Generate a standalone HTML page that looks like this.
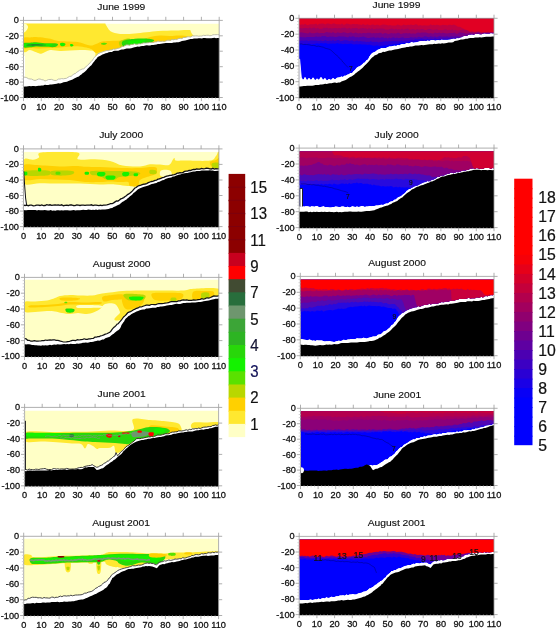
<!DOCTYPE html>
<html><head><meta charset="utf-8"><title>Figure</title>
<style>
html,body{margin:0;padding:0;background:#fff;width:557px;height:628px;overflow:hidden}
svg{display:block;filter:blur(0.35px)}
text{font-family:"Liberation Sans",Arial,sans-serif;fill:#111;stroke:#111;stroke-width:0.2px}
.al{font-size:9.2px;stroke-width:0.28px}
.ti{font-size:10.3px;stroke-width:0.15px}
.cb{font-size:15px}
.cb2{font-size:15.8px}
.cl{font-size:8.5px;fill:#111}
.sm{font-size:7px}
</style></head><body>
<svg width="557" height="628" viewBox="0 0 557 628">
<rect width="557" height="628" fill="#fff"/>
<clipPath id="cL1"><polygon points="23.5,23.6 219.2,23.6 219.2,34.8 217.6,34.6 216,34.7 214.5,34.7 212.9,34.8 211.3,35.6 209.7,35.7 208.2,35.2 206.6,35.3 205,35.5 203.4,35.3 201.9,36 200.3,36 198.7,36.2 197.1,35.9 195.6,35.9 194,36 192.3,35.9 190.5,37 188.8,36.8 187,36.9 185.3,37.5 183.6,37.5 181.9,38.6 180.1,38.3 178.4,38.7 176.7,39.5 175.1,39.3 173.6,39.8 172,39.5 170.4,40.4 168.9,40.2 167.3,40.3 165.8,41 164.2,41.4 162.6,41.2 161.1,41.4 159.5,41.4 157.9,41.1 156.4,41.9 154.8,41.9 153.2,42.5 151.6,42.6 150.1,42.4 148.5,42.7 146.9,42.9 145.3,43.1 143.8,42.9 142.2,43.3 140.6,43.9 139.1,43.8 137.5,44.2 135.9,44.3 134.4,43.8 132.8,44.5 131.3,44.4 129.7,45.2 128.1,45 126.6,44.9 125,45.5 123.6,46.5 122.2,46.4 120.8,47.4 119.4,48.1 118,48.3 116.6,48.8 114.9,49.2 113.3,49.1 111.7,49.9 110,50 108.5,50.6 107,50.4 105.5,50.9 104,51.3 102.4,52 100.8,52.4 99.3,53.2 97.7,53.9 96.7,55.3 95.6,56.1 94.6,57.2 93.5,58.5 92.5,60.2 91.4,61.4 90.1,62.5 88.9,64.1 87.6,65.3 86.4,66.1 85.1,67.7 83.7,68.8 82.3,69 80.8,69.6 79.4,70.4 78,71.5 76.7,72.2 75.3,73.7 73.9,73.8 72.6,75.2 71.1,76.3 69.6,76.4 68,77.3 66.5,78.3 65,78.5 63.3,78.8 61.7,78.6 60,79 58.3,79.1 56.7,80.3 55,80.5 53.3,80.1 51.7,79.4 50,79.5 48.3,79.6 46.7,80.4 45,81 43.3,79.9 41.7,79.7 40,79 38.3,79.1 36.7,79.9 35,80.5 33.3,80 31.7,79.1 30,79 28.4,78.7 26.8,77.7 25.1,77.3 23.5,77"/></clipPath>
<g clip-path="url(#cL1)">
<polygon points="23.5,23.6 219.2,23.6 219.2,34.8 217.6,34.6 216,34.7 214.5,34.7 212.9,34.8 211.3,35.6 209.7,35.7 208.2,35.2 206.6,35.3 205,35.5 203.4,35.3 201.9,36 200.3,36 198.7,36.2 197.1,35.9 195.6,35.9 194,36 192.3,35.9 190.5,37 188.8,36.8 187,36.9 185.3,37.5 183.6,37.5 181.9,38.6 180.1,38.3 178.4,38.7 176.7,39.5 175.1,39.3 173.6,39.8 172,39.5 170.4,40.4 168.9,40.2 167.3,40.3 165.8,41 164.2,41.4 162.6,41.2 161.1,41.4 159.5,41.4 157.9,41.1 156.4,41.9 154.8,41.9 153.2,42.5 151.6,42.6 150.1,42.4 148.5,42.7 146.9,42.9 145.3,43.1 143.8,42.9 142.2,43.3 140.6,43.9 139.1,43.8 137.5,44.2 135.9,44.3 134.4,43.8 132.8,44.5 131.3,44.4 129.7,45.2 128.1,45 126.6,44.9 125,45.5 123.6,46.5 122.2,46.4 120.8,47.4 119.4,48.1 118,48.3 116.6,48.8 114.9,49.2 113.3,49.1 111.7,49.9 110,50 108.5,50.6 107,50.4 105.5,50.9 104,51.3 102.4,52 100.8,52.4 99.3,53.2 97.7,53.9 96.7,55.3 95.6,56.1 94.6,57.2 93.5,58.5 92.5,60.2 91.4,61.4 90.1,62.5 88.9,64.1 87.6,65.3 86.4,66.1 85.1,67.7 83.7,68.8 82.3,69 80.8,69.6 79.4,70.4 78,71.5 76.7,72.2 75.3,73.7 73.9,73.8 72.6,75.2 71.1,76.3 69.6,76.4 68,77.3 66.5,78.3 65,78.5 63.3,78.8 61.7,78.6 60,79 58.3,79.1 56.7,80.3 55,80.5 53.3,80.1 51.7,79.4 50,79.5 48.3,79.6 46.7,80.4 45,81 43.3,79.9 41.7,79.7 40,79 38.3,79.1 36.7,79.9 35,80.5 33.3,80 31.7,79.1 30,79 28.4,78.7 26.8,77.7 25.1,77.3 23.5,77" fill="rgb(255,255,198)"/>
<path d="M23.5 22.5C36.9 17.8 90.4 22.3 104 22.5C117.6 22.7 104.1 22.4 105.2 23.8C106.3 25.2 108 29.5 110.5 31.2C113 32.9 116.1 33.5 120.2 33.9C124.3 34.3 128.7 34 135 33.5C141.3 33 151.3 31.5 158 31C164.7 30.5 170 30.7 175 30.5C180 30.3 185.3 29.8 188 30C190.7 30.2 190.3 29.5 191 32C191.7 34.5 200.5 41.7 192 45C183.5 48.3 155.3 49.5 140 52C124.7 54.5 107.5 60 100 60C92.5 60 96.7 53.6 95 52C93.3 50.4 92.5 50.8 90 50.5C87.5 50.2 83.3 50 80 50C76.7 50 73.3 50.3 70 50.5C66.7 50.7 63.3 51.1 60 51C56.7 50.9 53 49.6 50 50C47 50.4 44 53 42 53.5C40 54 40 53.6 38 53C36 52.4 32.4 50.4 30 50C27.6 49.6 24.6 55.1 23.5 50.5C22.4 45.9 10.1 27.2 23.5 22.5Z" fill="rgb(255,232,48)"/>
<path d="M23.5 24C23.9 22.7 25.2 23.5 26 24C26.8 24.5 28 25.8 28 27C28 28.2 26.8 30.2 26 31C25.2 31.8 23.9 33.2 23.5 32C23.1 30.8 23.1 25.3 23.5 24Z" fill="rgb(255,255,198)"/>
<path d="M23.5 38.2C24.6 36.5 27.9 37.7 30 37.5C32.1 37.3 33.5 37 36 37.1C38.5 37.2 42.3 37.6 45 38C47.7 38.4 49.8 38.7 52 39.2C54.2 39.7 55 40.5 58 40.9C61 41.3 66.3 41.2 70 41.5C73.7 41.8 76.7 41.8 80 42.5C83.3 43.2 87.3 45.2 90 45.5C92.7 45.8 94 44.7 96 44C98 43.3 99.7 42 102 41.5C104.3 41 106.2 41.1 110 40.9C113.8 40.7 120 40.6 125 40.5C130 40.4 135.8 40.6 140 40C144.2 39.4 146.7 37.8 150 37C153.3 36.2 156.7 35.7 160 35.5C163.3 35.3 166.7 36 170 36C173.3 36 177 35.3 180 35.5C183 35.7 186.3 35.2 188 37C189.7 38.8 194.7 44.2 190 46C185.3 47.8 169.2 47.7 160 48C150.8 48.3 143.3 47.7 135 48C126.7 48.3 115.8 49.3 110 50C104.2 50.7 102.3 51.5 100 52C97.7 52.5 97.3 53.4 96 53C94.7 52.6 93.3 50.3 92 49.5C90.7 48.7 90 48.5 88 48C86 47.5 83 46.8 80 46.5C77 46.2 73.3 46.3 70 46.5C66.7 46.7 63.3 47.2 60 47.5C56.7 47.8 53.3 47.8 50 48C46.7 48.2 43.3 48.5 40 48.5C36.7 48.5 32.8 48.1 30 48C27.2 47.9 24.6 49.6 23.5 48C22.4 46.4 22.4 40 23.5 38.2Z" fill="rgb(255,208,0)"/>
<path d="M23.5 43.3C24.6 42.5 27.9 43 30 42.8C32.1 42.6 33.5 42.2 36 42.3C38.5 42.4 41.8 43.1 45 43.3C48.2 43.5 52.8 43.1 55 43.3C57.2 43.5 58 43.9 58 44.5C58 45.1 57.2 46.6 55 47C52.8 47.4 48.2 46.9 45 46.8C41.8 46.7 38.5 46.4 36 46.5C33.5 46.6 32.1 47.2 30 47.3C27.9 47.4 24.6 48 23.5 47.3C22.4 46.6 22.4 44 23.5 43.3Z" fill="rgb(40,215,10)"/>
<path d="M24 44C25 43.5 28 43.7 30 43.5C32 43.3 33.7 42.9 36 43C38.3 43.1 41.3 43.8 44 44C46.7 44.2 51 44 52 44.2C53 44.5 52 45.3 50 45.5C48 45.7 43.3 45.5 40 45.6C36.7 45.7 32.7 45.9 30 46C27.3 46.1 25 46.5 24 46.2C23 45.9 23 44.5 24 44Z" fill="rgb(20,242,0)"/>
<path d="M27 44.8C28.3 44.6 32.8 44.3 36 44.3C39.2 44.3 45.7 44.8 46 45C46.3 45.2 41 45.5 38 45.6C35 45.7 29.8 45.7 28 45.6C26.2 45.5 25.7 45 27 44.8Z" fill="rgb(40,110,60)"/>
<path d="M60 43.5C60.3 43 62.1 42.7 63 42.8C63.9 42.9 65.3 43.5 65.5 44C65.7 44.5 64.8 45.7 64 46C63.2 46.3 61.7 46.4 61 46C60.3 45.6 59.7 44 60 43.5Z" fill="rgb(20,242,0)"/>
<path d="M70 44.5C70.2 44.1 71.4 43.8 72 44C72.6 44.2 73.7 45.1 73.5 45.5C73.3 45.9 71.6 46.7 71 46.5C70.4 46.3 69.8 44.9 70 44.5Z" fill="rgb(20,242,0)"/>
<path d="M101 43.5C101.3 43.2 103 42.8 104 42.8C105 42.8 106.8 43 107 43.3C107.2 43.6 105.8 44.6 105 44.8C104.2 45 102.7 44.8 102 44.6C101.3 44.4 100.7 43.8 101 43.5Z" fill="rgb(90,225,0)"/>
<path d="M119 42C119.5 40.8 122.2 40 124 39.5C125.8 39 129.3 38.1 130 39C130.7 39.9 129.5 43.7 128 45C126.5 46.3 122.5 47.5 121 47C119.5 46.5 118.5 43.2 119 42Z" fill="rgb(185,215,0)"/>
<path d="M123 41C125 39.8 131.3 39.2 135 38.8C138.7 38.4 141.8 38.4 145 38.6C148.2 38.8 153.2 39.3 154 40C154.8 40.7 152.3 42.1 150 43C147.7 43.9 143.3 44.9 140 45.5C136.7 46.1 132.8 46.4 130 46.5C127.2 46.6 124.2 46.9 123 46C121.8 45.1 121 42.2 123 41Z" fill="rgb(40,215,10)"/>
<path d="M128 41.5C129 40.8 135 40.2 138 40C141 39.8 145.7 39.6 146 40.2C146.3 40.8 142.3 42.8 140 43.5C137.7 44.2 134 44.8 132 44.5C130 44.2 127 42.2 128 41.5Z" fill="rgb(20,242,0)"/>
<polygon points="23.5,56 25,56 25,77 23.5,77" fill="#fff"/>
</g>
<polyline points="23.5,77 25.1,77.3 26.8,77.7 28.4,78.7 30,79 31.7,79.1 33.3,80 35,80.5 36.7,79.9 38.3,79.1 40,79 41.7,79.7 43.3,79.9 45,81 46.7,80.4 48.3,79.6 50,79.5 51.7,79.4 53.3,80.1 55,80.5 56.7,80.3 58.3,79.1 60,79 61.7,78.6 63.3,78.8 65,78.5 66.5,78.3 68,77.3 69.6,76.4 71.1,76.3 72.6,75.2 73.9,73.8 75.3,73.7 76.7,72.2 78,71.5 79.4,70.4 80.8,69.6 82.3,69 83.7,68.8 85.1,67.7 86.4,66.1 87.6,65.3 88.9,64.1 90.1,62.5 91.4,61.4 92.5,60.2 93.5,58.5 94.6,57.2 95.6,56.1 96.7,55.3 97.7,53.9 99.3,53.2 100.8,52.4 102.4,52 104,51.3 105.5,50.9 107,50.4 108.5,50.6 110,50 111.7,49.9 113.3,49.1 114.9,49.2 116.6,48.8 118,48.3 119.4,48.1 120.8,47.4 122.2,46.4 123.6,46.5 125,45.5 126.6,44.9 128.1,45 129.7,45.2 131.3,44.4 132.8,44.5 134.4,43.8 135.9,44.3 137.5,44.2 139.1,43.8 140.6,43.9 142.2,43.3 143.8,42.9 145.3,43.1 146.9,42.9 148.5,42.7 150.1,42.4 151.6,42.6 153.2,42.5 154.8,41.9 156.4,41.9 157.9,41.1 159.5,41.4 161.1,41.4 162.6,41.2 164.2,41.4 165.8,41 167.3,40.3 168.9,40.2 170.4,40.4 172,39.5 173.6,39.8 175.1,39.3 176.7,39.5 178.4,38.7 180.1,38.3 181.9,38.6 183.6,37.5 185.3,37.5 187,36.9 188.8,36.8 190.5,37 192.3,35.9 194,36 195.6,35.9 197.1,35.9 198.7,36.2 200.3,36 201.9,36 203.4,35.3 205,35.5 206.6,35.3 208.2,35.2 209.7,35.7 211.3,35.6 212.9,34.8 214.5,34.7 216,34.7 217.6,34.6 219.2,34.8" fill="none" stroke="#b8b8a0" stroke-width="0.9"/>
<polygon points="23.5,98.1 23.5,86.7 25,86.6 26.5,86.6 28,86.3 29.5,86 31,86.2 32.5,86 34,86 35.5,86.2 37,85.9 38.5,85.7 40,85.7 41.5,85.5 43.2,85.4 44.9,84.8 46.6,85.1 48.3,84.9 50,84.5 51.7,84.5 53.3,84.3 55,83.9 56.7,83.7 58.3,83.3 60,83.4 61.8,83.1 63.5,82.3 65.2,81.9 67,81.8 68.4,81.1 69.8,80.5 71.2,80.1 72.6,79.6 74.2,78.6 75.8,77.8 77.3,77.1 78.9,76.5 80.1,75.2 81.4,74.4 82.6,73.2 83.9,72.6 85.1,71.4 86.4,70.2 87.6,68.7 88.9,67.5 90.1,66.3 91.4,65.2 92.4,63.8 93.3,62.4 94.2,61.6 95.2,60.1 96.5,58.8 97.7,57 99.3,56.2 100.8,55.4 102.4,54.4 104,53.9 105.6,53.2 107.2,52.9 108.7,52.3 110.3,52 111.9,51.9 113.4,51.1 115,50.7 116.6,50.7 118.3,50.7 120,50.1 121.6,49.5 123.3,49.4 125,49.1 126.6,48.5 128.1,48.6 129.7,48.5 131.3,48.2 132.8,47.8 134.4,47.3 135.9,47 137.5,46.6 139.1,46.7 140.6,46.3 142.2,46 143.8,46 145.3,45.5 146.9,45.3 148.5,45.5 150.1,45.4 151.6,45.1 153.2,44.9 154.8,44.7 156.4,44.5 157.9,44 159.5,44 161.1,43.8 162.6,43.6 164.2,43.2 165.8,43.1 167.3,43 168.9,42.9 170.4,43 172,43 173.6,42.5 175.1,42.6 176.7,42.2 178.4,42.2 180.1,41.8 181.9,41.1 183.6,40.7 185.3,40.5 187,39.9 188.8,39.5 190.5,39.1 192.3,38.9 194,38.4 195.6,38.6 197.1,38.5 198.7,38.3 200.3,38.3 201.9,38.4 203.4,37.9 205,38.1 206.6,38.2 208.2,38.3 209.7,38.2 211.3,38.2 212.9,38 214.5,37.8 216,38.2 217.6,37.9 219.2,38 219.2,98.1" fill="#000"/>
<clipPath id="cL2"><polygon points="23.5,151.8 218.9,151.8 218.9,168.9 217.4,168.8 215.9,168.7 214.4,169.1 212.8,168.3 211.3,169 209.8,168.9 208.3,168.4 206.6,168.1 204.9,168.7 203.2,168.9 201.6,168.4 199.9,169.2 198.2,169.2 196.5,169 195,169.5 193.5,169.3 192,169.9 190.5,170.5 189,170.4 187.6,171.1 186.1,171.1 184.6,171.4 183.1,172.4 181.6,172.8 180.2,172.7 178.7,173 177.2,173.2 175.7,174.2 174.2,174.6 172.8,174.8 171.3,175.4 169.8,175.4 168.3,175.8 166.8,176.2 165.3,176.7 163.9,177.4 162.4,177.7 160.9,178.3 159.4,178.9 157.9,179.2 156.5,180.2 155,180.3 153.3,181.1 151.7,181.5 150,182 148.3,182.7 146.7,183.6 145,184 142.9,184.3 140.9,185.1 139.1,185.5 137.3,186.5 136.1,187.5 134.9,188 133.7,189.4 132.5,190.9 131.3,191.9 130.1,193 128.8,193.9 127.6,194.6 126.3,195.7 125.1,196.5 123.7,197.6 122.2,198.3 120.8,198.9 119.4,200.1 118,201.1 116.5,201 115.1,201.9 113.6,202.9 112.2,203.7 110.4,203.6 108.6,204.5 106.8,204.9 105,205.2 103.5,205.2 102,205.6 100.5,205.1 99,205.6 97.5,205.3 96,205.2 94.5,205.1 93,205.6 91.5,204.8 90,205.2 88.3,205.2 86.7,205.1 85,205.4 83.3,205.1 81.7,205.2 80,205.5 78.3,205.2 76.7,205 75,205.6 73.3,205.5 71.7,205 70,205 68.3,205.5 66.7,205.1 65,205.3 63.3,205.7 61.7,204.8 60,205.3 58.3,204.8 56.7,205.2 55,204.9 53.3,205.1 51.7,205.4 50,204.8 48.3,205.2 46.7,204.7 45,205.5 43.3,205.7 41.7,205 40,205.5 38.3,205.1 36.6,205.1 35,205.6 33.3,205.8 31.6,205.2 30,205.2 28.3,205.7 26.6,205.2 25.1,205.5 23.5,205.2"/></clipPath>
<g clip-path="url(#cL2)">
<polygon points="23.5,151.8 218.9,151.8 218.9,168.9 217.4,168.8 215.9,168.7 214.4,169.1 212.8,168.3 211.3,169 209.8,168.9 208.3,168.4 206.6,168.1 204.9,168.7 203.2,168.9 201.6,168.4 199.9,169.2 198.2,169.2 196.5,169 195,169.5 193.5,169.3 192,169.9 190.5,170.5 189,170.4 187.6,171.1 186.1,171.1 184.6,171.4 183.1,172.4 181.6,172.8 180.2,172.7 178.7,173 177.2,173.2 175.7,174.2 174.2,174.6 172.8,174.8 171.3,175.4 169.8,175.4 168.3,175.8 166.8,176.2 165.3,176.7 163.9,177.4 162.4,177.7 160.9,178.3 159.4,178.9 157.9,179.2 156.5,180.2 155,180.3 153.3,181.1 151.7,181.5 150,182 148.3,182.7 146.7,183.6 145,184 142.9,184.3 140.9,185.1 139.1,185.5 137.3,186.5 136.1,187.5 134.9,188 133.7,189.4 132.5,190.9 131.3,191.9 130.1,193 128.8,193.9 127.6,194.6 126.3,195.7 125.1,196.5 123.7,197.6 122.2,198.3 120.8,198.9 119.4,200.1 118,201.1 116.5,201 115.1,201.9 113.6,202.9 112.2,203.7 110.4,203.6 108.6,204.5 106.8,204.9 105,205.2 103.5,205.2 102,205.6 100.5,205.1 99,205.6 97.5,205.3 96,205.2 94.5,205.1 93,205.6 91.5,204.8 90,205.2 88.3,205.2 86.7,205.1 85,205.4 83.3,205.1 81.7,205.2 80,205.5 78.3,205.2 76.7,205 75,205.6 73.3,205.5 71.7,205 70,205 68.3,205.5 66.7,205.1 65,205.3 63.3,205.7 61.7,204.8 60,205.3 58.3,204.8 56.7,205.2 55,204.9 53.3,205.1 51.7,205.4 50,204.8 48.3,205.2 46.7,204.7 45,205.5 43.3,205.7 41.7,205 40,205.5 38.3,205.1 36.6,205.1 35,205.6 33.3,205.8 31.6,205.2 30,205.2 28.3,205.7 26.6,205.2 25.1,205.5 23.5,205.2" fill="rgb(255,255,198)"/>
<path d="M23.5 160.3C25.1 156.4 30.4 160.3 33 159.8C35.6 159.3 37.6 158.7 39 157.5C40.4 156.3 35.1 153.2 41.5 152.4C47.9 151.6 71.2 151.2 77.3 152.4C83.4 153.6 75 158.2 78 159.3C81 160.5 89.7 159 95 159.3C100.3 159.6 105.4 159.9 110 161C114.6 162.1 117.7 164.7 122.7 165.6C127.7 166.5 135.4 166.7 140 166.5C144.6 166.3 146.7 164.6 150 164.3C153.3 164 156.8 164.4 160 164.5C163.2 164.6 166.9 165.8 169 165C171.1 164.2 171.7 161.2 172.6 160C173.5 158.8 173.9 157.9 174.5 158C175.1 158.1 174.2 160.2 176 160.6C177.8 161 179.3 160.6 185 160.6C190.7 160.6 204.8 161.4 210 160.6C215.2 159.8 214.5 157.4 216 156C217.5 154.6 218.5 148.8 219 152C219.5 155.2 227.2 171 219 175C210.8 179 179.8 175.2 170 176C160.2 176.8 163.3 178.7 160 180C156.7 181.3 153.3 183 150 184C146.7 185 142.5 185.7 140 186C137.5 186.3 137.5 186.1 135 186C132.5 185.9 128.3 186 125 185.7C121.7 185.4 119.2 184.6 115 184.4C110.8 184.2 105.8 184.6 100 184.4C94.2 184.2 86.7 183.7 80 183.5C73.3 183.3 66.7 183.6 60 183.5C53.3 183.4 46.1 183.3 40 183.2C33.9 183.1 26.2 186.8 23.5 183C20.8 179.2 21.9 164.2 23.5 160.3Z" fill="rgb(255,232,48)"/>
<path d="M23.5 165.6C25.4 163.2 31.4 165 35 165C38.6 165 40.8 165.3 45 165.6C49.2 165.8 54.7 166.4 60 166.5C65.3 166.6 72.8 165.9 77 166C81.2 166.1 81.2 166.6 85 166.8C88.8 167 93.8 166.8 100 167C106.2 167.2 115.3 167.8 122 168C128.7 168.2 135.3 168.2 140 168C144.7 167.8 147.3 167.1 150 167C152.7 166.9 154.8 167 156 167.5C157.2 168 157 168.9 157 170C157 171.1 157.2 173 156 174C154.8 175 152.7 175 150 176C147.3 177 142 178.3 140 180C138 181.7 139.7 185 138 186C136.3 187 131.7 186.7 130 186C128.3 185.3 129.7 182.7 128 182C126.3 181.3 123 182.1 120 182C117 181.9 113.3 181.5 110 181.5C106.7 181.5 104.2 181.9 100 182C95.8 182.1 90 182.3 85 182C80 181.7 75 180.4 70 180C65 179.6 60 179.7 55 179.5C50 179.3 45.2 179 40 179C34.8 179 26.2 181.7 23.5 179.5C20.8 177.3 21.6 168 23.5 165.6Z" fill="rgb(255,208,0)"/>
<path d="M210 162C210.7 160.8 214.5 160.7 216 160C217.5 159.3 218.5 157 219 158C219.5 159 220.2 164.5 219 166C217.8 167.5 213.5 167.7 212 167C210.5 166.3 209.3 163.2 210 162Z" fill="rgb(255,208,0)"/>
<path d="M24 171C27.8 170.2 42.7 170.2 47 170.5C51.3 170.8 50 172.2 50 173C50 173.8 51.3 175.1 47 175.5C42.7 175.9 27.8 176.2 24 175.5C20.2 174.8 20.2 171.8 24 171Z" fill="rgb(185,215,0)"/>
<path d="M52 171C55.3 170.3 68.5 170.5 72 171C75.5 171.5 74.2 173.2 73 174C71.8 174.8 68.5 175.3 65 175.5C61.5 175.7 54.2 175.8 52 175C49.8 174.2 48.7 171.7 52 171Z" fill="rgb(185,215,0)"/>
<path d="M92 171C96.7 170.3 112.3 170.8 120 171C127.7 171.2 135 171.3 138 172C141 172.7 141 174.2 138 175C135 175.8 123.8 176.3 120 177C116.2 177.7 117.3 179 115 179.4C112.7 179.8 108.5 180 106 179.4C103.5 178.8 102.3 176.7 100 176C97.7 175.3 93.3 175.8 92 175C90.7 174.2 87.3 171.7 92 171Z" fill="rgb(185,215,0)"/>
<path d="M150 170C151 169.4 155 169.9 156 170.5C157 171.1 157 173.2 156 173.8C155 174.4 151 174.4 150 173.8C149 173.2 149 170.6 150 170Z" fill="rgb(185,215,0)"/>
<path d="M212 163.5C213 162.8 217.8 162.2 218.9 163C220.1 163.8 219.9 167.2 218.9 168C217.9 168.8 214.2 168.2 213 167.5C211.8 166.8 211 164.2 212 163.5Z" fill="rgb(185,215,0)"/>
<path d="M38.3 168C38.8 167.6 40.6 168 41 168.5C41.4 169 41.4 170.8 40.9 171.2C40.4 171.6 38.7 171.7 38.3 171.2C37.9 170.7 37.8 168.4 38.3 168Z" fill="rgb(20,242,0)"/>
<path d="M24 172C24.5 171.5 26.5 171.5 27 172C27.5 172.5 27.5 174.5 27 175C26.5 175.5 24.5 175.5 24 175C23.5 174.5 23.5 172.5 24 172Z" fill="rgb(20,242,0)"/>
<path d="M56 172C56.7 171.6 59.3 171.6 60 172C60.7 172.4 60.7 174.1 60 174.5C59.3 174.9 56.7 174.9 56 174.5C55.3 174.1 55.3 172.4 56 172Z" fill="rgb(90,225,0)"/>
<path d="M85 172C85.6 171.6 88 171.6 88.6 172C89.2 172.4 89.2 174.1 88.6 174.5C88 174.9 85.6 174.9 85 174.5C84.4 174.1 84.4 172.4 85 172Z" fill="rgb(20,242,0)"/>
<path d="M97.6 172.5C98.8 171.9 103.9 171.9 105 172.5C106.1 173.1 105.2 175.4 104 176C102.8 176.6 99.1 176.6 98 176C96.9 175.4 96.4 173.1 97.6 172.5Z" fill="rgb(20,242,0)"/>
<path d="M106 176C107.3 175.4 113.7 175.4 115 176C116.3 176.6 115.3 178.8 114 179.4C112.7 180 108.3 180 107 179.4C105.7 178.8 104.7 176.6 106 176Z" fill="rgb(20,242,0)"/>
<path d="M122.7 172.5C123.7 171.9 128.1 171.9 129 172.5C129.9 173.1 129 175.4 128 176C127 176.6 123.9 176.6 123 176C122.1 175.4 121.7 173.1 122.7 172.5Z" fill="rgb(20,242,0)"/>
<path d="M134 173.5C134.6 173.1 137.2 173.1 137.8 173.5C138.4 173.9 138.1 175.6 137.5 176C136.9 176.4 134.6 176.4 134 176C133.4 175.6 133.4 173.9 134 173.5Z" fill="rgb(20,242,0)"/>
<path d="M161 170.5C162.5 169.5 168.3 169.6 170 170.5C171.7 171.4 172.5 175 171 176C169.5 177 162.7 177.2 161 176.3C159.3 175.4 159.5 171.5 161 170.5Z" fill="rgb(255,255,198)"/>
<polygon points="23.3,172 23.9,172 24.8,185 25.8,198 26.8,206 23.3,206" fill="#fff"/>
</g>
<polyline points="23.5,205.2 25.1,205.5 26.6,205.2 28.3,205.7 30,205.2 31.6,205.2 33.3,205.8 35,205.6 36.6,205.1 38.3,205.1 40,205.5 41.7,205 43.3,205.7 45,205.5 46.7,204.7 48.3,205.2 50,204.8 51.7,205.4 53.3,205.1 55,204.9 56.7,205.2 58.3,204.8 60,205.3 61.7,204.8 63.3,205.7 65,205.3 66.7,205.1 68.3,205.5 70,205 71.7,205 73.3,205.5 75,205.6 76.7,205 78.3,205.2 80,205.5 81.7,205.2 83.3,205.1 85,205.4 86.7,205.1 88.3,205.2 90,205.2 91.5,204.8 93,205.6 94.5,205.1 96,205.2 97.5,205.3 99,205.6 100.5,205.1 102,205.6 103.5,205.2 105,205.2 106.8,204.9 108.6,204.5 110.4,203.6 112.2,203.7 113.6,202.9 115.1,201.9 116.5,201 118,201.1 119.4,200.1 120.8,198.9 122.2,198.3 123.7,197.6 125.1,196.5 126.3,195.7 127.6,194.6 128.8,193.9 130.1,193 131.3,191.9 132.5,190.9 133.7,189.4 134.9,188 136.1,187.5 137.3,186.5 139.1,185.5 140.9,185.1 142.9,184.3 145,184 146.7,183.6 148.3,182.7 150,182 151.7,181.5 153.3,181.1 155,180.3 156.5,180.2 157.9,179.2 159.4,178.9 160.9,178.3 162.4,177.7 163.9,177.4 165.3,176.7 166.8,176.2 168.3,175.8 169.8,175.4 171.3,175.4 172.8,174.8 174.2,174.6 175.7,174.2 177.2,173.2 178.7,173 180.2,172.7 181.6,172.8 183.1,172.4 184.6,171.4 186.1,171.1 187.6,171.1 189,170.4 190.5,170.5 192,169.9 193.5,169.3 195,169.5 196.5,169 198.2,169.2 199.9,169.2 201.6,168.4 203.2,168.9 204.9,168.7 206.6,168.1 208.3,168.4 209.8,168.9 211.3,169 212.8,168.3 214.4,169.1 215.9,168.7 217.4,168.8 218.9,168.9" fill="none" stroke="#111" stroke-width="1.3"/>
<polyline points="23.7,171 24.6,185 25.6,198 26.6,205" fill="none" stroke="#111" stroke-width="1"/>
<polygon points="23.5,227.2 23.5,210 25,210.3 26.5,210.3 28,209.9 29.5,210.1 31,210.1 32.5,210.1 34,210 35.5,210.1 37,210.4 38.5,210 40,210.3 41.5,210.3 43.1,210.3 44.6,210.1 46.2,210.3 47.7,210.5 49.2,210.4 50.8,210.1 52.3,210.7 53.8,210.6 55.4,210.7 56.9,210.2 58.5,210.3 60,210.5 61.5,210.2 63.1,210.6 64.6,210.3 66.2,210.2 67.7,210.3 69.2,210.6 70.8,210.5 72.3,210.2 73.8,210.1 75.4,210.5 76.9,210.3 78.5,210.3 80,210.2 81.7,209.9 83.3,209.8 85,210.1 86.7,209.9 88.3,209.6 90,209.8 91.5,210 93,209.8 94.5,209.9 96,209.4 97.5,209.9 99,209.4 100.5,209.8 102,209.5 103.5,209.4 105,209.5 106.8,209.2 108.6,209 110.4,208.2 112.2,208 113.6,207.1 115.1,206.6 116.5,205.7 118,204.9 119.4,204.4 120.8,203.2 122.2,202.1 123.7,201.2 125.1,200.3 126.5,199.4 127.7,198.3 128.8,197.6 130,196.3 131.1,195.4 132.3,194.4 133.5,193.1 134.7,192.2 135.9,191.2 137.7,189.6 139.5,188.6 141.3,187.8 143.2,186.9 145,186.5 146.7,186.1 148.3,185.4 150,184.8 151.7,184.1 153.3,183.8 155,183.3 156.5,183 157.9,181.9 159.4,181.7 160.9,180.9 162.4,180.3 163.9,179.9 165.3,179 166.8,178.5 168.3,178 169.8,177.7 171.3,177.4 172.8,176.6 174.2,176.4 175.7,175.8 177.2,175.3 178.7,174.8 180.2,174.4 181.6,174.1 183.1,173.6 184.6,173.3 186.1,173 187.6,173.1 189,172.5 190.5,172.3 192,171.7 193.5,171.4 195,171.5 196.5,170.9 198.2,171.1 199.9,170.9 201.6,170.6 203.2,170.5 204.9,170.4 206.6,170.4 208.3,170.4 209.8,170.3 211.3,170.5 212.8,170.4 214.4,170.9 215.9,171 217.4,170.8 218.9,170.8 218.9,227.2" fill="#000"/>
<clipPath id="cL3"><polygon points="24.5,279.5 218.8,279.5 218.8,295.6 217.2,296.2 215.6,296.1 213.9,295.9 212.3,296.6 210.5,297.5 208.8,298.1 207,297.8 205.2,298.6 203.5,299.2 201.9,298.7 200.2,299.3 198.5,299.6 196.9,299.9 195.2,300.1 193.5,299.9 191.8,300.3 190.1,300.3 188.5,300.3 186.8,299.9 185.1,300.1 183.4,299.9 181.8,300.1 180.1,300.9 178.4,300.9 176.8,301.6 175.1,301.6 173.4,301.6 171.7,301.7 170.1,301.9 168.4,302.7 166.7,303 165,303.1 163.5,303.5 161.9,303.6 160.4,303.6 158.8,303.7 157.3,304 155.8,304.6 154.2,304.6 152.7,304.5 151.1,304.5 149.5,305.3 147.8,305.1 146.2,305.2 144.6,305.7 143,306.2 141.4,307 139.8,306.8 138.1,307.9 136.5,308.3 135,309.1 133.5,309.8 132,310.8 130.5,311.6 129,312.1 127.7,312.8 126.3,314.5 124.9,315.9 123.6,316.9 122.5,318.5 121.5,319.9 120.4,321.2 119.3,322.3 118.2,323.7 117.2,324 116.1,325.3 115,326.5 114,327.3 112.9,328.3 111.9,329.6 110.8,331.3 109.8,332.2 108.3,333 106.8,333.8 105.3,334.1 103.8,334.9 102.3,335.5 100.8,335.8 99.3,336.6 97.8,336.7 96.3,337.2 94.8,337.2 93.3,338.4 91.8,338.5 90.3,338.9 88.8,338.9 87.3,339.3 85.8,339.4 84.3,338.8 82.8,339.4 81,339.7 79.2,340 77.5,339.6 75.7,340.6 73.9,340.3 72.4,340.4 70.9,340.8 69.4,341.5 67.9,341.6 66.4,341.9 64.9,342 63.4,342 61.9,341.5 60.5,341.2 59,340.6 57.5,340.4 56,340.3 54.5,339.8 53,339.8 51.5,340.2 50,339.9 48.5,340.1 47,340.3 45.5,340 44,340.6 42.5,340.5 41,340.9 39.5,341 38,341.2 36.2,341.1 34.4,340.7 32.6,341.1 30.8,341.2 29.2,340.3 27.6,340.3 26.1,338.9 24.5,338.5"/></clipPath>
<g clip-path="url(#cL3)">
<polygon points="24.5,279.5 218.8,279.5 218.8,295.6 217.2,296.2 215.6,296.1 213.9,295.9 212.3,296.6 210.5,297.5 208.8,298.1 207,297.8 205.2,298.6 203.5,299.2 201.9,298.7 200.2,299.3 198.5,299.6 196.9,299.9 195.2,300.1 193.5,299.9 191.8,300.3 190.1,300.3 188.5,300.3 186.8,299.9 185.1,300.1 183.4,299.9 181.8,300.1 180.1,300.9 178.4,300.9 176.8,301.6 175.1,301.6 173.4,301.6 171.7,301.7 170.1,301.9 168.4,302.7 166.7,303 165,303.1 163.5,303.5 161.9,303.6 160.4,303.6 158.8,303.7 157.3,304 155.8,304.6 154.2,304.6 152.7,304.5 151.1,304.5 149.5,305.3 147.8,305.1 146.2,305.2 144.6,305.7 143,306.2 141.4,307 139.8,306.8 138.1,307.9 136.5,308.3 135,309.1 133.5,309.8 132,310.8 130.5,311.6 129,312.1 127.7,312.8 126.3,314.5 124.9,315.9 123.6,316.9 122.5,318.5 121.5,319.9 120.4,321.2 119.3,322.3 118.2,323.7 117.2,324 116.1,325.3 115,326.5 114,327.3 112.9,328.3 111.9,329.6 110.8,331.3 109.8,332.2 108.3,333 106.8,333.8 105.3,334.1 103.8,334.9 102.3,335.5 100.8,335.8 99.3,336.6 97.8,336.7 96.3,337.2 94.8,337.2 93.3,338.4 91.8,338.5 90.3,338.9 88.8,338.9 87.3,339.3 85.8,339.4 84.3,338.8 82.8,339.4 81,339.7 79.2,340 77.5,339.6 75.7,340.6 73.9,340.3 72.4,340.4 70.9,340.8 69.4,341.5 67.9,341.6 66.4,341.9 64.9,342 63.4,342 61.9,341.5 60.5,341.2 59,340.6 57.5,340.4 56,340.3 54.5,339.8 53,339.8 51.5,340.2 50,339.9 48.5,340.1 47,340.3 45.5,340 44,340.6 42.5,340.5 41,340.9 39.5,341 38,341.2 36.2,341.1 34.4,340.7 32.6,341.1 30.8,341.2 29.2,340.3 27.6,340.3 26.1,338.9 24.5,338.5" fill="rgb(255,255,198)"/>
<path d="M24.5 302C26.2 300.3 31.2 301.8 35 301.5C38.8 301.2 43.7 301.1 47 300.5C50.3 299.9 52.8 298.8 55 298C57.2 297.2 57.5 296.5 60 296C62.5 295.5 66.7 295.1 70 295C73.3 294.9 76.3 295.4 80 295.5C83.7 295.6 88.3 295.8 92 295.5C95.7 295.2 99 294 102 293.5C105 293 106.5 292.9 110 292.5C113.5 292.1 117.7 291.3 122.7 291C127.7 290.7 133.8 290.6 140 290.5C146.2 290.4 152.7 290.5 160 290.5C167.3 290.5 178.4 290.8 184 290.5C189.6 290.2 187.7 289.1 193.5 288.8C199.3 288.5 214.6 287.3 218.8 288.8C223 290.3 234.9 292.8 218.8 298C202.7 303.2 138.5 317.7 122 320C105.5 322.3 121.2 314.7 120 312C118.8 309.3 117.5 305.3 115 304C112.5 302.7 107.5 303.2 105 304C102.5 304.8 102.2 307.5 100 309C97.8 310.5 94.5 312.2 92 313C89.5 313.8 87.3 314 85 314C82.7 314 80.5 313 78 313C75.5 313 72.7 314 70 314C67.3 314 64.5 313.4 62 313C59.5 312.6 57.5 311.8 55 311.5C52.5 311.2 50.3 310.9 47 311C43.7 311.1 38.8 311.9 35 312C31.2 312.1 26.2 313.2 24.5 311.5C22.8 309.8 22.8 303.7 24.5 302Z" fill="rgb(255,232,48)"/>
<path d="M77 305.6C78.2 305.1 80.2 305 84 305C87.8 305 97 305.1 100 305.5C103 305.9 104.7 307.1 102 307.5C99.3 307.9 88.2 307.9 84 308C79.8 308.1 78.2 308.2 77 307.8C75.8 307.4 75.8 306.1 77 305.6Z" fill="rgb(255,255,198)"/>
<path d="M30 305.5C32.5 305.1 40.3 305.2 45 305C49.7 304.8 53.8 304.5 58 304C62.2 303.5 65.5 302.2 70 302C74.5 301.8 80 302.5 85 302.5C90 302.5 97.5 301.8 100 302C102.5 302.2 102.5 303.6 100 304C97.5 304.4 90 304.4 85 304.5C80 304.6 74.5 304.2 70 304.5C65.5 304.8 62.2 305.6 58 306C53.8 306.4 49.7 306.8 45 307C40.3 307.2 32.5 307.8 30 307.5C27.5 307.2 27.5 305.9 30 305.5Z" fill="rgb(255,208,0)"/>
<path d="M60 298C61.3 297.5 66.7 297.4 70 297.5C73.3 297.6 79.2 298 80 298.5C80.8 299 78 300.2 75 300.5C72 300.8 64.5 300.9 62 300.5C59.5 300.1 58.7 298.5 60 298Z" fill="rgb(255,208,0)"/>
<path d="M102.6 296.8C103.9 295.7 108.7 295.4 112 295C115.3 294.6 121 293.8 122.7 294.5C124.4 295.2 123.8 298.1 122 299C120.2 299.9 115 299.6 112 300C109 300.4 105.6 302 104 301.5C102.4 301 101.3 297.9 102.6 296.8Z" fill="rgb(255,208,0)"/>
<path d="M122.7 296C124.8 294.6 131.7 295.5 135 295.5C138.3 295.5 141.3 295.1 142.8 296C144.3 296.9 144.5 299.3 144 301C143.5 302.7 142 304.7 140 306C138 307.3 134.3 308.5 132 309C129.7 309.5 127.5 309.8 126 309C124.5 308.2 123.2 306.2 122.7 304C122.2 301.8 120.7 297.4 122.7 296Z" fill="rgb(255,208,0)"/>
<path d="M152 293.5C153.7 292.3 160 292.8 165 292.8C170 292.8 179.3 292.5 182 293.5C184.7 294.5 183.3 297.8 181 299C178.7 300.2 172.3 300.3 168 300.5C163.7 300.7 157.7 301.2 155 300C152.3 298.8 150.3 294.7 152 293.5Z" fill="rgb(255,208,0)"/>
<path d="M193.5 291.5C195.4 290 201.7 291 205 291C208.3 291 211.9 290.5 213.3 291.5C214.7 292.5 214.7 295.8 213.3 297C211.9 298.2 208.3 298.5 205 299C201.7 299.5 195.4 301.1 193.5 299.8C191.6 298.6 191.6 293 193.5 291.5Z" fill="rgb(255,208,0)"/>
<path d="M124 294.3C125.7 293.6 131.4 293.8 135 294C138.6 294.2 144.1 294.4 145.3 295.5C146.5 296.6 144.6 299.8 142 300.6C139.4 301.5 132.8 301 130 300.6C127.2 300.2 126 299.1 125 298C124 296.9 122.3 295 124 294.3Z" fill="rgb(185,215,0)"/>
<path d="M130 296.8C132 296.3 141 296.3 142.8 296.8C144.6 297.3 143 299.5 141 300C139 300.5 132.8 300.5 131 300C129.2 299.5 128 297.3 130 296.8Z" fill="rgb(20,242,0)"/>
<path d="M171 298C171.8 297.4 175.2 297.4 176 298C176.8 298.6 176.8 301 176 301.6C175.2 302.2 171.8 302.2 171 301.6C170.2 301 170.2 298.6 171 298Z" fill="rgb(185,215,0)"/>
<path d="M201.7 293C202.8 292 207.5 291.9 208.7 292.8C209.9 293.8 209.8 297.7 208.7 298.7C207.6 299.7 203.2 299.6 202 298.7C200.8 297.8 200.6 294 201.7 293Z" fill="rgb(185,215,0)"/>
<path d="M65.5 309C66 308.4 68.5 308.4 70 308.5C71.5 308.6 74 308.9 74.5 309.5C75 310.1 74.2 311.8 73 312.3C71.8 312.8 68.2 312.9 67 312.3C65.8 311.8 65 309.6 65.5 309Z" fill="rgb(40,215,10)"/>
<path d="M67.5 309.6C68.2 309.3 71.8 309.3 72.5 309.6C73.2 309.9 72.8 311.2 72 311.5C71.2 311.8 68.8 311.8 68 311.5C67.2 311.2 66.8 309.9 67.5 309.6Z" fill="rgb(20,242,0)"/>
<path d="M64.7 302C65.1 301.8 66.6 301.8 67 302C67.4 302.2 67.4 303 67 303.2C66.6 303.4 65.1 303.4 64.7 303.2C64.3 303 64.3 302.2 64.7 302Z" fill="rgb(90,225,0)"/>
</g>
<polyline points="24.5,338.5 26.1,338.9 27.6,340.3 29.2,340.3 30.8,341.2 32.6,341.1 34.4,340.7 36.2,341.1 38,341.2 39.5,341 41,340.9 42.5,340.5 44,340.6 45.5,340 47,340.3 48.5,340.1 50,339.9 51.5,340.2 53,339.8 54.5,339.8 56,340.3 57.5,340.4 59,340.6 60.5,341.2 61.9,341.5 63.4,342 64.9,342 66.4,341.9 67.9,341.6 69.4,341.5 70.9,340.8 72.4,340.4 73.9,340.3 75.7,340.6 77.5,339.6 79.2,340 81,339.7 82.8,339.4 84.3,338.8 85.8,339.4 87.3,339.3 88.8,338.9 90.3,338.9 91.8,338.5 93.3,338.4 94.8,337.2 96.3,337.2 97.8,336.7 99.3,336.6 100.8,335.8 102.3,335.5 103.8,334.9 105.3,334.1 106.8,333.8 108.3,333 109.8,332.2 110.8,331.3 111.9,329.6 112.9,328.3 114,327.3 115,326.5 116.1,325.3 117.2,324 118.2,323.7 119.3,322.3 120.4,321.2 121.5,319.9 122.5,318.5 123.6,316.9 124.9,315.9 126.3,314.5 127.7,312.8 129,312.1 130.5,311.6 132,310.8 133.5,309.8 135,309.1 136.5,308.3 138.1,307.9 139.8,306.8 141.4,307 143,306.2 144.6,305.7 146.2,305.2 147.8,305.1 149.5,305.3 151.1,304.5 152.7,304.5 154.2,304.6 155.8,304.6 157.3,304 158.8,303.7 160.4,303.6 161.9,303.6 163.5,303.5 165,303.1 166.7,303 168.4,302.7 170.1,301.9 171.7,301.7 173.4,301.6 175.1,301.6 176.8,301.6 178.4,300.9 180.1,300.9 181.8,300.1 183.4,299.9 185.1,300.1 186.8,299.9 188.5,300.3 190.1,300.3 191.8,300.3 193.5,299.9 195.2,300.1 196.9,299.9 198.5,299.6 200.2,299.3 201.9,298.7 203.5,299.2 205.2,298.6 207,297.8 208.8,298.1 210.5,297.5 212.3,296.6 213.9,295.9 215.6,296.1 217.2,296.2 218.8,295.6" fill="none" stroke="#111" stroke-width="1.2"/>
<polygon points="24.5,357 24.5,343.9 26,344.4 27.5,344.2 29,344.3 30.5,344.5 32,345.1 33.5,344.9 35,345.3 36.5,345.2 38,345.6 39.5,345.5 41,345.7 42.5,345.2 44,345.5 45.5,345.2 47,345.4 48.5,345.2 50,344.8 51.5,345.2 53,344.8 54.5,344.5 56,344.7 57.6,344.3 59.3,344.5 60.9,344.5 62.5,344.3 64.1,344.1 65.8,344.2 67.4,344.1 69,344.3 70.6,343.7 72.3,344.1 73.9,343.9 75.4,343.9 76.9,343.4 78.4,343.7 79.9,343.4 81.4,343.3 82.8,342.8 84.3,342.7 85.8,342.6 87.3,342.8 88.8,342.4 90.3,342.1 91.8,342 93.3,341.7 94.8,341.3 96.3,340.9 97.8,340.6 99.3,340.8 100.8,340.3 102.3,339.6 103.8,339.4 105.3,338.3 106.8,337.8 108.3,337.3 109.8,336.7 111.1,335.5 112.4,334.5 113.7,333.8 115,332.5 117.2,330.8 118.6,329.9 120,328.5 120.8,326.9 121.5,325 122.4,323.8 123.2,322.6 124.1,321.4 124.9,319.8 125.8,318.5 127.1,317.6 128.5,316.1 129.8,315.4 131.2,314.2 133,313.3 134.7,312.6 136.5,311.5 138.1,311.1 139.8,310.3 141.4,309.7 143,309.4 144.6,309.4 146.2,308.6 147.8,308.6 149.5,308.2 151.1,307.9 152.7,307.8 154.2,307.7 155.8,307.7 157.3,307 158.8,307 160.4,306.6 161.9,306.6 163.5,306.2 165,306.1 166.7,305.6 168.4,305.2 170.1,304.9 171.7,305 173.4,304.4 175.1,304.1 176.8,303.8 178.4,304 180.1,303.9 181.8,303.4 183.4,303.1 185.1,303.1 186.8,302.8 188.5,302.7 190.1,302.8 191.8,302.5 193.5,302.5 195.2,302.6 196.9,302.2 198.5,302.1 200.2,302.1 201.9,301.7 203.5,301.3 205.2,301.1 207,300.7 208.8,300.4 210.5,299.9 212.3,299.6 213.9,299.3 215.6,298.8 217.2,298.7 218.8,298.6 218.8,357" fill="#000"/>
<clipPath id="cL4"><polygon points="24.6,410.5 218.6,410.5 218.6,424.6 217.1,425.4 215.6,424.9 214.1,425.4 212.6,425.5 211.1,426.6 209.6,426.6 208.1,426.7 206.6,427.1 205,427.1 203.4,427.3 201.9,427.8 200.3,428.5 198.7,428.1 197.2,428.8 195.6,428.5 194,429 192.5,428.9 190.9,429.7 189.4,429.4 187.9,430.3 186.3,429.8 184.8,430.3 183.3,430.7 181.7,431 180.2,430.9 178.6,430.9 177,431.8 175.4,431.8 173.8,432.1 172.2,432.1 170.6,432.6 169,433.7 167.4,433.8 165.8,433.7 164.2,434.2 162.6,434.6 161,435.1 159.4,435.2 157.9,435 156.3,435.6 154.7,436.3 153.2,436.9 151.6,436.4 150,437 148.3,436.9 146.7,437.3 145,437.5 143.3,438.1 141.6,438.2 139.8,438.7 138.1,438.5 136.4,438.8 135.2,439.9 133.9,441.3 132.7,441.8 131.4,443.3 130.2,443.9 128.9,445.1 127.3,445.9 125.7,447 124.7,448.3 123.6,449.5 122.6,450.7 121.3,451.5 120,452.9 118.8,454.7 117.5,455.8 116.8,454.3 116,452.6 115.5,454 115,455.8 113.8,456.4 112.5,457.5 111.2,458.7 110,459.5 108.6,460.9 107.2,461.2 105.8,462.8 104.4,463 103,464.5 101.4,465.3 99.8,465.9 98.3,466.9 96.7,467.3 95.2,466.5 93.7,465.7 92.2,464.6 90.4,465.5 88.6,465.7 86.8,466 85,466.4 82.6,467.5 81.1,467.4 79.5,467.6 78,468 76.5,468.5 74.9,469 73.2,469 71.6,469 69.9,469.2 68.3,468.7 66.6,468.4 65,469 63.2,469 61.4,468.9 59.5,469.2 57.7,468.8 56.2,469.1 54.6,468.6 53.1,468.7 51.5,469.7 50,469.5 48.3,469.5 46.7,469.3 45,468.5 43.5,468.7 42,468.9 40.4,469 38.9,469.5 37.3,469.3 35.6,469.2 34,469.9 32.4,469.6 30.7,469.5 29.1,469.1 27.4,470 25.8,469.5"/></clipPath>
<g clip-path="url(#cL4)">
<polygon points="24.6,410.5 218.6,410.5 218.6,424.6 217.1,425.4 215.6,424.9 214.1,425.4 212.6,425.5 211.1,426.6 209.6,426.6 208.1,426.7 206.6,427.1 205,427.1 203.4,427.3 201.9,427.8 200.3,428.5 198.7,428.1 197.2,428.8 195.6,428.5 194,429 192.5,428.9 190.9,429.7 189.4,429.4 187.9,430.3 186.3,429.8 184.8,430.3 183.3,430.7 181.7,431 180.2,430.9 178.6,430.9 177,431.8 175.4,431.8 173.8,432.1 172.2,432.1 170.6,432.6 169,433.7 167.4,433.8 165.8,433.7 164.2,434.2 162.6,434.6 161,435.1 159.4,435.2 157.9,435 156.3,435.6 154.7,436.3 153.2,436.9 151.6,436.4 150,437 148.3,436.9 146.7,437.3 145,437.5 143.3,438.1 141.6,438.2 139.8,438.7 138.1,438.5 136.4,438.8 135.2,439.9 133.9,441.3 132.7,441.8 131.4,443.3 130.2,443.9 128.9,445.1 127.3,445.9 125.7,447 124.7,448.3 123.6,449.5 122.6,450.7 121.3,451.5 120,452.9 118.8,454.7 117.5,455.8 116.8,454.3 116,452.6 115.5,454 115,455.8 113.8,456.4 112.5,457.5 111.2,458.7 110,459.5 108.6,460.9 107.2,461.2 105.8,462.8 104.4,463 103,464.5 101.4,465.3 99.8,465.9 98.3,466.9 96.7,467.3 95.2,466.5 93.7,465.7 92.2,464.6 90.4,465.5 88.6,465.7 86.8,466 85,466.4 82.6,467.5 81.1,467.4 79.5,467.6 78,468 76.5,468.5 74.9,469 73.2,469 71.6,469 69.9,469.2 68.3,468.7 66.6,468.4 65,469 63.2,469 61.4,468.9 59.5,469.2 57.7,468.8 56.2,469.1 54.6,468.6 53.1,468.7 51.5,469.7 50,469.5 48.3,469.5 46.7,469.3 45,468.5 43.5,468.7 42,468.9 40.4,469 38.9,469.5 37.3,469.3 35.6,469.2 34,469.9 32.4,469.6 30.7,469.5 29.1,469.1 27.4,470 25.8,469.5" fill="rgb(255,255,198)"/>
<path d="M25 432C29.2 430.4 42.5 432 50 432C57.5 432 63 431.9 70 431.8C77 431.7 85.3 431.6 92 431.4C98.7 431.2 103.2 430.7 110 430.5C116.8 430.3 129 431.9 132.8 430C136.6 428.1 130.1 420.7 133 419C135.9 417.3 145.5 419.7 150 420C154.5 420.3 155.8 420.4 160 420.8C164.2 421.2 171.7 421.8 175 422.5C178.3 423.2 179 423.4 180 425C181 426.6 182.7 430.2 181 432C179.3 433.8 175.2 434.7 170 436C164.8 437.3 155 439 150 440C145 441 144.2 440.5 140 442C135.8 443.5 128.9 447.2 125 449C121.1 450.8 118.2 453.5 116.4 453C114.6 452.5 115.1 446.9 114 446C112.9 445.1 112.3 447.4 110 447.7C107.7 448 102.2 447.8 100 448C97.8 448.2 98.2 449.3 97 449C95.8 448.7 94.5 446.8 93 446C91.5 445.2 89.3 443.6 88 444C86.7 444.4 86.2 448.5 85 448.5C83.8 448.5 83.2 444.8 81 444C78.8 443.2 75.5 443.8 72 443.5C68.5 443.2 64.5 442.8 60 442.5C55.5 442.2 50.8 441.7 45 441.5C39.2 441.3 28.3 443.1 25 441.5C21.7 439.9 20.8 433.6 25 432Z" fill="rgb(255,232,48)"/>
<path d="M192 428C190 427.1 190.8 423.6 193 422.7C195.2 421.8 200.7 422.6 205 422.5C209.3 422.4 216.3 421.6 218.6 422.2C220.9 422.8 220.9 425 218.6 426C216.3 427 209.4 428.1 205 428.4C200.6 428.7 194 428.9 192 428Z" fill="rgb(255,232,48)"/>
<path d="M150 425.8C152.5 424.4 160.4 426.1 165 426.5C169.6 426.9 175.5 427 177.6 428C179.7 429 179.7 431.7 177.6 432.7C175.5 433.7 169.6 433.6 165 434C160.4 434.4 152.5 436.4 150 435C147.5 433.6 147.5 427.2 150 425.8Z" fill="rgb(255,208,0)"/>
<path d="M25.8 433C28.2 432.1 34.3 432.8 40 432.8C45.7 432.8 52.5 433 60 433C67.5 433 78.3 432.8 85 432.8C91.7 432.8 95 432.8 100 432.8C105 432.8 109.5 433 115 432.6C120.5 432.2 127 431.6 132.8 430.7C138.6 429.8 144.6 427.4 150 427C155.4 426.6 161.7 427.3 165 428C168.3 428.7 170 430 170 431C170 432 168.3 433 165 434C161.7 435 155 435.9 150 437C145 438.1 138.5 439.6 135 440.8C131.5 442 130.7 443.5 129 444C127.3 444.5 127.3 444.2 125 444C122.7 443.8 118.3 443.2 115 443C111.7 442.8 108.3 442.7 105 442.5C101.7 442.3 98.3 442.2 95 442C91.7 441.8 89.2 441.8 85 441.5C80.8 441.2 74.2 440.4 70 440C65.8 439.6 63.9 439.2 59.7 439C55.5 438.8 50 438.6 45 438.5C40 438.4 33.2 438.5 30 438.5C26.8 438.5 26.5 439.4 25.8 438.5C25.1 437.6 23.4 433.9 25.8 433Z" fill="rgb(40,215,10)"/>
<path d="M25.8 433.3C28.2 432.8 34.4 433 40 433C45.6 433 56.7 432.8 59.7 433.3C62.7 433.8 61.3 435.5 58 436C54.7 436.5 45.4 436.5 40 436.5C34.6 436.5 28.2 436.5 25.8 436C23.4 435.5 23.4 433.8 25.8 433.3Z" fill="rgb(20,242,0)"/>
<path d="M155 428.5C156.7 427.8 163.5 428.4 165 429C166.5 429.6 165.7 431.3 164 432C162.3 432.7 156.5 433.6 155 433C153.5 432.4 153.3 429.2 155 428.5Z" fill="rgb(20,242,0)"/>
<path d="M132.8 432C134.9 431.1 142.4 431.3 145.3 431.5C148.2 431.7 150 432.2 150 433C150 433.8 148.1 435.3 145.3 436C142.5 436.7 135.1 437.7 133 437C130.9 436.3 130.8 432.9 132.8 432Z" fill="rgb(110,150,110)"/>
<path d="M69.8 434.6C70.4 434.2 72.9 434.2 73.5 434.6C74.1 435 74.1 436.6 73.5 437C72.9 437.4 70.4 437.4 69.8 437C69.2 436.6 69.2 435 69.8 434.6Z" fill="rgb(40,110,60)"/>
<path d="M106.4 434C107.2 433.6 111.2 433.9 112 434.5C112.8 435.1 111.8 437.2 111 437.6C110.2 438 107.8 437.6 107 437C106.2 436.4 105.6 434.4 106.4 434Z" fill="rgb(255,0,0)"/>
<path d="M122.7 432.6C123.8 432.4 128 432.4 129 432.6C130.1 432.8 130.1 433.7 129 433.9C128 434.1 123.8 434.1 122.7 433.9C121.7 433.7 121.7 432.8 122.7 432.6Z" fill="rgb(255,0,0)"/>
<path d="M137.8 430.7C138.4 430.4 140.9 430.4 141.5 430.7C142.1 431 142.1 432.3 141.5 432.6C140.9 432.9 138.4 432.9 137.8 432.6C137.2 432.3 137.2 431 137.8 430.7Z" fill="rgb(255,0,0)"/>
<path d="M149 432.6C149.8 432.1 152.8 432 153.5 432.6C154.2 433.2 153.8 435.5 153 436C152.2 436.5 149.7 436.3 149 435.7C148.3 435.1 148.2 433.1 149 432.6Z" fill="rgb(255,0,0)"/>
<path d="M118.3 435.7C118.6 435.5 119.9 435.5 120.2 435.7C120.5 435.9 120.5 436.8 120.2 437C119.9 437.2 118.6 437.2 118.3 437C118 436.8 118 435.9 118.3 435.7Z" fill="rgb(200,0,30)"/>
<polyline points="45,436.5 46.2,436.1 47.5,435.9 48.8,435.9 50,436.1 51.2,436.6 52.5,436.5 53.8,436.3 55,436 56.2,436.4 57.5,436.3 58.8,435.6 60,435.4 61.2,436.1 62.5,435.9 63.8,435.1 65,435.5 66.2,435.8 67.5,435.6 68.8,435.7 70,435.8 71.2,435.8 72.5,435.8 73.8,436.2 75,436.5 76.2,436.2 77.5,436.7 78.8,435.7 80,436.5 81.2,435.6 82.5,435.6 83.8,435.9 85,435.5 86.2,435.9 87.5,435.6 88.8,435.2 90,435.7 91.2,435.7 92.5,436.3 93.8,435.6 95,436 96.2,435.7 97.5,436.1 98.8,435.2 100,435.4 101.2,435.7 102.5,435.5 103.8,434.7 105,435 106.2,434.6 107.5,434.7 108.8,435.6 110,435 111.2,435.6 112.5,435.8 113.8,435.3 115,435.5 116.2,435.1 117.5,435.6 118.8,435.1 120,434.5 121.2,434.8 122.5,434.2 123.8,434 125,434 126.2,433.4 127.5,434 128.8,434 130,433.6 131.2,433.8 132.5,432.8 133.8,432.9 135,433" fill="none" stroke="#789a72" stroke-width="0.8"/>
<polyline points="60,438 61.2,437.9 62.5,438.3 63.8,438.3 65,437.6 66.2,437.4 67.5,437.6 68.8,437.6 70,437.5 71.2,438.1 72.5,437.4 73.8,438.2 75,438.2 76.2,438.4 77.5,438.5 78.8,438.5 80,438.5 81.2,438.2 82.5,438.1 83.8,438 85,438.3 86.2,437.5 87.5,437.4 88.8,437.9 90,437.5 91.2,437.3 92.5,437.2 93.8,437.2 95,437.8 96.2,437.6 97.5,438.4 98.8,438.3 100,438" fill="none" stroke="#789a72" stroke-width="0.8"/>
</g>
<polyline points="25.8,469.5 27.4,470 29.1,469.1 30.7,469.5 32.4,469.6 34,469.9 35.6,469.2 37.3,469.3 38.9,469.5 40.4,469 42,468.9 43.5,468.7 45,468.5 46.7,469.3 48.3,469.5 50,469.5 51.5,469.7 53.1,468.7 54.6,468.6 56.2,469.1 57.7,468.8 59.5,469.2 61.4,468.9 63.2,469 65,469 66.6,468.4 68.3,468.7 69.9,469.2 71.6,469 73.2,469 74.9,469 76.5,468.5 78,468 79.5,467.6 81.1,467.4 82.6,467.5 85,466.4 86.8,466 88.6,465.7 90.4,465.5 92.2,464.6 93.7,465.7 95.2,466.5 96.7,467.3 98.3,466.9 99.8,465.9 101.4,465.3 103,464.5 104.4,463 105.8,462.8 107.2,461.2 108.6,460.9 110,459.5 111.2,458.7 112.5,457.5 113.8,456.4 115,455.8 115.5,454 116,452.6 116.8,454.3 117.5,455.8 118.8,454.7 120,452.9 121.3,451.5 122.6,450.7 123.6,449.5 124.7,448.3 125.7,447 127.3,445.9 128.9,445.1 130.2,443.9 131.4,443.3 132.7,441.8 133.9,441.3 135.2,439.9 136.4,438.8 138.1,438.5 139.8,438.7 141.6,438.2 143.3,438.1 145,437.5 146.7,437.3 148.3,436.9 150,437 151.6,436.4 153.2,436.9 154.7,436.3 156.3,435.6 157.9,435 159.4,435.2 161,435.1 162.6,434.6 164.2,434.2 165.8,433.7 167.4,433.8 169,433.7 170.6,432.6 172.2,432.1 173.8,432.1 175.4,431.8 177,431.8 178.6,430.9 180.2,430.9 181.7,431 183.3,430.7 184.8,430.3 186.3,429.8 187.9,430.3 189.4,429.4 190.9,429.7 192.5,428.9 194,429 195.6,428.5 197.2,428.8 198.7,428.1 200.3,428.5 201.9,427.8 203.4,427.3 205,427.1 206.6,427.1 208.1,426.7 209.6,426.6 211.1,426.6 212.6,425.5 214.1,425.4 215.6,424.9 217.1,425.4 218.6,424.6" fill="none" stroke="#222" stroke-width="0.9"/>
<polyline points="25.5,420.8 25.5,470" fill="none" stroke="#222" stroke-width="1"/>
<polygon points="24.6,486.4 24.6,471 26.2,471.2 27.8,470.7 29.4,470.6 31,470.5 32.5,470.7 34.1,470.8 35.7,470.6 37.3,470.4 38.9,470.5 40.5,470.4 42,470.5 43.6,470.5 45.2,470.5 46.7,470.5 48.3,470.3 49.9,470 51.4,470.4 53,470 54.6,470.1 56.1,470 57.7,470 59.2,470.1 60.8,469.7 62.3,469.7 63.9,469.6 65.4,469.5 66.9,469.9 68.5,469.6 70,469.5 71.6,469.3 73.2,469.3 74.7,469.6 76.3,469.3 77.9,469 79.4,469.3 81,469.2 82.6,469 85,467.3 86.7,467.5 88.3,466.9 90,467 92,466.9 94,466.9 95.3,468.6 96.7,470 98.3,469.8 99.8,469.3 101.4,468.4 103,468.2 104.4,467 105.8,465.8 107.2,464.7 108.6,464.1 110,462.7 111.3,461.9 112.5,461.2 113.8,460 115,459.4 116.3,458.3 117.6,457.1 118.8,455.9 120.1,455 121.3,454 122.6,452.6 123.6,451.1 124.7,450.2 125.7,448.9 127.3,447.7 128.9,446.3 130.4,445 132,444.1 133.6,443.1 135.1,442.3 136.7,441.4 138.3,441 140,440.4 141.7,440.1 143.3,439.9 145,439.4 146.7,439.3 148.3,438.8 150,438.8 151.6,438.2 153.2,438.1 154.7,438 156.3,437.5 157.9,437.2 159.4,436.9 161,437 162.6,436.5 164.1,436.2 165.5,435.6 167,435.3 168.5,435.2 169.9,434.9 171.4,434.7 172.9,434 174.3,433.8 175.8,433.8 177.3,433.3 178.7,432.9 180.2,432.7 181.7,432.4 183.3,432.6 184.8,432 186.3,431.9 187.9,431.6 189.4,431.4 190.9,431.5 192.5,431.4 194,430.9 195.6,430.6 197.2,430.2 198.7,430.3 200.3,429.8 201.9,429.4 203.4,429.7 205,429.2 206.6,429 208.1,428.9 209.6,428.3 211.1,428.3 212.6,427.7 214.1,427.2 215.6,426.8 217.1,426.8 218.6,426.5 218.6,486.4" fill="#000"/>
<clipPath id="cL5"><polygon points="23.7,538.5 218.6,538.5 218.6,551.8 217.1,552.3 215.6,552 214.1,552.8 212.6,552.2 211,553 209.5,552.8 208,552.7 206.5,553.7 205,553.5 203.3,554 201.7,553.6 200,554.5 198.3,554.8 196.7,554.5 195,554.7 193.5,555.7 191.9,555.4 190.4,556.6 188.9,556.8 187.4,557.3 185.8,557.9 184.3,558.1 182.7,557.7 181.2,558.8 179.6,558.6 178.1,559 176.6,559.2 175,559 173.5,559.7 171.9,560.2 170.4,560.4 168.8,560 167.3,560.6 165.8,561.1 164.3,560.8 162.8,561.6 161.3,561.8 159.8,562.2 158.2,563.2 156.5,565 155,564.4 153.5,563.6 152,563.5 150.4,563.1 148.9,563.4 147.4,563 145.8,563.3 144.4,563.7 142.9,564.5 141.4,565 140,565.2 138.5,565.1 136.9,565.5 135.4,565.8 133.9,565.8 132.4,565.7 130.8,566.5 129.3,566.9 127.7,567.5 126.2,567.7 124.6,568.2 123.1,568.5 121.3,569.1 119.5,569.7 117.7,570.6 116.3,571.7 115,572.6 113.7,573.5 112.3,574.4 111.2,575.4 110.2,577.4 109.1,578 108,579.8 106.7,581.1 105.3,582 103.9,582.5 102.6,584 101.2,585.3 99.9,586.1 98.5,586.5 97.2,587.7 95.8,588.2 94.5,589.4 93.2,590.4 91.8,591.3 90,591.8 88.2,592.2 86.4,593.1 84.6,593.2 82.8,594.3 81,594.8 79.2,594.9 77.4,595 75.7,595 73.9,595.4 72.4,595.8 70.9,595.2 69.4,595.9 67.9,595.8 66.4,596.1 64.9,595.8 63.4,595.9 61.9,596.7 60.5,596.1 59,596.7 57.5,597.4 56,597.2 54.5,597.8 53,597.1 51.5,597.2 50,598.1 48.5,598.1 47,597.9 45.5,597.9 44,597.5 42.5,598.3 41,597.9 39.5,597.7 38,597.9 36.2,597.3 34.4,597.4 32.6,597.2 31.1,597.6 29.6,598.4 28.1,598.3 26.7,599.7 25.2,599.9 23.7,600.3"/></clipPath>
<g clip-path="url(#cL5)">
<polygon points="23.7,538.5 218.6,538.5 218.6,551.8 217.1,552.3 215.6,552 214.1,552.8 212.6,552.2 211,553 209.5,552.8 208,552.7 206.5,553.7 205,553.5 203.3,554 201.7,553.6 200,554.5 198.3,554.8 196.7,554.5 195,554.7 193.5,555.7 191.9,555.4 190.4,556.6 188.9,556.8 187.4,557.3 185.8,557.9 184.3,558.1 182.7,557.7 181.2,558.8 179.6,558.6 178.1,559 176.6,559.2 175,559 173.5,559.7 171.9,560.2 170.4,560.4 168.8,560 167.3,560.6 165.8,561.1 164.3,560.8 162.8,561.6 161.3,561.8 159.8,562.2 158.2,563.2 156.5,565 155,564.4 153.5,563.6 152,563.5 150.4,563.1 148.9,563.4 147.4,563 145.8,563.3 144.4,563.7 142.9,564.5 141.4,565 140,565.2 138.5,565.1 136.9,565.5 135.4,565.8 133.9,565.8 132.4,565.7 130.8,566.5 129.3,566.9 127.7,567.5 126.2,567.7 124.6,568.2 123.1,568.5 121.3,569.1 119.5,569.7 117.7,570.6 116.3,571.7 115,572.6 113.7,573.5 112.3,574.4 111.2,575.4 110.2,577.4 109.1,578 108,579.8 106.7,581.1 105.3,582 103.9,582.5 102.6,584 101.2,585.3 99.9,586.1 98.5,586.5 97.2,587.7 95.8,588.2 94.5,589.4 93.2,590.4 91.8,591.3 90,591.8 88.2,592.2 86.4,593.1 84.6,593.2 82.8,594.3 81,594.8 79.2,594.9 77.4,595 75.7,595 73.9,595.4 72.4,595.8 70.9,595.2 69.4,595.9 67.9,595.8 66.4,596.1 64.9,595.8 63.4,595.9 61.9,596.7 60.5,596.1 59,596.7 57.5,597.4 56,597.2 54.5,597.8 53,597.1 51.5,597.2 50,598.1 48.5,598.1 47,597.9 45.5,597.9 44,597.5 42.5,598.3 41,597.9 39.5,597.7 38,597.9 36.2,597.3 34.4,597.4 32.6,597.2 31.1,597.6 29.6,598.4 28.1,598.3 26.7,599.7 25.2,599.9 23.7,600.3" fill="rgb(255,255,198)"/>
<path d="M23.7 555C24.9 553.5 29.4 554.7 31 555C32.5 555.3 30.7 556.7 33 557C35.3 557.3 40.5 557.2 45 557C49.5 556.8 54.2 556.2 60 556C65.8 555.8 73.3 555.7 80 555.5C86.7 555.3 95.8 555.3 100 555C104.2 554.7 103.3 554 105 553.5C106.7 553 106.7 552.2 110 552C113.3 551.8 120.8 551.9 125 552C129.2 552.1 130.8 552.2 135 552.5C139.2 552.8 145 553.4 150 553.6C155 553.8 160.8 553.8 165 553.6C169.2 553.4 171.7 552.7 175 552.5C178.3 552.3 182.2 552.4 185 552.4C187.8 552.4 185.9 552.5 191.5 552.4C197.1 552.2 214.1 550.9 218.6 551.5C223.1 552.1 228.4 554.6 218.6 556C208.8 557.4 171.4 558.5 160 560C148.6 561.5 154.2 564 150 565C145.8 566 139.5 565.5 135 566C130.5 566.5 126.3 568 123 568C119.7 568 118 567 115 566C112 565 107.5 562.6 105 562C102.5 561.4 102.5 562.4 100 562.5C97.5 562.6 93.3 562.5 90 562.5C86.7 562.5 83.3 562.7 80 562.8C76.7 562.9 73.3 562.9 70 563C66.7 563.1 64.2 563.2 60 563.5C55.8 563.8 49.2 564.2 45 564.5C40.8 564.8 38.5 565 35 565C31.4 565 25.6 566 23.7 564.3C21.8 562.6 22.5 556.5 23.7 555Z" fill="rgb(255,232,48)"/>
<path d="M65 562C65.8 560.5 69.7 560.5 70.5 562C71.3 563.5 70.8 569.8 70 571.3C69.2 572.8 66.8 572.8 66 571.3C65.2 569.8 64.2 563.5 65 562Z" fill="rgb(255,232,48)"/>
<path d="M96.5 557C97.2 554.5 100.3 554.5 101 557C101.7 559.5 101.2 569.7 100.5 572.2C99.8 574.7 97.7 574.7 97 572.2C96.3 569.7 95.8 559.5 96.5 557Z" fill="rgb(255,232,48)"/>
<path d="M88.4 558.8C89.2 558 92.2 558 93 558.8C93.8 559.5 93.8 562.5 93 563.3C92.2 564 89.2 564 88.4 563.3C87.6 562.5 87.6 559.5 88.4 558.8Z" fill="rgb(255,232,48)"/>
<path d="M30.8 558.3C33.2 557.4 40.1 558 45 557.8C49.9 557.5 53.3 557.1 60 556.8C66.7 556.5 78.3 556.1 85 555.8C91.7 555.5 94.2 555.3 100 555C105.8 554.7 113.3 554 120 553.8C126.7 553.6 134.2 553.9 140 554C145.8 554.1 150.8 554 155 554.3C159.2 554.6 163.7 554.9 165 556C166.3 557.1 164.2 559.7 163 561C161.8 562.3 159.7 563.7 157.5 564C155.3 564.3 152.7 563.2 150 563C147.3 562.8 143.9 562.5 141.5 562.6C139.1 562.8 137.4 563.4 135.3 563.9C133.2 564.4 131.1 565.3 129 565.5C126.9 565.7 125.9 566 122.7 565C119.5 564 113.8 560 110 559.5C106.2 559 104.2 561.5 100 562C95.8 562.5 90 562.1 85 562.2C80 562.3 74.2 562.4 70 562.5C65.8 562.6 63.3 562.8 60 563C56.7 563.2 54.2 563.6 50 563.8C45.8 564 38.2 564.1 35 564C31.8 563.9 31.5 564 30.8 563C30.1 562 28.4 559.2 30.8 558.3Z" fill="rgb(40,215,10)"/>
<path d="M34 558.8C36.7 558.2 44 558.4 50 558.2C56 558 63.3 557.8 70 557.5C76.7 557.2 83.3 556.9 90 556.5C96.7 556.1 104.2 555.5 110 555.2C115.8 555 120 555 125 555C130 555 135.8 555.3 140 555.5C144.2 555.7 146.7 555.8 150 556C153.3 556.2 158.8 556 160 557C161.2 558 159 561.3 157 562C155 562.7 151.7 561.2 148 561C144.3 560.8 138.8 560.9 135 561C131.2 561.1 128.3 561.8 125 561.5C121.7 561.2 119.2 559.3 115 559C110.8 558.7 105 559.2 100 559.5C95 559.8 90 560.2 85 560.5C80 560.8 75.8 560.8 70 561C64.2 561.2 56 561.8 50 562C44 562.2 36.7 562.5 34 562C31.3 561.5 31.3 559.4 34 558.8Z" fill="rgb(20,242,0)"/>
<path d="M97 558C97.5 557 100 557 100.5 558C101 559 100.5 563 100 564C99.5 565 98 565 97.5 564C97 563 96.5 559 97 558Z" fill="rgb(40,215,10)"/>
<path d="M66.5 567C66.9 566.5 69.1 566.5 69.5 567C69.9 567.5 69.4 569.5 69 570C68.6 570.5 67.4 570.5 67 570C66.6 569.5 66.1 567.5 66.5 567Z" fill="rgb(185,215,0)"/>
<path d="M97.5 566C97.8 565.3 99.7 565.3 100 566C100.3 566.7 99.8 569.3 99.5 570C99.2 570.7 98.3 570.7 98 570C97.7 569.3 97.2 566.7 97.5 566Z" fill="rgb(185,215,0)"/>
<path d="M58 556.2C58.9 556 63.1 556 64 556.2C64.9 556.4 64.4 557.4 63.5 557.6C62.6 557.8 59.4 557.8 58.5 557.6C57.6 557.4 57.1 556.4 58 556.2Z" fill="rgb(140,0,0)"/>
<path d="M97.6 559.5C98 559.2 99.6 559.2 100 559.5C100.4 559.8 100.4 561.2 100 561.5C99.6 561.8 98 561.8 97.6 561.5C97.2 561.2 97.2 559.8 97.6 559.5Z" fill="rgb(200,0,30)"/>
<path d="M106 561C107 560.3 110 559.8 112 560C114 560.2 117.2 560.8 118 562C118.8 563.2 118.3 566.3 117 567C115.7 567.7 111.8 566.5 110 566C108.2 565.5 106.7 564.8 106 564C105.3 563.2 105 561.7 106 561Z" fill="rgb(255,232,48)"/>
<path d="M168.9 553C169.9 552.6 174 552.6 175 553C176 553.4 176 555.2 175 555.6C174 556 169.9 556 168.9 555.6C167.9 555.2 167.9 553.4 168.9 553Z" fill="rgb(90,225,0)"/>
<path d="M150 553.5C151.7 552.9 157.2 553.2 160 553.5C162.8 553.8 167 554.3 167 555C167 555.7 162.8 557.2 160 557.5C157.2 557.8 151.7 557.7 150 557C148.3 556.3 148.3 554.1 150 553.5Z" fill="rgb(255,208,0)"/>
<path d="M185 552.4C186.1 552.1 190.4 552.1 191.5 552.4C192.6 552.7 192.6 554 191.5 554.3C190.4 554.6 186.1 554.6 185 554.3C183.9 554 183.9 552.7 185 552.4Z" fill="rgb(255,208,0)"/>
<polyline points="30,560.5 31.2,560.1 32.5,560.4 33.8,560.7 35,560 36.2,560 37.5,560.1 38.8,559.9 40,560 41.2,559.7 42.5,559.9 43.8,560 45,560.9 46.2,560.8 47.5,561.1 48.8,560.5 50,561 51.2,561.2 52.5,560.4 53.8,560.7 55,560.6 56.2,560.2 57.5,560.6 58.8,560.2 60,560 61.2,560.1 62.5,560.5 63.8,559.8 65,560.7 66.2,560.4 67.5,560.3 68.8,560.7 70,560.5 71.2,560.1 72.5,560.7 73.8,560.2 75,559.9 76.2,560.1 77.5,559.7 78.8,559.3 80,559.5 81.2,559.8 82.5,559.2 83.8,560 85,559.5 86.2,560 87.5,560.4 88.8,560 90,560 91.2,560 92.5,559.6 93.8,559.1 95,559 96.2,559 97.5,559.4 98.8,559.1 100,559 101.2,559 102.5,559.3 103.8,558.4 105,558.5 106.2,558.8 107.5,558.1 108.8,558.1 110,558.5 111.2,558.4 112.5,558.1 113.8,558.4 115,558.2 116.2,558.6 117.5,558.6 118.8,558.2 120,558.5 121.2,558.7 122.5,558.6 123.8,558.3 125,559.2 126.2,558.6 127.5,558.5 128.8,558.5 130,559 131.2,559.2 132.5,559.5 133.8,559.5 135,559.2 136.2,559.1 137.5,558.9 138.8,559.6 140,559.5 141.2,559.6 142.5,559.5 143.8,559.8 145,559.7 146.2,560.2 147.5,560.1 148.8,559.7 150,560" fill="none" stroke="#789a72" stroke-width="1.6"/>
</g>
<polyline points="23.7,600.3 25.2,599.9 26.7,599.7 28.1,598.3 29.6,598.4 31.1,597.6 32.6,597.2 34.4,597.4 36.2,597.3 38,597.9 39.5,597.7 41,597.9 42.5,598.3 44,597.5 45.5,597.9 47,597.9 48.5,598.1 50,598.1 51.5,597.2 53,597.1 54.5,597.8 56,597.2 57.5,597.4 59,596.7 60.5,596.1 61.9,596.7 63.4,595.9 64.9,595.8 66.4,596.1 67.9,595.8 69.4,595.9 70.9,595.2 72.4,595.8 73.9,595.4 75.7,595 77.4,595 79.2,594.9 81,594.8 82.8,594.3 84.6,593.2 86.4,593.1 88.2,592.2 90,591.8 91.8,591.3 93.2,590.4 94.5,589.4 95.8,588.2 97.2,587.7 98.5,586.5 99.9,586.1 101.2,585.3 102.6,584 103.9,582.5 105.3,582 106.7,581.1 108,579.8 109.1,578 110.2,577.4 111.2,575.4 112.3,574.4 113.7,573.5 115,572.6 116.3,571.7 117.7,570.6 119.5,569.7 121.3,569.1 123.1,568.5 124.6,568.2 126.2,567.7 127.7,567.5 129.3,566.9 130.8,566.5 132.4,565.7 133.9,565.8 135.4,565.8 136.9,565.5 138.5,565.1 140,565.2 141.4,565 142.9,564.5 144.4,563.7 145.8,563.3 147.4,563 148.9,563.4 150.4,563.1 152,563.5 153.5,563.6 155,564.4 156.5,565 158.2,563.2 159.8,562.2 161.3,561.8 162.8,561.6 164.3,560.8 165.8,561.1 167.3,560.6 168.8,560 170.4,560.4 171.9,560.2 173.5,559.7 175,559 176.6,559.2 178.1,559 179.6,558.6 181.2,558.8 182.7,557.7 184.3,558.1 185.8,557.9 187.4,557.3 188.9,556.8 190.4,556.6 191.9,555.4 193.5,555.7 195,554.7 196.7,554.5 198.3,554.8 200,554.5 201.7,553.6 203.3,554 205,553.5 206.5,553.7 208,552.7 209.5,552.8 211,553 212.6,552.2 214.1,552.8 215.6,552 217.1,552.3 218.6,551.8" fill="none" stroke="#333" stroke-width="0.9"/>
<polygon points="23.7,616.1 23.7,603.9 25.3,604 26.9,603.4 28.5,603.6 30.1,603.4 31.6,603.2 33.2,603 34.8,603.4 36.4,602.8 38,603 39.5,603 41,603.1 42.5,602.6 44,602.5 45.5,602.7 47,602.6 48.5,602.6 50,602.6 51.5,602.1 53,602.1 54.5,602.1 56,602.1 57.6,601.7 59.3,602.2 60.9,602 62.5,601.9 64.1,601.4 65.8,601.8 67.4,601.7 69,601.4 70.6,601.5 72.3,601.3 73.9,601.2 75.4,600.7 76.9,600.4 78.3,600.1 79.8,599.7 81.3,599.6 82.8,599.4 84.3,598.9 85.8,598.3 87.3,597.8 88.8,597.1 90.3,596.3 91.8,595.8 93.3,595.1 94.8,594.3 96.3,593.7 97.8,592.8 99.3,591.9 100.8,591.3 102.2,590.5 103.5,589.8 104.8,588.4 106.2,587.7 107.4,586.5 108.6,584.6 109.8,583.5 110.4,582 111,580.6 111.7,579.5 112.3,578 113.7,577.2 115,576.1 116.3,574.8 117.7,573.9 119,573.5 120.4,572.4 121.8,571.7 123.1,571.2 124.9,570.7 126.7,569.8 128.5,569 130.1,568.9 131.8,568.7 133.4,568.7 135,568.2 136.5,567.9 138.1,567.8 139.6,567.4 141.2,567.2 142.7,566.6 144.3,566.4 145.8,566 147.4,566.2 149,566.1 150.6,566.2 152.2,566.5 153.6,567.1 155.1,567.4 156.5,568.2 157.6,567.4 158.7,565.9 159.8,565 161.3,564.4 162.8,564.1 164.3,564.2 165.8,563.5 167.3,563.3 168.8,562.8 170.4,562.4 171.9,562.1 173.5,562.2 175,561.9 176.6,561.6 178.1,561.2 179.6,561 181.2,560.2 182.7,560.1 184.3,559.6 185.8,559.5 187.4,559.1 188.9,558.5 190.4,558.3 191.9,557.4 193.5,557.4 195,556.8 196.8,556.8 198.5,556.7 200.3,556.2 201.8,555.9 203.4,555.8 204.9,555.7 206.4,555.5 207.9,555.9 209.4,555.8 211,555.6 212.5,555.6 214,555.4 215.6,555.1 217.1,554.9 218.6,555 218.6,616.1" fill="#000"/>
<clipPath id="cR1"><polygon points="299,18.3 494,18.3 494,33.3 492.4,33.2 490.9,33 489.3,33.5 487.7,33.4 486.2,33.4 484.6,33.3 483,33.4 481.5,34.3 479.9,34.2 478.3,33.8 476.8,33.7 475.2,33.9 473.6,34.7 472.1,34.3 470.5,34.4 469,34.4 467.5,35.4 466,36 464.5,36 462.9,36.2 461.4,37.3 459.9,37.6 458.4,38.3 456.9,37.9 455.4,38.7 453.9,38.6 452.3,38.8 450.8,39.3 449.3,39.6 447.8,39.8 446.2,39.7 444.7,39.8 443.1,39.8 441.6,39.6 440.1,40.5 438.5,40 436.9,40.2 435.4,40.8 433.9,40.1 432.3,40.1 430.8,39.9 429.2,41.1 427.6,40.2 426.1,41.2 424.6,40.7 423,40.9 421.4,41 419.8,41.2 418.1,41.8 416.5,42.2 414.9,42.4 413.2,42.7 411.6,42.1 410,42.9 408.5,43.4 406.9,43 405.4,43.8 403.9,44.3 402.4,44 400.8,44.4 399.3,45.5 397.8,44.9 396.2,45.9 394.7,45.8 392.9,46 391.1,46.5 389.3,46.5 387.5,47.2 386,47.9 384.5,47.9 383,48.3 381.5,48 380,49 377.3,50.1 375.6,51.6 374,52.3 372.3,52.9 371.3,54 370.3,55.2 369.3,56.8 368.3,59 367.3,60.1 366.1,60.6 365,62.5 363.8,62.8 362.7,64.1 361.5,65.1 359.8,66.3 358.2,66.8 356.5,68 355.4,69.6 354.4,70.4 353.3,71.6 352.2,73 350.5,73 348.9,74.3 347.2,74.8 345.8,75.7 344.3,75.8 342.9,76.9 341.4,76.6 340,77.3 338.5,77.4 337,77.8 335,79.5 333,78 331,80 329,79 327,80.5 326,79.5 325,78 323,80 322,78.2 321,77 320,78.2 319,80 317,78.5 315,80.5 314,78.4 313,77.5 312,78.7 311,80 309,78 308,79 307,80.5 306,78.4 305,77 304,78.8 303,80 302,78.3 301,77.5 299,79"/></clipPath>
<g clip-path="url(#cR1)">
<polygon points="299,18.3 494,18.3 494,33.3 492.4,33.2 490.9,33 489.3,33.5 487.7,33.4 486.2,33.4 484.6,33.3 483,33.4 481.5,34.3 479.9,34.2 478.3,33.8 476.8,33.7 475.2,33.9 473.6,34.7 472.1,34.3 470.5,34.4 469,34.4 467.5,35.4 466,36 464.5,36 462.9,36.2 461.4,37.3 459.9,37.6 458.4,38.3 456.9,37.9 455.4,38.7 453.9,38.6 452.3,38.8 450.8,39.3 449.3,39.6 447.8,39.8 446.2,39.7 444.7,39.8 443.1,39.8 441.6,39.6 440.1,40.5 438.5,40 436.9,40.2 435.4,40.8 433.9,40.1 432.3,40.1 430.8,39.9 429.2,41.1 427.6,40.2 426.1,41.2 424.6,40.7 423,40.9 421.4,41 419.8,41.2 418.1,41.8 416.5,42.2 414.9,42.4 413.2,42.7 411.6,42.1 410,42.9 408.5,43.4 406.9,43 405.4,43.8 403.9,44.3 402.4,44 400.8,44.4 399.3,45.5 397.8,44.9 396.2,45.9 394.7,45.8 392.9,46 391.1,46.5 389.3,46.5 387.5,47.2 386,47.9 384.5,47.9 383,48.3 381.5,48 380,49 377.3,50.1 375.6,51.6 374,52.3 372.3,52.9 371.3,54 370.3,55.2 369.3,56.8 368.3,59 367.3,60.1 366.1,60.6 365,62.5 363.8,62.8 362.7,64.1 361.5,65.1 359.8,66.3 358.2,66.8 356.5,68 355.4,69.6 354.4,70.4 353.3,71.6 352.2,73 350.5,73 348.9,74.3 347.2,74.8 345.8,75.7 344.3,75.8 342.9,76.9 341.4,76.6 340,77.3 338.5,77.4 337,77.8 335,79.5 333,78 331,80 329,79 327,80.5 326,79.5 325,78 323,80 322,78.2 321,77 320,78.2 319,80 317,78.5 315,80.5 314,78.4 313,77.5 312,78.7 311,80 309,78 308,79 307,80.5 306,78.4 305,77 304,78.8 303,80 302,78.3 301,77.5 299,79" fill="rgb(0,0,255)"/>
<polygon points="298,17.3 298,17.3 299,44 300.6,43.5 302.1,44.6 303.6,44.2 305.2,43.3 306.8,44.5 308.3,43.3 309.9,43.7 311.4,44.5 312.9,44.2 314.5,44.1 316.1,43.6 317.6,43.3 319.1,43.9 320.7,43.1 322.2,43.2 323.8,43.4 325.4,42.9 326.9,43.4 328.4,43.9 330,43.5 331.5,43.8 333,43.6 334.5,43.8 336,43.5 337.5,43.1 339,43.8 340.5,43.5 342,44 343.5,44.3 345,43.7 346.5,43.9 348,44.1 349.5,43.7 351,43.5 352.5,44.2 354,44.4 355.5,44.3 357,44.2 358.5,44.5 360,44 361.5,44.4 363.1,44.5 364.6,44.4 366.2,44.4 367.7,44.9 369.2,44.4 370.8,45 372.3,45.6 373.8,45.7 375.4,45.7 376.9,45.3 378.5,45.7 380,46 381.5,45.7 383,45.8 384.5,45.3 386,45.4 387.5,45.6 389,44.4 390.5,44.8 392,44.8 393.5,44 395,44 396.6,43.8 398.1,44.3 399.7,42.8 401.2,43.3 402.8,42.6 404.4,43.3 405.9,43.3 407.5,42.5 409.1,41.8 410.6,42.2 412.2,42 413.8,42.1 415.3,41.6 416.9,41.6 418.4,41.6 420,41 421.5,41 423,40.8 424.5,41.5 426,40.4 427.5,41 429,40.5 430.5,41 432,40.1 433.5,41.2 435,40.3 436.5,39.8 438,40.1 439.5,40.2 441,39.6 442.5,40.1 444,40.1 445.5,40.4 447,39.9 448.5,39.7 450,40 451.5,39.5 453,40.2 454.6,40.4 456.1,39.8 457.6,39.3 459.1,40 460.6,39.4 462.1,39 463.7,38.9 465.2,39.7 466.7,39.7 468.2,39.4 469.7,39.1 471.2,39.1 472.8,38.6 474.3,39.5 475.8,38.6 477.3,39 478.8,39.1 480.3,39.1 481.9,38.5 483.4,38.2 484.9,38.5 486.4,37.8 487.9,38.7 489.4,38 491,38.6 492.5,37.7 494,38 495,38 495,17.3" fill="rgb(40,0,215)"/>
<polygon points="298,17.3 298,17.3 299,41 300.6,40.8 302.1,40.6 303.6,40.8 305.2,40.5 306.8,40.2 308.3,41.2 309.9,40.5 311.4,40.4 312.9,40.5 314.5,40.7 316.1,40.6 317.6,40.9 319.1,40.9 320.7,40.5 322.2,41.2 323.8,41.1 325.4,40 326.9,41 328.4,41.1 330,40.5 331.5,40.9 333,40 334.5,41 336,40.8 337.5,39.9 339,40 340.5,41.3 342,40.9 343.5,40.4 345,40.2 346.5,40.3 348,40.4 349.5,41.2 351,40.6 352.5,40.4 354,41.5 355.5,41.3 357,40.5 358.5,41.5 360,41 361.5,41.2 363.1,41.5 364.6,41.5 366.2,41.9 367.7,41.8 369.2,41.9 370.8,41.1 372.3,41.9 373.8,41.7 375.4,42.1 376.9,41.8 378.5,42.5 380,42 381.5,42 383.1,41.5 384.6,41.4 386.2,41.2 387.7,41.6 389.2,40.9 390.8,41.4 392.3,40.9 393.8,41.3 395.4,41.2 396.9,41.2 398.5,41.6 400,41 401.5,40.2 403.1,41.2 404.6,40.5 406.2,40.5 407.7,40.5 409.2,40.6 410.8,39.7 412.3,39.7 413.8,40.3 415.4,38.9 416.9,39.5 418.5,39.3 420,39 421.5,38.3 423,39.1 424.5,39.2 426,39.5 427.5,38.6 429,39.5 430.5,38.8 432,38.8 433.5,39.3 435,38.1 436.5,39 438,38.9 439.5,38.4 441,39.2 442.5,38.4 444,38.6 445.5,38.6 447,38.9 448.5,38.1 450,38.5 451.5,38.4 453,38.3 454.6,38.4 456.1,38.8 457.6,38 459.1,38.6 460.6,38 462.1,38.1 463.7,37.7 465.2,38 466.7,38.6 468.2,38.1 469.7,38.2 471.2,37.5 472.8,37.5 474.3,37.4 475.8,37.7 477.3,37.8 478.8,37.9 480.3,36.8 481.9,37.7 483.4,37.9 484.9,37.4 486.4,36.6 487.9,36.9 489.4,36.5 491,36.7 492.5,37.6 494,37 495,37 495,17.3" fill="rgb(80,0,175)"/>
<polygon points="298,17.3 298,17.3 299,37 300.6,37.1 302.1,37.2 303.6,37.3 305.2,37.5 306.8,37 308.3,37 309.9,37 311.4,37.1 312.9,36.9 314.5,37 316.1,36.3 317.6,36.9 319.1,36.6 320.7,37 322.2,36.1 323.8,36.2 325.4,35.9 326.9,36.9 328.4,37.1 330,36.5 331.5,36.7 333,36.4 334.5,37 336,37 337.5,36.7 339,36.3 340.5,36.4 342,36.6 343.5,36.5 345,36.7 346.5,37 348,37.4 349.5,36.2 351,36.9 352.5,36.2 354,36.4 355.5,37.4 357,37.1 358.5,37.6 360,37 361.5,37 363.1,36.5 364.6,37.1 366.2,37.4 367.7,38 369.2,38.1 370.8,37.5 372.3,37.5 373.8,37.1 375.4,38 376.9,37.4 378.5,37.4 380,38 381.5,37.3 383.1,37.3 384.6,38.3 386.2,37.5 387.7,38.7 389.2,37.4 390.8,38.5 392.3,37.5 393.8,37.3 395.4,38.3 396.9,37.6 398.5,38.3 400,38 401.5,37.5 403.1,37.2 404.6,38.2 406.2,38 407.7,38.1 409.2,37.9 410.8,36.9 412.3,37.6 413.8,37.6 415.4,37.2 416.9,37.8 418.5,36.7 420,37 421.5,37.6 423,37.3 424.5,36.2 426,36.2 427.5,37.1 429,37.3 430.5,36.2 432,36.5 433.5,37.1 435,36.3 436.5,37.2 438,36.7 439.5,36.1 441,36.5 442.5,36.7 444,36.5 445.5,36.8 447,36.1 448.5,36.9 450,36.5 451.5,36.3 453,36.6 454.6,36.6 456.1,36.2 457.6,36.2 459.1,36.7 460.6,36.9 462.1,36.6 463.7,36.3 465.2,35.9 466.7,35.5 468.2,36.7 469.7,36.3 471.2,36.5 472.8,35.7 474.3,36.1 475.8,36.6 477.3,36.3 478.8,36 480.3,35.5 481.9,35.7 483.4,36.3 484.9,35.5 486.4,35.9 487.9,35.8 489.4,36.2 491,36 492.5,35.2 494,35.5 495,35.5 495,17.3" fill="rgb(120,0,135)"/>
<polygon points="298,17.3 298,17.3 299,33 300.6,32.3 302.1,32.6 303.6,32.8 305.2,33 306.8,33.3 308.3,33.4 309.9,32.2 311.4,33.3 312.9,33.2 314.5,33.3 316.1,32.8 317.6,32.4 319.1,33.2 320.7,33.1 322.2,32.9 323.8,33.2 325.4,32.4 326.9,32 328.4,32.6 330,32.5 331.5,32.9 333,32.1 334.5,32.9 336,33.2 337.5,32.3 339,32.8 340.5,32.9 342,32.7 343.5,32.3 345,32.4 346.5,33.1 348,33.2 349.5,32.8 351,32.3 352.5,33.3 354,33.3 355.5,32.6 357,33.1 358.5,33.5 360,33 361.5,33.6 363,33.1 364.5,33 366,33.2 367.5,32.7 369,32.7 370.5,32.7 372,33.5 373.5,33 375,33.3 376.5,33.1 378,33.3 379.5,32.8 381,32.7 382.5,34.1 384,33.2 385.5,32.9 387,33.6 388.5,33.9 390,33.5 391.5,33 393,33.6 394.5,33.2 396,33.4 397.5,32.7 399,32.7 400.5,34 402,33.8 403.5,33.3 405,33.3 406.5,32.9 408,33.6 409.5,33.1 411,33.8 412.5,33.5 414,33.5 415.5,33.7 417,32.7 418.5,32.4 420,33 421.5,32.6 423,32.6 424.5,32.4 426,32.4 427.5,33.1 429,33.5 430.5,32.9 432,33.6 433.5,33.6 435,32.4 436.5,33.1 438,32.9 439.5,32.5 441,33.6 442.5,32.7 444,33.1 445.5,33.2 447,33.6 448.5,33.2 450,33 451.5,32.9 453,32.9 454.6,32.5 456.1,33.7 457.6,33.7 459.1,32.6 460.6,32.4 462.1,32.7 463.7,32.8 465.2,33.6 466.7,33.6 468.2,33.5 469.7,32.4 471.2,33.4 472.8,33.3 474.3,33.2 475.8,33.7 477.3,32.4 478.8,32.5 480.3,33.4 481.9,33.6 483.4,33.2 484.9,32.7 486.4,33.1 487.9,33.4 489.4,32.4 491,32.8 492.5,32.7 494,33 495,33 495,17.3" fill="rgb(160,0,95)"/>
<polygon points="298,17.3 298,17.3 299,28.5 300.6,27.9 302.1,28.4 303.6,28 305.2,28 306.8,27.9 308.3,28.6 309.9,27.6 311.4,28.6 312.9,27.8 314.5,27.6 316.1,28.8 317.6,27.8 319.1,28.8 320.7,28.7 322.2,28.7 323.8,27.6 325.4,28 326.9,27.5 328.4,28.6 330,28 331.5,28.5 333,28.2 334.5,28 336,27.9 337.5,28.6 339,28.1 340.5,28.4 342,27.7 343.5,27.8 345,27.6 346.5,28.6 348,28.4 349.5,27.8 351,28.9 352.5,28 354,28.3 355.5,27.9 357,28.1 358.5,29 360,28.5 361.5,28.3 363,28.1 364.5,28.6 366,28.3 367.5,29.2 369,28.1 370.5,29.3 372,28.1 373.5,29.3 375,29 376.5,28.4 378,28.8 379.5,28.5 381,28.5 382.5,28.5 384,28.7 385.5,29.6 387,29.6 388.5,29.6 390,29 391.5,28.5 393,28.8 394.5,29.6 396,28.5 397.5,29.4 399,28.9 400.5,29.8 402,28.5 403.5,29.7 405,29 406.5,28.8 408,28.6 409.5,29.8 411,29.4 412.5,28.9 414,29.3 415.5,30 417,29.1 418.5,29.6 420,29.5 421.5,29 423.1,29.1 424.6,29.9 426.2,29.9 427.7,29.2 429.2,29 430.8,29.1 432.3,29.8 433.8,29.7 435.4,29.4 436.9,29.3 438.5,29.9 440,30 441.5,30.2 443.1,29.9 444.6,29.4 446.2,29.2 447.7,30.2 449.2,29.7 450.8,30.2 452.3,29.3 453.8,30.4 455.4,29.7 456.9,30.4 458.5,30.5 460,30 461.5,30 463.1,29.3 464.6,30.6 466.2,30 467.7,30.5 469.3,29.7 470.8,29.6 472.4,30.5 473.9,29.8 475.5,29.5 477,29.8 478.5,30.1 480.1,29.3 481.6,30 483.2,29.9 484.7,30 486.3,29.5 487.8,30.3 489.4,30.4 490.9,30.5 492.5,29.7 494,30 495,30 495,17.3" fill="rgb(190,0,65)"/>
<polygon points="298,17.3 298,17.3 299,24.5 300.6,24.8 302.1,24.3 303.6,24.8 305.2,23.8 306.8,24.9 308.3,25 309.9,24.3 311.4,24.3 312.9,24.3 314.5,24.3 316.1,23.6 317.6,24.9 319.1,23.8 320.7,23.7 322.2,23.6 323.8,23.8 325.4,24.5 326.9,23.4 328.4,23.5 330,24 331.5,24.3 333,23.6 334.5,23.4 336,24.2 337.5,24.2 339,24.2 340.5,24.5 342,23.6 343.5,24.7 345,24.6 346.5,23.6 348,23.8 349.5,24.3 351,24.4 352.5,24.1 354,23.9 355.5,24.3 357,23.9 358.5,24.6 360,24.5 361.5,25 363,24.1 364.5,24.7 366,24.9 367.5,24.2 369,25.1 370.5,25.3 372,24.5 373.5,24.6 375,25.2 376.5,24.8 378,24.7 379.5,25.4 381,25.2 382.5,24.6 384,24.5 385.5,24.7 387,24.9 388.5,25.6 390,25 391.5,25.4 393,25.6 394.5,25.4 396,25.5 397.5,24.4 399,25 400.5,25.6 402,25.6 403.5,24.6 405,24.9 406.5,25.2 408,24.8 409.5,25 411,24.4 412.5,24.9 414,25 415.5,24.3 417,24.5 418.5,25.7 420,25 421.5,25.4 423,25.6 424.6,25.2 426.1,25.4 427.6,25.5 429.1,25.5 430.7,24.3 432.2,25.2 433.7,24.7 435.2,25.2 436.7,24.7 438.3,25.1 439.8,25.6 441.3,25.2 442.8,24.7 444.3,25 445.9,24.9 447.4,25.6 448.9,24.7 450.4,24.7 452,25.2 453.5,24.5 455,25 456.4,25.7 457.8,26.8 459.2,26.8 460.6,27.1 462,28 463.6,28.8 465.2,29.6 466.8,29.9 468.4,30.7 470,32 471.5,31.5 473,31.7 474.5,31.9 476,31.8 477.5,31.7 479,31.5 480.5,32.2 482,32.6 483.5,32.3 485,32.2 486.5,32.3 488,31.7 489.5,32.5 491,32.1 492.5,32.3 494,32.2 495,32.2 495,17.3" fill="rgb(225,0,35)"/>
<polygon points="299.2,59 299.6,59 301.4,79 299.2,79" fill="#fff"/>
</g>
<polyline points="299.2,79 299.2,59 299.6,59 301.4,79" fill="none" stroke="#fff" stroke-width="0.9"/>
<polygon points="299,98.2 299,86.5 300.6,86.5 302.3,86.3 303.9,86.1 305.6,85.9 307.2,85.8 308.9,85.8 310.5,85.7 312.2,85.7 313.8,85.5 315.4,85 317,85 318.7,85.1 320.3,84.5 321.9,84.4 323.5,84.2 325.1,83.8 326.8,84 328.4,83.4 330,83.3 331.7,83.3 333.3,82.8 335,82.6 336.7,82.9 338.3,82.5 340,82.4 341.4,81.5 342.9,81 344.3,80.4 345.8,79.9 347.2,79.1 348.6,77.9 350.1,77.1 351.5,76.6 353,75.6 354.4,74.5 355.6,73.3 356.8,72.5 357.9,71.5 359.1,70.7 360.3,69.7 361.5,68.7 362.7,67.8 363.8,66.6 365,65.3 366.1,64.3 367.3,63 368.5,61.7 369.7,60.3 370.9,58.7 372.1,57.6 373.3,56.7 374.5,55.4 375.9,54.9 377.2,54.4 378.6,53.3 380,52.9 381.5,52.7 383,51.8 384.5,51.9 386,51.4 387.5,51 389.3,50.6 391.1,50.6 392.9,50 394.7,49.6 396.5,49.2 398.2,49 400,48.6 401.8,48 403.4,47.8 405.1,47.4 406.7,47.1 408.4,46.9 410,46.6 411.9,46.4 413.8,45.9 415.4,45.6 416.9,45.6 418.5,45.5 420.1,45.3 421.7,45.1 423.2,45.2 424.8,45.1 426.4,44.8 428,44.6 429.6,44.3 431.1,44.2 432.7,44.2 434.3,43.8 435.8,43.9 437.4,43.8 439,43.4 440.5,43.7 442.1,43.2 443.7,43.4 445.2,43.2 446.8,43.1 448.4,42.5 449.9,42.5 451.5,42.4 453.1,42.2 454.7,41.1 456.2,40.7 457.8,40.5 459.4,40 461,39.5 462.6,39.5 464.1,39.2 465.7,38.8 467.3,38.8 468.8,38.3 470.4,38 472,37.9 473.5,37.9 475.1,37.6 476.7,37.5 478.3,37.6 479.8,37.3 481.4,37.6 483,37.3 484.6,37.1 486.1,36.8 487.7,36.8 489.3,36.7 490.9,36.7 492.4,36.6 494,36.5 494,98.2" fill="#000"/>
<clipPath id="cR2"><polygon points="299.2,151.5 494,151.5 494,168.2 492.4,168 490.8,168.8 489.2,167.9 487.7,168.1 486.1,167.9 484.5,168 482.9,168.7 481.3,168.4 479.7,168.8 478.1,168.2 476.6,168.1 475,168.7 473.4,168.3 471.8,168.5 470.3,168.6 468.7,169.8 467.2,169.7 465.6,170.6 464.1,170.6 462.5,170.6 461,171.2 459.5,171.9 458,172.3 456.4,171.9 454.9,172.8 453.4,173.2 451.9,172.5 450.3,173 448.8,173.7 447.3,173.9 445.6,174.4 443.9,175.5 442.2,175.6 440.5,176 439.1,177.1 437.7,176.8 436.4,177.9 435,178.7 433.6,179.4 432.1,179.7 430.6,180.5 429,181.4 427.5,181 426,182 424.5,182.3 423,182.8 421.5,183.5 420,184.3 417.9,185.4 415.8,185.9 413.8,186.7 411.8,187.9 410.5,189 409.2,188.9 407.9,190.3 406.5,190.9 405.1,193 403.7,194 402.3,195 401,196.3 399.7,196.8 398.5,197.2 397.2,198 395.9,199.4 394.3,199.7 392.7,201.3 391.2,201.4 389.6,202.1 388,203.4 386.4,203.6 384.8,204.1 383.2,205 381.6,204.7 380,205 378.1,205.5 376.3,205.4 374.4,206 372.8,206.1 371.2,206.2 369.6,205.9 368,206.5 366.4,206.5 364.8,206.9 363.2,206.3 361.6,206 360,206.7 358.5,206.9 357,206.5 355.4,207.1 353.9,206.7 352.4,206.2 350.9,207 349.4,207.4 347.9,206.7 346.4,207 344.8,207 343.3,206.5 341.8,206.5 340.3,206.9 338.8,206.9 337.2,206.7 335.7,206.6 334.2,206.9 332.7,207 331.2,207.4 329.7,207.5 328.2,207.2 326.7,207 325.1,207.2 323.6,206.3 322.1,206.7 320.6,207 319.1,207.2 317.6,206.3 316.1,206.1 314.6,206.8 313.1,206.5 311.6,206.2 310.1,206.9 308.5,206.4 307,206.2 305.5,206.2 304,206.7 302.5,206.1 300.9,206.6 299.2,206.1"/></clipPath>
<g clip-path="url(#cR2)">
<polygon points="299.2,151.5 494,151.5 494,168.2 492.4,168 490.8,168.8 489.2,167.9 487.7,168.1 486.1,167.9 484.5,168 482.9,168.7 481.3,168.4 479.7,168.8 478.1,168.2 476.6,168.1 475,168.7 473.4,168.3 471.8,168.5 470.3,168.6 468.7,169.8 467.2,169.7 465.6,170.6 464.1,170.6 462.5,170.6 461,171.2 459.5,171.9 458,172.3 456.4,171.9 454.9,172.8 453.4,173.2 451.9,172.5 450.3,173 448.8,173.7 447.3,173.9 445.6,174.4 443.9,175.5 442.2,175.6 440.5,176 439.1,177.1 437.7,176.8 436.4,177.9 435,178.7 433.6,179.4 432.1,179.7 430.6,180.5 429,181.4 427.5,181 426,182 424.5,182.3 423,182.8 421.5,183.5 420,184.3 417.9,185.4 415.8,185.9 413.8,186.7 411.8,187.9 410.5,189 409.2,188.9 407.9,190.3 406.5,190.9 405.1,193 403.7,194 402.3,195 401,196.3 399.7,196.8 398.5,197.2 397.2,198 395.9,199.4 394.3,199.7 392.7,201.3 391.2,201.4 389.6,202.1 388,203.4 386.4,203.6 384.8,204.1 383.2,205 381.6,204.7 380,205 378.1,205.5 376.3,205.4 374.4,206 372.8,206.1 371.2,206.2 369.6,205.9 368,206.5 366.4,206.5 364.8,206.9 363.2,206.3 361.6,206 360,206.7 358.5,206.9 357,206.5 355.4,207.1 353.9,206.7 352.4,206.2 350.9,207 349.4,207.4 347.9,206.7 346.4,207 344.8,207 343.3,206.5 341.8,206.5 340.3,206.9 338.8,206.9 337.2,206.7 335.7,206.6 334.2,206.9 332.7,207 331.2,207.4 329.7,207.5 328.2,207.2 326.7,207 325.1,207.2 323.6,206.3 322.1,206.7 320.6,207 319.1,207.2 317.6,206.3 316.1,206.1 314.6,206.8 313.1,206.5 311.6,206.2 310.1,206.9 308.5,206.4 307,206.2 305.5,206.2 304,206.7 302.5,206.1 300.9,206.6 299.2,206.1" fill="rgb(0,0,255)"/>
<polygon points="298.2,150.5 298.2,150.5 299,185 300.5,185.1 302,184.4 303.5,184.9 305,184.7 306.5,184.7 308,184.2 309.5,184.2 311,185.2 312.5,184.5 314,184.3 315.5,184.2 317,184.3 318.5,184.2 320,184.5 321.5,183.8 323.1,184.7 324.6,184.2 326.2,183.9 327.7,184.6 329.2,183.7 330.8,183.9 332.3,184.7 333.8,183.6 335.4,184 336.9,184.5 338.5,184.5 340,184 341.5,183.4 343.1,183.6 344.6,184.1 346.2,183.5 347.7,184.3 349.2,183.1 350.8,184.1 352.3,183.4 353.8,182.9 355.4,183.2 356.9,182.6 358.5,183.4 360,183 361.5,182.9 363.1,184 364.6,183.8 366.2,183.7 367.7,183.8 369.2,184.5 370.8,184.2 372.3,185.4 373.8,184.5 375.4,185.3 376.9,185.6 378.5,185.4 380,186 381.5,186.5 383,186 384.5,186.5 386,186.5 387.5,186.2 389,186.4 390.5,186.1 392,186.3 393.5,187.4 395,187 396.5,186.8 398,187.4 399.5,186.8 401,187.5 402.5,187.3 404,187.6 405.5,187.4 407,187.2 408.5,187.6 410,188 411.7,188 413.3,188.1 415,189.3 416.7,189 418.3,189.5 420,190 421.5,190.6 423,190.4 424.5,190.5 426,190.5 427.6,189.5 429.1,189.7 430.6,189.3 432.1,190.3 433.6,190.2 435.1,189.8 436.6,189.9 438.1,190.2 439.6,190.3 441.1,189.6 442.7,190.5 444.2,189.8 445.7,190.2 447.2,189.6 448.7,189.5 450.2,190.6 451.7,190.3 453.2,190.3 454.7,189.4 456.2,189.4 457.8,189.5 459.3,189.6 460.8,189.7 462.3,189.8 463.8,189.4 465.3,189.7 466.8,190.2 468.3,189.6 469.8,190.5 471.3,190.1 472.9,190.3 474.4,189.7 475.9,189.9 477.4,190.3 478.9,189.8 480.4,189.3 481.9,190.5 483.4,190.4 484.9,189.7 486.4,189.4 488,190.5 489.5,190.2 491,189.4 492.5,189.6 494,190 495,190 495,150.5" fill="rgb(40,10,222)"/>
<polygon points="298.2,150.5 298.2,150.5 299,181 300.5,180.4 302,181.3 303.5,180.5 305,181.4 306.5,181.2 308,180.2 309.5,181 311,180.6 312.5,181 314,181.1 315.5,180.3 317,180 318.5,181.2 320,180.5 321.5,180.4 323.1,181 324.6,180.7 326.2,180.7 327.7,180.8 329.2,180.4 330.8,180.2 332.3,179.6 333.8,180.4 335.4,180 336.9,180.1 338.5,180.6 340,180 341.5,179.4 343.1,180.2 344.6,179.1 346.2,180 347.7,180 349.2,179.2 350.8,179.5 352.3,180 353.8,179.5 355.4,179.3 356.9,178.8 358.5,178.5 360,179 361.5,178.8 363.1,179 364.6,178.7 366.2,178.9 367.7,178.7 369.2,179.5 370.8,179.5 372.3,178.9 373.8,179 375.4,179.4 376.9,179.3 378.5,180.1 380,179.5 381.5,179.2 383,179.1 384.5,179.9 386,178.8 387.5,179.3 389,179 390.5,179.6 392,179.2 393.5,179.4 395,179 396.5,178.6 398,179.3 399.5,179.3 401,179.1 402.5,179.6 404,179.8 405.5,178.8 407,179.1 408.5,179.3 410,179.5 411.7,179.2 413.3,179.1 415,179.4 416.7,179.4 418.3,180.2 420,180 421.7,180.3 423.3,180.1 425,180.8 426.7,181.3 428.3,181.5 430,182 431.5,181.5 433,181.4 434.6,181.3 436.1,182.7 437.6,182.4 439.1,181.4 440.7,182.3 442.2,182.7 443.7,182.1 445.2,181.5 446.8,182 448.3,181.9 449.8,181.6 451.3,182.1 452.9,181.3 454.4,182.6 455.9,182.2 457.4,182.2 459,182.6 460.5,182.2 462,181.7 463.5,181.6 465,181.5 466.6,181.3 468.1,182.4 469.6,182.5 471.1,181.7 472.7,181.6 474.2,182.2 475.7,182.5 477.2,182.6 478.8,181.5 480.3,182.4 481.8,182.5 483.3,182.3 484.9,181.8 486.4,181.6 487.9,182.5 489.4,181.7 491,181.8 492.5,182.1 494,182 495,182 495,150.5" fill="rgb(75,10,185)"/>
<polygon points="298.2,150.5 298.2,150.5 299,175 300.5,174.8 302,175.4 303.5,174.5 305,174.2 306.5,174.9 308,175 309.5,175.2 311,175 312.5,175.2 314,175.3 315.5,174.6 317,174.6 318.5,174.1 320,174.5 321.5,174.3 323.1,174.7 324.6,174 326.2,174.9 327.7,174.2 329.2,174.7 330.8,175.4 332.3,174.2 333.8,174.2 335.4,174.8 336.9,174.5 338.5,175.3 340,175 341.5,174.2 343.1,175.3 344.6,175.3 346.2,175.1 347.7,174.5 349.2,174.2 350.8,174.7 352.3,174.4 353.8,174.2 355.4,174 356.9,174.1 358.5,174.3 360,174 361.5,174.5 363.1,174.6 364.6,173.5 366.2,173.7 367.7,173.9 369.2,174.1 370.8,173.8 372.3,173.6 373.8,173.4 375.4,173.8 376.9,173.9 378.5,174.7 380,174 381.5,174.6 383.1,174.5 384.6,174.7 386.2,174.6 387.7,174.2 389.2,174.4 390.8,173.4 392.3,174.2 393.8,174.2 395.4,173.7 396.9,174.1 398.5,174.6 400,174 401.5,174 403.1,174.2 404.6,173.7 406.2,173.8 407.7,174.5 409.2,173.3 410.8,173.6 412.3,174.3 413.8,173.9 415.4,173.4 416.9,174.2 418.5,173.8 420,174 421.5,174.4 423,174.5 424.5,174.9 426,175.3 427.5,175.4 429,175.3 430.5,175.7 432,176.9 433.5,176.8 435,177 436.5,176.5 438,177.5 439.5,176.7 441.1,176.4 442.6,177 444.1,176.7 445.6,177 447.1,177.1 448.6,176.6 450.1,177.1 451.6,176.5 453.2,177 454.7,177.1 456.2,176.4 457.7,176.9 459.2,176.4 460.7,176.9 462.2,177.5 463.7,177.1 465.3,177.3 466.8,177.4 468.3,176.5 469.8,177.7 471.3,177.3 472.8,176.4 474.3,177.5 475.8,176.8 477.4,176.5 478.9,177.6 480.4,177.1 481.9,177.4 483.4,176.5 484.9,177.4 486.4,176.4 487.9,176.6 489.5,176.8 491,176.3 492.5,177.1 494,177 495,177 495,150.5" fill="rgb(125,0,135)"/>
<polygon points="298.2,150.5 298.2,150.5 299,166 300.6,165.5 302.1,165.4 303.7,165.9 305.3,165.3 306.9,165.8 308.4,165.3 310,165 311.6,164.9 313.2,163.9 314.8,163.8 316.4,163.1 318,162 319.4,162.1 320.8,163.5 322.2,163.6 323.6,164.8 325,165 326.5,165.3 328,165.6 329.5,164.6 331,165 332.5,165.6 334,165.9 335.5,165.7 337,164.8 338.5,165.6 340,165.5 341.7,164.5 343.3,164.7 345,164.7 346.7,163.3 348.3,164 350,163 351.7,163.9 353.3,164 355,165 356.6,164.6 358.1,164.9 359.7,165.5 361.2,165.1 362.8,164.5 364.4,164.3 365.9,164.5 367.5,165.4 369.1,164.6 370.6,165.1 372.2,164.7 373.8,165.3 375.3,164.8 376.9,164.5 378.4,165.5 380,165 381.5,165.1 383.1,165.3 384.6,165.4 386.2,165.6 387.7,164.3 389.2,164.8 390.8,164.5 392.3,165 393.8,165.5 395.4,165.4 396.9,164.3 398.5,164.6 400,165 401.5,165.6 403.1,165.5 404.6,165.2 406.2,165.4 407.7,165.1 409.2,166.2 410.8,165.7 412.3,166.4 413.8,166.2 415.4,165.6 416.9,166 418.5,166 420,166.5 421.5,167.1 423.1,166.7 424.6,166 426.2,166.2 427.7,166.5 429.2,166.7 430.8,166.9 432.3,166.7 433.8,166.6 435.4,166.2 436.9,167 438.5,166.7 440,167 441.5,166.6 443,167.5 444.5,168.6 446,167.6 447.5,168 449,169 450.5,168.8 452,169.1 453.5,169.7 455,170 456.5,169.7 458,170.3 459.5,170.3 461,170.9 462.5,171.1 464,169.8 465.5,170.6 467,171 468.5,171.2 470,171.2 471.5,171 473,171.1 474.5,170.8 476,170.8 477.5,171.6 479,171.8 480.5,171.9 482,171.6 483.5,171.2 485,171.9 486.5,172 488,171.7 489.5,172 491,171.6 492.5,172 494,172 495,172 495,150.5" fill="rgb(160,0,98)"/>
<polygon points="298.2,150.5 298.2,150.5 299,157.5 300.5,157.4 302,157 303.5,157.4 305,157.4 306.5,158.4 308,157.7 309.5,157.6 311,157.4 312.5,157.5 314,157.6 315.5,157.4 317,157.2 318.5,158.5 320,158 321.5,157.9 323.1,157.9 324.6,158.1 326.2,157.7 327.7,157.5 329.2,157.4 330.8,157.7 332.3,157.7 333.8,158.3 335.4,158.1 336.9,158.6 338.5,157.8 340,158 341.5,158.6 343.1,158.2 344.6,157.5 346.2,157.7 347.7,158.3 349.2,158.9 350.8,158.1 352.3,158.7 353.8,158.2 355.4,158.9 356.9,157.8 358.5,158.4 360,158.5 361.5,159.1 363.1,158.2 364.6,158.2 366.2,157.8 367.7,158 369.2,158.2 370.8,158.8 372.3,158.1 373.8,158.4 375.4,158.1 376.9,158.6 378.5,159 380,158.5 381.5,158.8 383.1,158.2 384.6,159.1 386.2,159.5 387.7,159 389.2,158.4 390.8,159.5 392.3,159.6 393.8,159 395.4,158.8 396.9,158.9 398.5,159.5 400,159.5 401.5,160.1 403.1,159.8 404.6,160.2 406.2,159.3 407.7,159.4 409.2,160.1 410.8,160 412.3,159.7 413.8,160.1 415.4,159.7 416.9,159.3 418.5,159.8 420,160 421.5,159.4 423.1,160.3 424.6,160 426.2,160.3 427.7,160.5 429.2,160.1 430.8,160.5 432.3,159.9 433.8,161.3 435.4,160.9 436.9,161.5 438.5,160.3 440,161 441.5,161.2 443,161.3 444.5,160.8 446,160.4 447.5,160.5 449,160.5 450.5,161.4 452,160.4 453.5,161.4 455,160.9 456.5,161.1 458,161.1 459.5,161.1 461,161.2 462.5,161.1 464,160.8 465.5,161.3 467,160.7 468.5,161.3 470,161.4 471.5,161.4 473,160.7 474.5,161.4 476,161.7 477.5,160.9 479,160.7 480.5,161 482,161.6 483.5,160.5 485,160.3 486.5,161 488,161.2 489.5,161.4 491,160.8 492.5,161.7 494,161 495,161 495,150.5" fill="rgb(180,0,78)"/>
<polygon points="298.2,150.5 332,150.5 332,151.5 333,152.9 334,155 335.6,155.6 337.1,155 338.7,155.2 340.3,155.6 341.9,155.8 343.4,156.7 345,157 346.5,157.1 348,156.7 349.5,157.8 351,157 352.5,156.8 354,156.8 355.5,157.7 357,158 358.5,157 360,157.5 361.5,156.8 363.1,157.9 364.6,157.1 366.2,158.2 367.7,157.5 369.2,157.7 370.8,157.3 372.3,157.9 373.8,157.4 375.4,157.3 376.9,158.1 378.5,157 380,157.5 381.5,157.9 383.1,157 384.6,157.8 386.2,157.5 387.7,158.2 389.2,157.1 390.8,157.9 392.3,157.7 393.8,158.4 395.4,158.5 396.9,158.1 398.5,157.6 400,158 401.5,157.8 403.1,157.9 404.6,158.3 406.2,158.1 407.7,158.2 409.2,159.1 410.8,159 412.3,158.6 413.8,159.7 415.4,158.8 416.9,159.4 418.5,158.9 420,159.5 421.5,160 423.1,160.1 424.6,159.3 426.2,160 427.7,160.1 429.2,159.4 430.8,159.5 432.3,159.8 433.8,160.4 435.4,159.4 436.9,160.2 438.5,160.1 440,160 441.7,158.9 443.3,158.1 445,157 446.7,157.7 448.3,156.9 450,158 451.7,157.5 453.3,158.2 455,158 456.7,158.2 458.3,156.9 460,157.5 461.7,157.4 463.3,156 465,156 466.7,156 468.3,156.8 470,158 470.5,160.2 471,160.3 471.5,163.1 472,163.5 472.5,165.8 473,166.4 473.5,168 474,170 475.5,170.3 477.1,169.4 478.6,169.8 480.2,170.6 481.7,170.3 483.2,170.5 484.8,170.7 486.3,169.3 487.8,169.6 489.4,170.4 490.9,170.3 492.5,169.4 494,170 495,170 495,150.5" fill="rgb(208,0,50)"/>
<polygon points="299.9,188.4 302.5,188.4 302.5,206.5 299.9,206.5" fill="#fff"/>
</g>
<polyline points="299.9,206.5 299.9,188.4 302.5,188.4 302.5,206.5" fill="none" stroke="#111" stroke-width="0.9"/>
<polygon points="299.2,228.2 299.2,211.8 300.8,211.8 302.4,211.7 304,211.8 305.6,211.6 307.2,211.6 308.8,212.2 310.4,211.8 312,212.2 313.6,211.7 315.2,211.9 316.8,211.8 318.4,211.9 320,212 321.5,211.8 323.1,212.1 324.6,211.8 326.2,212.1 327.7,212 329.2,211.8 330.8,211.9 332.3,212 333.8,212.3 335.4,211.9 336.9,211.8 338.5,212.3 340,212 341.5,212.2 343.1,212.1 344.6,211.8 346.2,211.7 347.7,211.7 349.2,211.6 350.8,211.6 352.3,211.8 353.8,211.7 355.4,211.8 356.9,211.7 358.5,211.4 360,211.7 361.6,211.7 363.2,211.5 364.8,211.3 366.4,211.1 368,211 369.6,211.1 371.2,210.8 372.8,210.6 374.4,210.3 375.8,209.6 377.2,208.9 378.6,208.4 380,207.8 381.6,207.6 383.2,206.8 384.8,206.3 386.4,205.8 388,205.4 389.6,204.4 391.2,204.1 392.7,202.7 394.3,202.3 395.9,201.4 397.2,200.9 398.5,199.7 399.7,199.1 401,198.1 402.3,197.4 403.7,196 405.1,194.8 406.5,193.6 407.9,192.6 409.2,191.8 410.5,190.7 411.8,189.5 413.8,188.7 415.8,187.5 417.2,186.7 418.6,186.5 420,185.8 421.5,185.2 423,184.9 424.5,184.3 426,183.8 427.5,183.1 429,182.8 430.6,181.6 432.1,181.5 433.6,180.7 435,180.2 436.4,179.3 437.7,178.7 439.1,178.3 440.5,177.3 442.2,176.6 443.9,176.4 445.6,175.9 447.3,175.3 448.8,174.9 450.3,174.8 451.9,174.3 453.4,174.1 454.9,173.9 456.4,173.6 458,173.1 459.5,173 461,172.6 462.5,172.3 464,171.8 465.5,171.7 467,171.2 468.6,171.3 470.1,170.7 471.6,170.6 473.1,170.1 474.6,169.8 476.2,169.8 477.8,169.7 479.5,169.7 481.1,170.2 482.7,169.9 484.3,170 485.9,170 487.5,170.2 489.1,169.9 490.8,169.9 492.4,170.3 494,170.1 494,228.2" fill="#000"/>
<clipPath id="cR3"><polygon points="300.3,279.8 494,279.8 494,294.8 492.4,295.3 490.8,294.9 489.3,295.8 487.7,296.3 486.1,295.9 484.5,296.2 483,297.4 481.4,296.8 479.8,297.6 478.2,297.4 476.7,297.3 475.1,298.2 473.5,298.3 472,298.2 470.4,298.4 468.8,297.7 467.3,298.3 465.7,298.8 464.1,298.8 462.6,299.1 461,298.8 459.4,299.1 457.8,299.4 456.2,299.7 454.7,300.5 453.1,300.4 451.5,300.7 449.9,300.9 448.2,301.7 446.6,301.6 444.9,301.9 443.3,302.3 441.6,301.9 440,302.8 438.5,303.3 436.9,303.7 435.4,303.5 433.9,303.7 432.4,303.8 430.8,304.4 429.3,303.8 427.8,304.4 426.2,305 424.7,305 423.1,305.2 421.5,306 419.9,306.7 418.2,306.1 416.6,307.3 415,307.2 412.9,308 410.9,308.6 409.2,309.2 407.6,309.9 405.9,310.8 404.5,312.1 403,312.8 401.6,313.6 400.1,314.9 398.7,316.5 397.6,318.1 396.5,320.1 395.6,321.6 394.6,322.3 393.7,323.7 392.6,324.7 391.5,325.3 390.5,326.8 389.4,328 388,329.1 386.5,330.4 385.1,330.9 383.6,331.6 382.2,333 380.8,334.2 379.3,334.6 377.9,334.7 376.4,336.3 375,336.6 373.2,336.6 371.5,337.1 369.8,337.4 368,338 366.4,338.4 364.8,337.9 363.2,337.8 361.6,338.6 360,338.6 358.5,338.4 357,338.3 355.5,338.9 354,339 352.5,339.1 351,339.1 349.5,339.6 348,339.6 346.5,340.1 345,340 343.5,339.8 341.9,340.7 340.4,341 338.9,340.8 337.3,341 335.8,341.5 334.2,342.1 332.7,341.7 331.1,341.5 329.6,341 328,341.3 326.4,341.3 324.8,341.6 323.2,340.9 321.7,340.5 320.1,340.6 318.5,340.4 316.9,340.2 315.4,341 313.8,340.5 312.3,340.7 310.8,340 309.3,339.4 307.8,340.2 306.3,340.1 304.8,339.8 303.3,339.4 301.8,339 300.3,338.9"/></clipPath>
<g clip-path="url(#cR3)">
<polygon points="300.3,279.8 494,279.8 494,294.8 492.4,295.3 490.8,294.9 489.3,295.8 487.7,296.3 486.1,295.9 484.5,296.2 483,297.4 481.4,296.8 479.8,297.6 478.2,297.4 476.7,297.3 475.1,298.2 473.5,298.3 472,298.2 470.4,298.4 468.8,297.7 467.3,298.3 465.7,298.8 464.1,298.8 462.6,299.1 461,298.8 459.4,299.1 457.8,299.4 456.2,299.7 454.7,300.5 453.1,300.4 451.5,300.7 449.9,300.9 448.2,301.7 446.6,301.6 444.9,301.9 443.3,302.3 441.6,301.9 440,302.8 438.5,303.3 436.9,303.7 435.4,303.5 433.9,303.7 432.4,303.8 430.8,304.4 429.3,303.8 427.8,304.4 426.2,305 424.7,305 423.1,305.2 421.5,306 419.9,306.7 418.2,306.1 416.6,307.3 415,307.2 412.9,308 410.9,308.6 409.2,309.2 407.6,309.9 405.9,310.8 404.5,312.1 403,312.8 401.6,313.6 400.1,314.9 398.7,316.5 397.6,318.1 396.5,320.1 395.6,321.6 394.6,322.3 393.7,323.7 392.6,324.7 391.5,325.3 390.5,326.8 389.4,328 388,329.1 386.5,330.4 385.1,330.9 383.6,331.6 382.2,333 380.8,334.2 379.3,334.6 377.9,334.7 376.4,336.3 375,336.6 373.2,336.6 371.5,337.1 369.8,337.4 368,338 366.4,338.4 364.8,337.9 363.2,337.8 361.6,338.6 360,338.6 358.5,338.4 357,338.3 355.5,338.9 354,339 352.5,339.1 351,339.1 349.5,339.6 348,339.6 346.5,340.1 345,340 343.5,339.8 341.9,340.7 340.4,341 338.9,340.8 337.3,341 335.8,341.5 334.2,342.1 332.7,341.7 331.1,341.5 329.6,341 328,341.3 326.4,341.3 324.8,341.6 323.2,340.9 321.7,340.5 320.1,340.6 318.5,340.4 316.9,340.2 315.4,341 313.8,340.5 312.3,340.7 310.8,340 309.3,339.4 307.8,340.2 306.3,340.1 304.8,339.8 303.3,339.4 301.8,339 300.3,338.9" fill="rgb(0,0,255)"/>
<polygon points="299.3,278.8 299.3,278.8 300,311.5 301.5,311.7 303,311.4 304.5,310.7 306,311.5 307.5,311.1 309,311.2 310.5,311.8 312,311 313.6,311.4 315.2,311.5 316.9,310.5 318.5,310.8 320.1,311 321.8,310.3 323.4,311.7 325,311 326.5,310.5 328,310.3 329.5,310.1 331,309.9 332.5,310.5 334,309.9 335.5,309.6 337,309.3 338.5,308.6 340,309 341.5,308.5 343.1,309.1 344.6,308.7 346.2,308.6 347.7,307.5 349.2,307.2 350.8,306.8 352.3,307.2 353.8,306.7 355.4,306.6 356.9,306.4 358.5,306.3 360,306 361.5,305.8 363,306.4 364.5,305.6 366,306.6 367.5,306.1 369,305.4 370.5,305.7 372,306 373.5,305.9 375,306 376.7,306.3 378.3,306.1 380,306.2 381.7,307.1 383.3,306.5 385,307 386.6,307.6 388.1,308 389.7,308 391.3,308.1 392.9,309 394.4,308.6 396,309 396.8,310.9 397.6,311.2 398.4,313.1 399.2,314.8 400,316 401.5,315.4 403,316.6 404.5,315.6 406.1,316.4 407.6,315.9 409.1,317 410.6,316.5 412.1,316.9 413.6,316.6 415.2,316.9 416.7,317 418.2,316.5 419.7,316.4 421.2,317.4 422.7,316.5 424.3,317.6 425.8,316.7 427.3,316.6 428.8,316.7 430.3,317.7 431.8,318 433.4,317.3 434.9,317.7 436.4,317.2 437.9,318.2 439.4,317.9 440.9,317.3 442.5,317.2 444,318.1 445.5,317.3 447,318.5 448.5,317.8 450,317.8 451.5,318.3 453.1,318 454.6,318.4 456.1,317.9 457.6,319 459.1,318.3 460.6,319.1 462.2,318.2 463.7,319.1 465.2,319.4 466.7,318.7 468.2,318.2 469.7,318.8 471.3,319.2 472.8,318.7 474.3,319.2 475.8,318.7 477.3,319.2 478.8,319.7 480.4,319.3 481.9,319.7 483.4,319 484.9,320.1 486.4,319.1 487.9,320.3 489.5,320.5 491,320.5 492.5,320 494,320 495,320 495,278.8" fill="rgb(40,10,222)"/>
<polygon points="299.3,278.8 299.3,278.8 300,309 301.5,308.5 303.1,308.3 304.6,308.7 306.2,308.1 307.7,308.4 309.2,307 310.8,307.4 312.3,307.7 313.8,307.1 315.4,306.7 316.9,305.9 318.5,305.7 320,306 321.5,305.4 323.1,306.1 324.6,305.8 326.2,304.7 327.7,305.4 329.2,304 330.8,304.5 332.3,304.8 333.8,303.7 335.4,304.3 336.9,303.7 338.5,302.6 340,303 341.5,302.7 343.1,302.8 344.6,302.4 346.2,303 347.7,302.2 349.2,302.9 350.8,302.2 352.3,301.8 353.8,302.4 355.4,301.7 356.9,302.2 358.5,302.5 360,302 361.5,302.1 363,301.9 364.5,301.3 366,302 367.5,301.4 369,302.2 370.5,301.5 372,302.1 373.5,301.8 375,302 376.7,302 378.3,302.6 380,302 381.7,302.2 383.3,303.5 385,303 386.6,303 388.1,304.1 389.7,304.4 391.3,304.1 392.9,303.9 394.4,304.1 396,305 397,306.7 398,306.8 399,308.5 400,309.7 401,310.3 402,312 402.8,313.3 403.7,314.2 404.5,316 405.3,317.3 406.2,318.5 407,320 408.5,319.6 410,319.9 411.5,319.6 413,319.5 414.5,319.6 416,320.5 417.5,320 419,320.5 420.5,319.3 422,320.6 423.5,320 425,320.4 426.5,320.1 428,320.3 429.5,319.6 431,320.4 432.5,319.5 434,319.7 435.5,319.3 437,319.9 438.5,320 440,319.7 441.5,320.5 443,319.4 444.5,320.1 446,319.6 447.5,320.1 449,320.4 450.5,320.3 452,319.4 453.5,319.6 455,320.1 456.5,320.7 458,319.4 459.5,320.2 461,320.3 462.5,320.4 464,319.8 465.5,320.4 467,319.9 468.5,320.6 470,319.3 471.5,320.6 473,319.9 474.5,319.9 476,319.4 477.5,319.6 479,320.3 480.5,320.3 482,319.5 483.5,319.8 485,319.5 486.5,319.6 488,319.6 489.5,319.8 491,320.7 492.5,320.7 494,320 495,320 495,278.8" fill="rgb(80,10,180)"/>
<polygon points="299.3,278.8 299.3,278.8 300,303 301.5,303.3 303,302.7 304.5,302.5 306,302.8 307.5,302.8 309,302.5 310.5,302.1 312,301.4 313.5,301.8 315,302 316.5,301.8 318,300.6 319.5,301.4 321,300.7 322.5,300.3 324,301.3 325.5,300.7 327,300.6 328.5,299.6 330,300 331.5,300.4 333,300.4 334.5,300.3 336,299.9 337.5,300 339,299.8 340.5,299.4 342,299.1 343.5,299.6 345,299.4 346.5,299.4 348,298.5 349.5,299.3 351,298.6 352.5,299.1 354,297.9 355.5,299 357,298.6 358.5,297.8 360,298 361.5,298.5 363.1,297.6 364.6,297.6 366.2,297.9 367.7,297.6 369.2,298 370.8,298.6 372.3,298.3 373.8,298.3 375.4,297.8 376.9,298.4 378.5,298.4 380,298 381.5,298.4 383,298.8 384.5,298.8 386,298.3 387.5,297.9 389,298.8 390.5,299.2 392,298.6 393.5,299 395,299 396.8,299.7 398.5,299.9 400.2,299.1 402,300 402.6,301.4 403.1,302.2 403.7,303.7 404.3,306.2 404.9,307 405.4,308.7 406,310 407.5,309.9 409,309.8 410.6,309.6 412.1,309.8 413.6,310.5 415.1,310.2 416.6,309.7 418.1,309.4 419.7,309.7 421.2,310.3 422.7,309.9 424.2,310.2 425.7,310.4 427.2,309.5 428.8,310.3 430.3,309.4 431.8,310.5 433.3,309.6 434.8,309.7 436.3,310.6 437.9,309.8 439.4,309.6 440.9,310.5 442.4,310.2 443.9,310.6 445.4,309.9 447,310 448.5,310.6 450,310 451.5,310.7 453,309.6 454.6,310.5 456.1,309.5 457.6,310 459.1,309.3 460.6,309.5 462.1,310.6 463.7,309.9 465.2,310.4 466.7,309.7 468.2,309.8 469.7,309.4 471.2,310.1 472.8,310.5 474.3,310 475.8,309.8 477.3,310.6 478.8,310.6 480.3,310.2 481.9,309.4 483.4,310.2 484.9,309.9 486.4,310.6 487.9,309.8 489.4,310.2 491,310.2 492.5,309.8 494,310 495,310 495,278.8" fill="rgb(115,0,148)"/>
<polygon points="299.3,278.8 299.3,278.8 300,296.5 301.5,296.5 303,296.7 304.5,297 306,296.4 307.5,296.2 309,297 310.5,295.7 312,296.8 313.5,296.5 315,296.3 316.5,296.2 318,296.6 319.5,296.7 321,296.5 322.5,296.5 324,295.4 325.5,295.8 327,295.5 328.5,296.7 330,296 331.5,296.5 333,295.4 334.5,296 336,295.9 337.5,295.1 339,295.5 340.5,296 342,295.8 343.5,295.2 345,295.9 346.5,295.2 348,295.5 349.5,295.2 351,296 352.5,295.5 354,295.6 355.5,295.4 357,294.9 358.5,295.7 360,295 361.5,295.3 363.1,295.3 364.6,294.7 366.2,294.5 367.7,295.1 369.2,295.5 370.8,295.4 372.3,294.8 373.8,294.5 375.4,295 376.9,295.5 378.5,294.5 380,295 381.5,295.4 383.1,294.6 384.6,294.9 386.2,294.5 387.7,294.9 389.2,295.1 390.8,295.9 392.3,296 393.8,294.9 395.4,295.1 396.9,296 398.5,295 400,295.5 401.6,295.2 403.1,295.3 404.7,294.8 406.2,294.9 407.8,295.1 409.3,295 410.9,295.8 412.4,294.7 414,295 414.4,296.1 414.8,298.6 415.2,299.4 415.6,301.5 416,302.7 416.4,304.4 416.8,305.2 417.2,306.5 417.6,308.9 418,310 419.5,310 421,310.1 422.6,310.2 424.1,310.4 425.6,309.7 427.1,309.8 428.6,310.6 430.2,310 431.7,309.7 433.2,310.2 434.7,309.7 436.2,310.4 437.8,309.4 439.3,310.5 440.8,310.1 442.3,309.8 443.8,310.6 445.4,309.7 446.9,309.6 448.4,309.4 449.9,310.1 451.4,310.4 453,310.2 454.5,309.9 456,310.4 457.5,309.5 459,309.7 460.6,310.2 462.1,310.7 463.6,310.2 465.1,310.3 466.6,310.4 468.2,309.9 469.7,310.6 471.2,310.3 472.7,309.8 474.2,309.8 475.8,310.4 477.3,309.8 478.8,309.6 480.3,310.5 481.8,310 483.4,310 484.9,310.2 486.4,310.6 487.9,309.5 489.4,309.8 491,309.4 492.5,309.9 494,310 495,310 495,278.8" fill="rgb(160,0,100)"/>
<polygon points="299.3,278.8 299.3,278.8 300,291 301.5,291 303,291.4 304.5,291.2 306,291 307.5,290.7 309,291 310.5,290.5 312,291.3 313.5,291.2 315,291.2 316.5,290.2 318,290.9 319.5,291 321,290.7 322.5,291.2 324,291.2 325.5,290.9 327,291 328.5,290.7 330,290.5 331.5,291 333,289.9 334.5,290.7 336,290.7 337.5,290.5 339,290 340.5,289.7 342,290.4 343.5,290.7 345,289.9 346.5,289.8 348,289.8 349.5,289.6 351,290.4 352.5,290.8 354,290.5 355.5,289.9 357,290.3 358.5,289.4 360,290 361.5,290.5 363.1,289.8 364.6,289.4 366.2,290.3 367.7,289.6 369.2,289.8 370.8,289.5 372.3,290.1 373.8,290.2 375.4,290.6 376.9,289.6 378.5,290.7 380,289.7 381.5,289.9 383.1,290.5 384.6,290.1 386.2,290.1 387.7,290.4 389.2,290 390.8,290.8 392.3,290 393.8,290.9 395.4,290.9 396.9,290.5 398.5,289.8 400,290.5 401.5,290.9 403,289.8 404.5,290.4 406,290.3 407.5,289.8 409,290.5 410.5,290.6 412,290.4 413.5,290.1 415,290.3 416.5,290.3 418,289.8 419.5,290.7 421,290.8 422.5,290.6 424,290.7 425.5,289.8 427,290.7 428.5,289.4 430,290 431.5,290 433,289.5 434.5,289.9 436,290.3 437.5,290.3 439,289.9 440.5,289.8 442,289.6 443.5,289.9 445,289.7 446.5,289.6 448,290.3 449.5,290 451,290 451.1,291.5 451.2,292.7 451.2,294.9 451.3,295.7 451.4,297.4 451.5,299.3 451.5,301.1 451.6,303 451.7,304.2 451.8,306 451.8,307.5 451.9,308.8 452,310 453.5,310.3 455,309.4 456.5,309.6 458,309.3 459.5,310.5 461,310.3 462.5,310.2 464,309.7 465.5,309.8 467,309.5 468.5,310.2 470,310.7 471.5,309.7 473,309.4 474.5,309.5 476,309.8 477.5,310.6 479,310.4 480.5,309.9 482,309.4 483.5,309.4 485,309.5 486.5,310.4 488,310 489.5,310.7 491,310.6 492.5,310.4 494,310 495,310 495,278.8" fill="rgb(200,0,60)"/>
<polygon points="299.3,278.8 299.3,278.8 300,287.7 301.5,287.8 303.1,288.4 304.6,287.5 306.2,287.6 307.7,288.3 309.2,288.3 310.8,288 312.3,288.2 313.8,287.9 315.4,289.3 316.9,289.1 318.5,289.5 320,289 321.5,289.7 323.1,289.1 324.6,289.6 326.2,289.1 327.7,289.8 329.2,289.9 330.8,289 332.3,288.9 333.8,289.3 335.4,289.9 336.9,289.7 338.5,289.2 340,290 341.5,290.4 343.1,290.2 344.6,289.7 346.2,289.1 347.7,290.2 349.2,289.6 350.8,288.9 352.3,289.1 353.8,289.5 355.4,289.8 356.9,289.1 358.5,289.3 360,289 361.5,288.5 363.1,288.5 364.6,289.3 366.2,288.5 367.7,288.1 369.2,288.7 370.8,287.9 372.3,288 373.8,288.2 375.4,288.4 376.9,288.3 378.5,288.4 380,288 381.5,288.1 383,287.7 384.5,288.8 386,288 387.5,288.7 389,288.8 390.5,289.3 392,289.5 393.5,289 395,289.5 396.6,289.8 398.2,289.9 399.8,289.6 401.3,289.2 402.9,290.3 404.5,289.9 406.1,289.2 407.7,289.5 409.2,290.6 410.8,289.5 412.4,289.8 414,290 415.5,290.3 417.1,290.3 418.6,289.9 420.1,290 421.6,288.9 423.2,288.9 424.7,290 426.2,289.7 427.8,288.6 429.3,288.5 430.8,288.7 432.4,289.5 433.9,288.5 435.4,289 436.9,289.3 438.5,288.8 440,288.5 441.5,289.1 443.1,288.2 444.6,288.1 446.2,288 447.7,289.1 449.2,288.2 450.8,289.4 452.3,289.1 453.8,288.4 455.4,289.3 456.9,288.5 458.5,289 460,289 461.5,288.5 463.1,289.6 464.6,289.8 466.2,289.9 467.7,288.7 469.2,290 470.8,289.6 472.3,290.1 473.8,289.7 475.4,289.9 476.9,290 478.5,290.3 480,290 481.2,290.7 482.5,291.9 483.8,293.8 485,295 486.5,294.7 488,294.9 489.5,294.3 491,295.3 492.5,294.3 494,295 495,295 495,278.8" fill="rgb(255,0,0)"/>
</g>
<polygon points="300.3,356.3 300.3,344.5 301.8,344.8 303.3,344.9 304.8,344.8 306.3,344.7 307.8,345.1 309.3,345 310.8,345.2 312.3,345.2 313.8,345.5 315.4,345.7 316.9,345.4 318.5,345.2 320.1,344.9 321.7,345.2 323.2,345.2 324.8,345.1 326.4,344.6 328,344.7 329.6,344.5 331.1,344.7 332.7,344.5 334.2,344.1 335.8,344.2 337.3,344.2 338.9,343.9 340.4,343.3 341.9,343.1 343.5,343 345,343 346.5,343 348,342.9 349.5,342.7 351,342.6 352.5,342.4 354,342.5 355.5,342.4 357,342.4 358.5,342.2 360,342 361.6,342.1 363.2,342 364.8,341.9 366.4,341.7 368,341.5 369.8,340.9 371.5,341 373.2,340.7 375,340.2 376.4,339.4 377.9,339 379.3,337.8 380.8,337.6 382.2,336.6 383.6,335.6 385.1,334.7 386.5,333.5 388,332.5 389.4,331.6 390.5,330.4 391.7,329.2 392.8,327.9 394,327 395.1,325.9 396.3,324.7 397.5,323.1 398.7,321.5 399.7,320.6 400.6,319.3 401.6,318 402.8,317 404,315.9 405.2,314.4 406.6,313.8 408.1,312.8 409.5,312.2 411.3,311.6 413.2,311.2 415,310.8 416.8,309.9 418.5,309.4 420.3,309 421.9,308.9 423.6,308.5 425.2,307.8 426.9,307.7 428.5,307.4 430.2,307.1 431.8,306.5 433.4,306.4 435.1,305.9 436.7,305.4 438.4,305.5 440,305 441.6,304.7 443.3,304.7 444.9,304.4 446.6,304.3 448.2,304.4 449.9,303.7 451.5,303.7 453.1,303.4 454.7,303.2 456.2,302.9 457.8,302.8 459.4,302.2 461,302 462.6,302.1 464.1,301.9 465.7,302 467.3,301.3 468.8,301.3 470.4,301.2 472,301.5 473.5,300.8 475.1,300.9 476.7,301 478.2,301.1 479.8,300.7 481.4,300.2 483,300.1 484.5,299.9 486.1,299.6 487.7,299.3 489.3,299.1 490.8,298.4 492.4,298.2 494,298 494,356.3" fill="#000"/>
<clipPath id="cR4"><polygon points="300.5,411.2 494,411.2 494,423.8 492.5,424.3 491.1,425.2 489.6,425 488.2,425.3 486.7,425.4 485.3,425.8 483.8,426.7 482.2,427.1 480.5,427.3 478.9,427.7 477.3,428.5 475.6,428.6 474,429.5 472.4,429.2 470.9,430.2 469.3,430.2 467.8,430 466.2,430.6 464.7,430.3 463.1,430.8 461.6,431.8 460,431.6 458.4,432 456.9,431.4 455.3,432.5 453.8,432.2 452.2,432.5 450.7,432.4 449.1,432.5 447.6,432.5 446,433 444.4,432.9 442.9,433.1 441.3,434 439.8,433.8 438.2,433.9 436.7,434.8 435.1,434.3 433.6,434.4 432,435.1 430.4,435.4 428.9,435.6 427.3,435.7 425.8,436.7 424.2,436.2 422.7,437.2 421.1,437.1 419.6,438.1 418,437.9 416.5,438.1 415,439.6 413.5,439.3 412,440 410.5,440.8 409,441.8 407.7,442.7 406.3,443.6 405,444.3 403.6,445.1 402.3,446.8 400.9,447.2 399.7,447.9 398.5,449.2 397.3,450.8 396.1,451.6 394.9,453.4 393.7,454.4 392.4,455.4 391.2,456.4 389.9,456.7 388.7,458 387.3,459.4 385.9,459.4 384.4,460.1 383,461.6 381.6,462.1 380.1,463.2 378.7,464.1 377.2,464.9 375.8,465.2 374.2,464.9 372.6,465.7 370.9,464.9 369.3,465.5 366.6,466 364.9,467.1 363.3,467.3 361.6,468.2 359.8,469.1 358,468.4 356.2,469.5 354.4,469.6 352.8,469.7 351.2,470.2 349.6,470 348,470 346.4,470 344.8,470.2 343.2,471.1 341.6,470.7 340,471.1 338.3,471.4 336.7,471.9 335,471.4 333.3,471.1 331.7,471.3 330,471.8 328.3,471.7 326.7,471.4 325,471.5 323.3,471.6 321.7,472 320,472.3 318.3,472.5 316.7,472.3 315,472.3 313.3,472.2 311.7,472.2 310,472 308.4,472.6 306.8,471.8 305.2,471.8 303.7,472.4 302.1,471.7 300.5,472.3"/></clipPath>
<g clip-path="url(#cR4)">
<polygon points="300.5,411.2 494,411.2 494,423.8 492.5,424.3 491.1,425.2 489.6,425 488.2,425.3 486.7,425.4 485.3,425.8 483.8,426.7 482.2,427.1 480.5,427.3 478.9,427.7 477.3,428.5 475.6,428.6 474,429.5 472.4,429.2 470.9,430.2 469.3,430.2 467.8,430 466.2,430.6 464.7,430.3 463.1,430.8 461.6,431.8 460,431.6 458.4,432 456.9,431.4 455.3,432.5 453.8,432.2 452.2,432.5 450.7,432.4 449.1,432.5 447.6,432.5 446,433 444.4,432.9 442.9,433.1 441.3,434 439.8,433.8 438.2,433.9 436.7,434.8 435.1,434.3 433.6,434.4 432,435.1 430.4,435.4 428.9,435.6 427.3,435.7 425.8,436.7 424.2,436.2 422.7,437.2 421.1,437.1 419.6,438.1 418,437.9 416.5,438.1 415,439.6 413.5,439.3 412,440 410.5,440.8 409,441.8 407.7,442.7 406.3,443.6 405,444.3 403.6,445.1 402.3,446.8 400.9,447.2 399.7,447.9 398.5,449.2 397.3,450.8 396.1,451.6 394.9,453.4 393.7,454.4 392.4,455.4 391.2,456.4 389.9,456.7 388.7,458 387.3,459.4 385.9,459.4 384.4,460.1 383,461.6 381.6,462.1 380.1,463.2 378.7,464.1 377.2,464.9 375.8,465.2 374.2,464.9 372.6,465.7 370.9,464.9 369.3,465.5 366.6,466 364.9,467.1 363.3,467.3 361.6,468.2 359.8,469.1 358,468.4 356.2,469.5 354.4,469.6 352.8,469.7 351.2,470.2 349.6,470 348,470 346.4,470 344.8,470.2 343.2,471.1 341.6,470.7 340,471.1 338.3,471.4 336.7,471.9 335,471.4 333.3,471.1 331.7,471.3 330,471.8 328.3,471.7 326.7,471.4 325,471.5 323.3,471.6 321.7,472 320,472.3 318.3,472.5 316.7,472.3 315,472.3 313.3,472.2 311.7,472.2 310,472 308.4,472.6 306.8,471.8 305.2,471.8 303.7,472.4 302.1,471.7 300.5,472.3" fill="rgb(0,0,255)"/>
<polygon points="299.5,410.2 299.5,410.2 300,432.5 301.5,431.9 303.1,432.1 304.6,432.8 306.2,432.6 307.7,433 309.2,433.1 310.8,433 312.3,432 313.8,433.1 315.4,432.5 316.9,432.1 318.5,432 320,433 321.5,432.1 323.1,431.9 324.6,432.2 326.2,433.1 327.7,432.4 329.2,432.8 330.8,431.9 332.3,432.4 333.8,432.2 335.4,432.1 336.9,432.7 338.5,432.3 340,432.5 341.5,431.9 343.1,433.1 344.6,432.4 346.2,432 347.7,431.7 349.2,432.6 350.8,432.4 352.3,431.7 353.8,432.3 355.4,432.6 356.9,432.3 358.5,431.9 360,432.2 361.5,432.4 363.1,432.4 364.6,431.7 366.2,432.6 367.7,432.8 369.2,432.5 370.8,432.6 372.3,431.9 373.8,432.6 375.4,431.6 376.9,431.7 378.5,432.2 380,432 381.5,432.5 383.1,431.3 384.6,431.5 386.2,431.2 387.7,431.7 389.2,431.3 390.8,431.3 392.3,432 393.8,431.8 395.4,432.2 396.9,431.4 398.5,431.8 400,431.5 401.5,430.9 403,432.2 404.5,431.3 406,431.6 407.5,431.7 409,432.4 410.5,431.8 412,432.5 413.5,432 415,431.5 416.5,432.4 418,432 419.6,431.8 421.1,433.1 422.7,432.6 424.2,432.5 425.8,433.8 427.3,433.1 428.9,433.4 430.4,433.6 432,434 433.6,434 435.1,432.9 436.7,433.2 438.2,432.6 439.8,433.3 441.3,432 442.9,432.6 444.4,431.9 446,432 447.6,431.7 449.1,431.6 450.7,431.6 452.2,430.6 453.8,430.5 455.3,430.1 456.9,431.1 458.4,429.7 460,430 461.5,429.3 463.1,429.7 464.6,429.6 466.2,429.8 467.7,428.5 469.3,428.5 470.8,428.3 472.4,428.7 473.9,428.3 475.5,428.1 477,428.5 478.5,428 480.1,428.1 481.6,428.1 483.2,426.9 484.7,427.7 486.3,426.8 487.8,426.1 489.4,427.1 490.9,425.8 492.5,425.5 494,426 495,426 495,410.2" fill="rgb(40,10,222)"/>
<polygon points="299.5,410.2 299.5,410.2 300,431.2 301.5,430.9 303.1,430.9 304.6,431.8 306.2,431.7 307.7,431 309.2,431.2 310.8,431.6 312.3,431.6 313.8,431.3 315.4,431.1 316.9,430.6 318.5,430.7 320,431.3 321.5,431.2 323.1,431.5 324.6,431.6 326.2,431.7 327.7,430.6 329.2,430.5 330.8,431.6 332.3,431.1 333.8,430.6 335.4,431.3 336.9,430.7 338.5,430.6 340,431 341.5,430.8 343.1,431 344.6,431.2 346.2,430.4 347.7,431.3 349.2,431.1 350.8,430.9 352.3,431.2 353.8,431.4 355.4,430.2 356.9,430.9 358.5,431.2 360,431.2 361.5,431.1 363.1,430.4 364.6,431.5 366.2,431.3 367.7,430.5 369.2,430.8 370.8,431.5 372.3,430.4 373.8,430.7 375.4,431.5 376.9,431.4 378.5,430.4 380,430.8 381.5,431.1 383.1,430.6 384.6,431 386.2,431.1 387.7,430.2 389.2,430.3 390.8,430.2 392.3,430.3 393.8,429.9 395.4,430.1 396.9,430.4 398.5,430.4 400,430.5 401.5,429.9 403,430.5 404.5,431 406,430.4 407.5,430.1 409,430.5 410.5,430.1 412,429.7 413.5,430.1 415,429.4 416.5,430.3 418,430 419.6,429.5 421.1,429.8 422.7,430.6 424.2,430.4 425.8,430.5 427.3,430.2 428.9,430.2 430.4,430.3 432,430 433.6,430.5 435.1,429.4 436.7,430 438.2,429.3 439.8,429.1 441.3,429.8 442.9,429.4 444.4,429.6 446,429 447.6,429.4 449.1,428.9 450.7,428.2 452.2,427.9 453.8,428.5 455.3,428.6 456.9,427.9 458.4,427.5 460,428 461.5,427.2 463.1,427.2 464.6,427.8 466.2,426.7 467.7,426.9 469.2,426.7 470.8,427.2 472.3,427.5 473.8,425.9 475.4,425.9 476.9,426.9 478.5,426.8 480,426 481.6,425.3 483.1,425.3 484.7,425.4 486.2,424.9 487.8,424.8 489.3,424.6 490.9,424.1 492.4,423.6 494,424 495,424 495,410.2" fill="rgb(80,5,180)"/>
<polygon points="299.5,410.2 299.5,410.2 300,429.8 301.5,429.2 303.1,429.4 304.6,429.3 306.2,430 307.7,430.2 309.2,429.6 310.8,430.3 312.3,430.2 313.8,429.7 315.4,429.9 316.9,429.5 318.5,430.6 320,430 321.5,430 323.1,429.3 324.6,429.4 326.2,430.1 327.7,429.6 329.2,430.1 330.8,429.4 332.3,430.1 333.8,430.1 335.4,429 336.9,429.7 338.5,429.1 340,429.5 341.5,429.8 343.1,430 344.6,430 346.2,429.2 347.7,429 349.2,429.9 350.8,429.8 352.3,429.2 353.8,429.3 355.4,429.8 356.9,429.2 358.5,430 360,429.8 361.5,429.4 363.1,429.4 364.6,429.6 366.2,429.8 367.7,430 369.2,429 370.8,430 372.3,429.2 373.8,429.3 375.4,429.8 376.9,429.8 378.5,429.7 380,429.5 381.5,430 383.1,429 384.6,429.1 386.2,429.6 387.7,429 389.2,428.8 390.8,428.8 392.3,429.6 393.8,429.6 395.4,429.4 396.9,429.7 398.5,429.5 400,429 401.5,428.7 403,428.6 404.5,429.1 406,428 407.5,428.7 409,427.9 410.5,427.8 412,428.4 413.5,427.8 415,428.8 416.5,428.6 418,428 419.6,427.8 421.1,427.4 422.7,427.1 424.2,427.6 425.8,427.5 427.3,427.1 428.9,427.5 430.4,427.2 432,427 433.6,427.3 435.1,426.2 436.7,426.1 438.2,426.4 439.8,426.4 441.3,426 442.9,426.5 444.4,425.7 446,426 447.6,425.5 449.1,425.5 450.7,425.6 452.2,425.5 453.8,424.7 455.3,424.6 456.9,425 458.4,424.8 460,424 461.5,423.9 463.1,423 464.6,423.2 466.2,423.3 467.7,422.5 469.2,422 470.8,423.1 472.3,422.7 473.8,421.4 475.4,421.6 476.9,421.6 478.5,421 480,421 481.6,420.3 483.1,421.1 484.7,421 486.2,420.5 487.8,419.9 489.3,420.2 490.9,419.7 492.4,420.8 494,420 495,420 495,410.2" fill="rgb(140,0,120)"/>
<polygon points="299.5,410.2 299.5,410.2 300,420 301.5,419.3 303.1,419.6 304.6,420.3 306.2,419.3 307.7,419.3 309.2,419.2 310.8,419.3 312.3,419.7 313.8,420.1 315.4,419.2 316.9,419.1 318.5,419.9 320,419.5 321.5,419.5 323.1,419.4 324.6,419.2 326.2,419.4 327.7,420.5 329.2,419.4 330.8,419.7 332.3,420.5 333.8,420.7 335.4,420.8 336.9,420.3 338.5,421.1 340,420.5 341.5,420.6 343.1,420.1 344.6,420.2 346.2,420.5 347.7,420.4 349.2,419.5 350.8,419.5 352.3,420.5 353.8,419.3 355.4,420.2 356.9,419.4 358.5,419.2 360,419.5 361.5,419.2 363.1,419.5 364.6,420.3 366.2,419.2 367.7,420.2 369.2,419.5 370.8,419.3 372.3,420.2 373.8,419.6 375.4,419.4 376.9,419.8 378.5,420.4 380,420 381.5,420.5 383.1,420.2 384.6,419.4 386.2,420.5 387.7,420.3 389.2,420.8 390.8,420.9 392.3,420.1 393.8,420.8 395.4,420.8 396.9,420.1 398.5,420.3 400,420.5 401.5,420.3 403.1,420.2 404.6,420.2 406.2,419.8 407.7,419.9 409.2,420.8 410.8,420.1 412.3,420.4 413.8,420.7 415.4,420.5 416.9,419.7 418.5,420.6 420,420 421.5,420.4 423,420.6 424.5,420.2 426,420.2 427.5,420.2 429,419.4 430.5,419.9 432,419.4 433.5,420 435,419 436.5,419.5 438,419.2 439.5,419.8 441,419.1 442.5,419.7 444,419.7 445.5,419.7 447,418.6 448.5,419.7 450,419 451.5,419.3 453,419.1 454.6,419 456.1,418.1 457.6,419.2 459.1,418.7 460.6,418.5 462.1,418.2 463.7,418.8 465.2,418.7 466.7,418.8 468.2,417.8 469.7,417.9 471.2,417.7 472.8,417.4 474.3,417.7 475.8,417.2 477.3,418.2 478.8,417.3 480.3,417 481.9,416.9 483.4,417.8 484.9,417 486.4,417.3 487.9,417.1 489.4,417.6 491,417.8 492.5,416.8 494,417 495,417 495,410.2" fill="rgb(160,0,100)"/>
<polygon points="299.5,410.2 299.5,410.2 300,416.5 301.5,416.6 303.1,417 304.6,416.3 306.2,416.9 307.7,416.6 309.2,416 310.8,416.8 312.3,416.3 313.8,415.6 315.4,416.2 316.9,416.5 318.5,416.1 320,416 321.5,416.1 323.1,416 324.6,416.8 326.2,416.5 327.7,416 329.2,416.3 330.8,416.3 332.3,417.3 333.8,417 335.4,416.2 336.9,417.4 338.5,416.3 340,417 341.5,417.1 343.1,416.8 344.6,417.2 346.2,416.7 347.7,416.2 349.2,416.8 350.8,417.2 352.3,417.1 353.8,416.5 355.4,416.2 356.9,416.9 358.5,417 360,416.5 361.5,416.1 363.1,417 364.6,417.1 366.2,416.3 367.7,416.1 369.2,416.6 370.8,416.8 372.3,415.8 373.8,415.9 375.4,415.9 376.9,416.4 378.5,415.6 380,416 381.5,416.1 383.1,416.1 384.6,416.4 386.2,415.7 387.7,416.8 389.2,416.9 390.8,416.4 392.3,416.7 393.8,415.9 395.4,417 396.9,416.5 398.5,416.8 400,416.5 401.5,417.1 403.1,416.4 404.6,417.2 406.2,416.2 407.7,416 409.2,416.7 410.8,417.3 412.3,417.4 413.8,417.5 415.4,416.9 416.9,417.5 418.5,417 420,417 421.5,416.5 423,417.1 424.5,417.3 426,416.8 427.5,417 429,416.5 430.5,416.5 432,416.7 433.5,416.8 435,416.7 436.5,416.2 438,416 439.5,416.5 441,417 442.5,417 444,416.2 445.5,416.2 447,416.6 448.5,416.1 450,416.5 451.5,416.6 453,417 454.6,416 456.1,416.5 457.6,416.6 459.1,416.6 460.6,416.6 462.1,416.5 463.7,415.9 465.2,416.6 466.7,416.7 468.2,415.5 469.7,416.7 471.2,415.9 472.8,415.4 474.3,415.3 475.8,416.3 477.3,416.1 478.8,415.3 480.3,415.8 481.9,416 483.4,416.4 484.9,415.5 486.4,416 487.9,415.3 489.4,415.2 491,415.1 492.5,415.4 494,415.5 495,415.5 495,410.2" fill="rgb(180,0,78)"/>
<polygon points="299.5,410.2 380,410.2 380,411.2 381.7,412 383.3,412.1 385,413 386.5,412.6 388,412.7 389.5,412.6 391,412.8 392.5,413 394,413.3 395.5,412.9 397,413.4 398.5,413.4 400,413.5 401.5,414.1 403.1,413.3 404.6,413.9 406.2,413.2 407.7,412.7 409.2,413.2 410.8,412.5 412.3,412.4 413.8,412.2 415.4,413 416.9,413.3 418.5,412.4 420,412.5 421.5,412.3 423.1,412.5 424.6,412.4 426.2,412.9 427.7,412.5 429.2,412.2 430.8,413.3 432.3,412.9 433.8,412.2 435.4,413.4 436.9,413.2 438.5,412.8 440,413 441.5,413.1 443.1,413.5 444.6,412.7 446.2,412.8 447.7,412.5 449.2,412.8 450.8,413 452.3,413 453.8,413.3 455.4,412.1 456.9,412.4 458.5,413 460,412.5 461.5,412.9 463.1,412.7 464.6,412.8 466.2,412.4 467.7,413.2 469.3,412.7 470.8,412.5 472.4,412.2 473.9,412.2 475.5,413.3 477,413.2 478.5,412.1 480.1,412.5 481.6,412.8 483.2,412.8 484.7,412.7 486.3,413.4 487.8,412.7 489.4,413 490.9,413.6 492.5,413.2 494,413 495,413 495,410.2" fill="rgb(200,0,58)"/>
</g>
<polygon points="300.5,486.1 300.5,470.8 302.1,470.7 303.7,470.6 305.2,470.6 306.8,470.7 308.4,470.7 310,470.5 311.7,470.4 313.3,470.5 315,470.6 316.7,470.6 318.3,471 320,470.8 321.7,470.7 323.3,470.5 325,470.4 326.7,470.7 328.3,470.2 330,470.3 331.7,470.3 333.3,469.8 335,469.8 336.7,469.6 338.3,469.9 340,469.6 341.6,469.2 343.2,469.1 344.8,468.8 346.4,468.8 348,468.9 349.6,468.7 351.2,468.7 352.8,468.5 354.4,468.1 356.2,467.8 358,467.7 359.8,466.8 361.6,466.7 363.3,466.2 364.9,465.2 366.6,464.5 368.4,465.1 370.2,466 371.1,467.6 372.1,469.1 373,470.3 374.4,469.6 375.9,468.8 377.3,468.7 378.8,468 380.2,467.3 381.7,466.9 383.1,466 384.5,464.9 386,464 387.4,463.2 388.9,462.3 390.3,461.7 391.5,460.6 392.7,459.4 393.9,457.9 395.1,456.7 396.3,455.5 397.5,454.5 398.6,453.1 399.6,451.7 400.7,450.4 401.8,448.7 403.2,447.5 404.6,446.8 406.1,445.4 407.5,444.4 409,443.7 410.5,443 412,442.4 413.5,442.2 415,441.6 416.5,440.8 418,440 419.6,439.5 421.1,439.2 422.7,438.9 424.2,438.7 425.8,438.6 427.3,437.9 428.9,437.8 430.4,437.6 432,437.2 433.6,436.7 435.1,436.7 436.7,436.7 438.2,436.3 439.8,436 441.3,436 442.9,435.6 444.4,435.2 446,435.1 447.6,434.8 449.1,434.9 450.7,434.6 452.2,434.4 453.8,434 455.3,433.5 456.9,433.3 458.4,433.2 460,433 461.6,432.9 463.1,432.2 464.7,432.5 466.2,432.2 467.8,431.8 469.3,431.3 470.9,431.5 472.4,431.1 474,430.9 475.6,430.5 477.3,430 478.9,429.6 480.5,429 482.2,428.8 483.8,428.1 485.3,428 486.7,427.5 488.2,426.9 489.6,426.3 491.1,426 492.5,425.5 494,425.2 494,486.1" fill="#000"/>
<path d="M300.8 467.5C301.1 466.7 302.5 467.4 303 467.8C303.5 468.2 304 469.2 304 470C304 470.8 303.7 472 303.2 472.5C302.7 473 301.4 473.6 301 472.8C300.6 472 300.5 468.3 300.8 467.5Z" fill="#fff"/>
<clipPath id="cR5"><polygon points="299.2,539.6 494,539.6 494,551.8 492.4,552 490.8,552.3 489.1,552.6 487.5,552.3 485.9,552.7 484.2,552 482.6,552.9 481,552.5 479.4,552.3 477.7,553.1 476.1,552.8 474.5,553.5 472.8,552.7 471.2,553.2 469.6,553.6 468,554.4 466.4,554.6 464.8,555.1 463.2,556.6 461.6,556.4 460,557.4 458.4,557.3 456.9,558.4 455.3,557.9 453.8,558.6 452.2,558.8 450.7,558.8 449.1,559 447.6,558.7 446,559.5 444.4,560.2 442.9,560.4 441.3,559.8 439.7,560.5 438.1,560.3 436.5,561.5 435,561 433.4,561.6 432,562.9 430.6,564.4 428.7,563.9 426.9,562.6 425,562.4 423.2,562.9 421.5,562.8 419.8,563.6 418,563.2 416.4,563 414.9,564.1 413.4,563.8 411.8,564.6 410.1,565.3 408.4,564.9 406.7,565.7 405,566.1 402.3,567.2 400.6,568.3 399,568.3 397.3,569 395.9,570 394.5,570 393,570.9 391.6,571.1 390.4,572.6 389.2,573.4 388,574.4 386.8,575.5 385.6,577.4 384.4,578 383.1,579.6 381.9,580.7 380.6,581.1 379.4,582.3 378,583 376.5,584.5 375.1,585 373.6,586.6 372.2,587.3 370.8,588.2 369.3,588.5 367.9,590.1 366.4,591 365,591.6 363.3,591.8 361.7,592.8 360,593 358.1,593.4 356.3,594.4 354.4,594.5 352.8,594.1 351.2,594.5 349.6,594.4 348,595.3 346.4,594.6 344.8,595.7 343.2,595.2 341.6,595.5 340,595.5 338.2,596.3 336.4,596.3 334.5,596.9 332.7,596.9 331.1,596.7 329.6,597.7 328,598.1 326.4,597.3 324.8,598.6 323.2,598 321.7,598.5 320.1,599.2 318.5,598.6 316.9,599.4 315.4,599.2 313.8,599.7 312.2,600 310.6,599.5 308.9,599.9 307.3,600.3 305.7,600.1 304.1,600 302.4,600.1 300.8,600.2 299.2,599.7"/></clipPath>
<g clip-path="url(#cR5)">
<polygon points="299.2,539.6 494,539.6 494,551.8 492.4,552 490.8,552.3 489.1,552.6 487.5,552.3 485.9,552.7 484.2,552 482.6,552.9 481,552.5 479.4,552.3 477.7,553.1 476.1,552.8 474.5,553.5 472.8,552.7 471.2,553.2 469.6,553.6 468,554.4 466.4,554.6 464.8,555.1 463.2,556.6 461.6,556.4 460,557.4 458.4,557.3 456.9,558.4 455.3,557.9 453.8,558.6 452.2,558.8 450.7,558.8 449.1,559 447.6,558.7 446,559.5 444.4,560.2 442.9,560.4 441.3,559.8 439.7,560.5 438.1,560.3 436.5,561.5 435,561 433.4,561.6 432,562.9 430.6,564.4 428.7,563.9 426.9,562.6 425,562.4 423.2,562.9 421.5,562.8 419.8,563.6 418,563.2 416.4,563 414.9,564.1 413.4,563.8 411.8,564.6 410.1,565.3 408.4,564.9 406.7,565.7 405,566.1 402.3,567.2 400.6,568.3 399,568.3 397.3,569 395.9,570 394.5,570 393,570.9 391.6,571.1 390.4,572.6 389.2,573.4 388,574.4 386.8,575.5 385.6,577.4 384.4,578 383.1,579.6 381.9,580.7 380.6,581.1 379.4,582.3 378,583 376.5,584.5 375.1,585 373.6,586.6 372.2,587.3 370.8,588.2 369.3,588.5 367.9,590.1 366.4,591 365,591.6 363.3,591.8 361.7,592.8 360,593 358.1,593.4 356.3,594.4 354.4,594.5 352.8,594.1 351.2,594.5 349.6,594.4 348,595.3 346.4,594.6 344.8,595.7 343.2,595.2 341.6,595.5 340,595.5 338.2,596.3 336.4,596.3 334.5,596.9 332.7,596.9 331.1,596.7 329.6,597.7 328,598.1 326.4,597.3 324.8,598.6 323.2,598 321.7,598.5 320.1,599.2 318.5,598.6 316.9,599.4 315.4,599.2 313.8,599.7 312.2,600 310.6,599.5 308.9,599.9 307.3,600.3 305.7,600.1 304.1,600 302.4,600.1 300.8,600.2 299.2,599.7" fill="rgb(0,0,255)"/>
<polygon points="298.2,538.6 298.2,538.6 299,559 300.5,559.1 302,559.6 303.5,559 305,558.6 306.5,559.8 308,559.6 309.5,559.5 311,559.6 312.5,558.9 314,559.3 315.5,559.8 317,560.1 318.5,560.1 320,559.5 321.5,559 323.1,559.7 324.6,559.5 326.2,559.2 327.7,558.8 329.2,558.8 330.8,559.2 332.3,559.2 333.8,558.8 335.4,558.9 336.9,559.2 338.5,559.4 340,559 341.5,559.2 343.1,558.6 344.6,559.7 346.2,559 347.7,559.8 349.2,559.9 350.8,558.8 352.3,559.4 353.8,560 355.4,559.2 356.9,559.5 358.5,559.2 360,559.5 361.7,558.7 363.3,558.8 365,558.5 366.7,558.5 368.3,558.8 370,558.5 371.7,558.4 373.3,558.8 375,558.3 376.7,557.6 378.3,558.3 380,557.5 381.5,557.6 383,557.5 384.5,557.9 386,557.5 387.5,557.1 389,557.3 390.5,556.9 392,557.8 393.5,556.7 395,557 396.7,557.8 398.3,556.7 400,556.8 401.7,557.7 403.3,557.4 405,558 406.6,558.3 408.2,558 409.9,559.2 411.5,559.2 413.1,559.5 414.8,560.1 416.4,560.4 418,560 419.4,560.8 420.8,561.5 422.2,561.1 423.6,561.8 425,563 426.5,562.9 428,563.7 429.5,562.7 431,563.1 432.5,562.3 434,562.9 435.5,563.6 437,563.1 438.5,563.5 440,563 441.5,562.1 443.1,562.2 444.6,562 446.2,562.7 447.7,561.5 449.3,562.5 450.8,561.4 452.4,562.1 453.9,561.4 455.5,560.9 457,561 458.5,561.4 460.1,560.5 461.6,560.7 463.2,559.6 464.7,560.4 466.2,560.4 467.8,559 469.3,559.7 470.9,558.8 472.4,558.4 474,558.5 475.5,558.7 477,558.9 478.6,558.8 480.1,558.6 481.7,557.8 483.2,557.7 484.8,556.8 486.3,557.4 487.8,556.9 489.4,556.4 490.9,557 492.5,555.9 494,556 495,556 495,538.6" fill="rgb(50,0,210)"/>
<polygon points="298.2,538.6 298.2,538.6 299,557.5 300.5,557 302,557.1 303.5,557.1 305,557.8 306.5,558.1 308,557.2 309.5,557.8 311,557.9 312.5,557.9 314,557.7 315.5,558 317,557.2 318.5,557.3 320,558 321.5,557.9 323.1,557.6 324.6,558.2 326.2,557.5 327.7,558.3 329.2,557.4 330.8,557.2 332.3,557.7 333.8,557.5 335.4,557.4 336.9,557.9 338.5,557.1 340,557.5 341.5,557.8 343.1,558 344.6,557.5 346.2,557.7 347.7,558.3 349.2,557.9 350.8,557.3 352.3,557.2 353.8,557.3 355.4,557.6 356.9,557.3 358.5,558.2 360,558 361.7,557.6 363.3,557.1 365,557 366.7,557.3 368.3,556 370,556 371.7,555.2 373.3,555.1 375,554.8 376.7,555.2 378.3,554.6 380,554 381.5,553.9 383,553.4 384.5,553.2 386,553.3 387.5,554.2 389,553.9 390.5,553.2 392,553.8 393.5,552.9 395,553.5 396.7,553.8 398.3,553.8 400,553.7 401.7,554.8 403.3,555.1 405,555 406.6,555.4 408.2,555.3 409.9,556.4 411.5,556.4 413.1,557.1 414.8,556.7 416.4,558.2 418,558 419.8,557.8 421.5,558.6 423.2,559.4 425,560 426.5,559.6 428,559.5 429.5,560.4 431,560.9 432.5,560 434,560 435.5,560.6 437,560 438.5,560.3 440,560.5 441.5,560.7 443.1,560.2 444.6,559.7 446.2,559.5 447.7,560.1 449.3,560.6 450.8,560.5 452.4,559.2 453.9,559.7 455.5,559.6 457,559.5 458.6,558.8 460.2,559.1 461.9,558.6 463.5,558.7 465.1,557.6 466.8,558.2 468.4,557.8 470,557 471.5,556.9 473,556.4 474.5,556.8 476,556.2 477.5,556.9 479,556.9 480.5,556.7 482,557.2 483.5,555.8 485,556.7 486.5,556.7 488,555.7 489.5,555.9 491,555.5 492.5,556.2 494,556 495,556 495,538.6" fill="rgb(110,0,150)"/>
<polygon points="298.2,538.6 298.2,538.6 299,555.7 300.5,556.1 302,555.6 303.5,556.1 305,555.7 306.5,556.3 308,555.7 309.5,556.8 311,556.1 312.5,555.5 314,555.7 315.5,556.6 317,556.9 318.5,556.6 320,556.5 321.5,556 323.1,556.9 324.6,556.7 326.2,555.8 327.7,556.1 329.2,556.5 330.8,555.5 332.3,555.6 333.8,555.9 335.4,556.6 336.9,556.8 338.5,555.8 340,556 341.5,556.6 343,556.4 344.5,556.5 346,556.1 347.5,556.7 349,556.2 350.5,556.6 352,556.1 353.5,555.6 355,556 356.7,555.7 358.3,555.3 360,554.8 361.7,554.5 363.3,554.3 365,554 366.7,553.8 368.3,552.9 370,552.7 371.7,552.7 373.3,552.3 375,552 376.7,551.7 378.3,551.9 380,551.1 381.7,551.4 383.3,550.9 385,551 386.7,551.4 388.3,551.4 390,551.5 391.7,551.2 393.3,550.9 395,551.3 396.7,552.1 398.3,551.7 400,551.7 401.7,551.8 403.3,552.2 405,552.5 406.8,553.2 408.5,553.7 410.2,553.6 412,554 413.5,554.6 415,554.1 416.5,554.7 418,555 419.6,554.8 421.1,554.8 422.7,554.9 424.3,555.5 425.9,555.5 427.4,554.8 429,554.9 430.6,555.7 432.1,555.5 433.7,555.6 435.3,555.6 436.9,555.7 438.4,555.1 440,555.5 441.5,554.8 443,555.2 444.5,554.7 446,555.9 447.5,555.3 449,555.4 450.5,555.8 452,555.5 453.5,554.7 455,555 456.7,554.4 458.3,553.8 460,554 461.7,554.2 463.3,554 465,553.5 466.7,553.2 468.3,552.8 470,553 471.5,553 473,553.3 474.5,553.6 476,553.5 477.5,553.5 479,552.9 480.5,552.9 482,552.7 483.5,553.7 485,552.6 486.5,552.5 488,552.7 489.5,553.6 491,553.5 492.5,552.8 494,553 495,553 495,538.6" fill="rgb(255,0,0)"/>
</g>
<polygon points="299.2,615.2 299.2,603.5 300.8,603.6 302.4,603.5 304.1,603.2 305.7,602.9 307.3,603.2 308.9,602.8 310.6,602.6 312.2,602.9 313.8,602.6 315.4,602.5 316.9,602.3 318.5,602.3 320.1,602 321.7,601.8 323.2,601.9 324.8,601.8 326.4,601.4 328,601.5 329.6,601.7 331.1,601.3 332.7,601.3 334.5,601.2 336.4,601 338.2,600.5 340,600.5 341.6,600.1 343.2,600.4 344.8,600.3 346.4,600 348,599.8 349.6,600.1 351.2,600 352.8,599.5 354.4,599.6 356.3,599.1 358.1,598.6 360,598 361.7,597.4 363.3,596.8 365,596.6 366.4,595.6 367.9,595 369.3,594.1 370.8,593.2 372.2,592.3 373.4,591.1 374.6,590.2 375.8,589.3 377,588.4 378.2,587.5 379.4,586.6 380.5,585.8 381.5,584.2 382.6,583.7 383.7,582.3 384.6,580.9 385.6,580.1 386.5,578.7 387.7,577.3 388.9,576.4 390.1,575.1 391.9,574.1 393.7,573.3 395.5,572.5 397.3,572.2 399.1,571.7 400.9,570.8 402.9,570.1 405,569 406.7,568.5 408.4,568.4 410.1,567.9 411.8,567.5 413.4,567.4 414.9,566.5 416.4,566.3 418,566 419.8,565.7 421.5,565.7 423.2,565.6 425,565.3 426.4,566.2 427.8,566.6 429.2,567.2 430.6,567.9 432,566.3 433.4,564.4 435,563.9 436.5,563.7 438.1,563.8 439.7,563.3 441.3,563.4 442.9,562.6 444.4,562.5 446,562.3 447.6,561.9 449.1,561.5 450.7,561.4 452.2,561.1 453.8,561.1 455.3,560.9 456.9,560.7 458.4,560.3 460,560.2 461.6,559.7 463.2,559 464.8,558.7 466.4,557.6 468,557.2 469.6,556.6 471.2,556 472.8,555.7 474.5,555.8 476.1,555.1 477.7,555.3 479.4,554.7 481,554.6 482.6,554.4 484.2,554.5 485.9,554.4 487.5,554.1 489.1,553.9 490.8,554.3 492.4,553.9 494,553.9 494,615.2" fill="#000"/>
<path d="M23.5 97.5V20.4H219.2V97.5" fill="none" stroke="#9a9a9a" stroke-width="0.8"/>
<path d="M23.5 20.4V16.8M23.5 97.5V101.1M41.3 20.4V16.8M41.3 97.5V101.1M59.1 20.4V16.8M59.1 97.5V101.1M76.9 20.4V16.8M76.9 97.5V101.1M94.7 20.4V16.8M94.7 97.5V101.1M112.5 20.4V16.8M112.5 97.5V101.1M130.2 20.4V16.8M130.2 97.5V101.1M148 20.4V16.8M148 97.5V101.1M165.8 20.4V16.8M165.8 97.5V101.1M183.6 20.4V16.8M183.6 97.5V101.1M201.4 20.4V16.8M201.4 97.5V101.1M219.2 20.4V16.8M219.2 97.5V101.1M23.5 20.4H19.9M219.2 20.4H222.8M23.5 35.8H19.9M219.2 35.8H222.8M23.5 51.2H19.9M219.2 51.2H222.8M23.5 66.7H19.9M219.2 66.7H222.8M23.5 82.1H19.9M219.2 82.1H222.8M23.5 97.5H19.9M219.2 97.5H222.8" stroke="#9a9a9a" stroke-width="0.8" fill="none"/>
<path d="M27.1 97.5V99.3M30.6 97.5V99.3M34.2 97.5V99.3M37.7 97.5V99.3M44.8 97.5V99.3M48.4 97.5V99.3M52 97.5V99.3M55.5 97.5V99.3M62.6 97.5V99.3M66.2 97.5V99.3M69.8 97.5V99.3M73.3 97.5V99.3M80.4 97.5V99.3M84 97.5V99.3M87.5 97.5V99.3M91.1 97.5V99.3M98.2 97.5V99.3M101.8 97.5V99.3M105.3 97.5V99.3M108.9 97.5V99.3M116 97.5V99.3M119.6 97.5V99.3M123.1 97.5V99.3M126.7 97.5V99.3M133.8 97.5V99.3M137.4 97.5V99.3M140.9 97.5V99.3M144.5 97.5V99.3M151.6 97.5V99.3M155.2 97.5V99.3M158.7 97.5V99.3M162.3 97.5V99.3M169.4 97.5V99.3M172.9 97.5V99.3M176.5 97.5V99.3M180.1 97.5V99.3M187.2 97.5V99.3M190.7 97.5V99.3M194.3 97.5V99.3M197.9 97.5V99.3M205 97.5V99.3M208.5 97.5V99.3M212.1 97.5V99.3M215.6 97.5V99.3M23.5 23.5H21.7M23.5 26.6H21.7M23.5 29.7H21.7M23.5 32.7H21.7M23.5 38.9H21.7M23.5 42H21.7M23.5 45.1H21.7M23.5 48.2H21.7M23.5 54.3H21.7M23.5 57.4H21.7M23.5 60.5H21.7M23.5 63.6H21.7M23.5 69.7H21.7M23.5 72.8H21.7M23.5 75.9H21.7M23.5 79H21.7M23.5 85.2H21.7M23.5 88.2H21.7M23.5 91.3H21.7M23.5 94.4H21.7" stroke="#c8c8c8" stroke-width="0.8" fill="none"/>
<text transform="translate(18.9 23.4)" class="al" text-anchor="end">0</text>
<text transform="translate(18.9 38.8)" class="al" text-anchor="end">-20</text>
<text transform="translate(18.9 54.2)" class="al" text-anchor="end">-40</text>
<text transform="translate(18.9 69.7)" class="al" text-anchor="end">-60</text>
<text transform="translate(18.9 85.1)" class="al" text-anchor="end">-80</text>
<text transform="translate(18.9 100.5)" class="al" text-anchor="end">-100</text>
<text transform="translate(23.5 109.8)" class="al" text-anchor="middle">0</text>
<text transform="translate(41.3 109.8)" class="al" text-anchor="middle">10</text>
<text transform="translate(59.1 109.8)" class="al" text-anchor="middle">20</text>
<text transform="translate(76.9 109.8)" class="al" text-anchor="middle">30</text>
<text transform="translate(94.7 109.8)" class="al" text-anchor="middle">40</text>
<text transform="translate(112.5 109.8)" class="al" text-anchor="middle">50</text>
<text transform="translate(130.2 109.8)" class="al" text-anchor="middle">60</text>
<text transform="translate(148 109.8)" class="al" text-anchor="middle">70</text>
<text transform="translate(165.8 109.8)" class="al" text-anchor="middle">80</text>
<text transform="translate(183.6 109.8)" class="al" text-anchor="middle">90</text>
<text transform="translate(201.4 109.8)" class="al" text-anchor="middle">100</text>
<text transform="translate(219.2 109.8)" class="al" text-anchor="middle">110</text>
<text transform="translate(121.3 9.8) scale(1 0.97)" class="ti" text-anchor="middle">June 1999</text>
<path d="M23.5 226.6V148.9H218.9V226.6" fill="none" stroke="#9a9a9a" stroke-width="0.8"/>
<path d="M23.5 148.9V145.3M23.5 226.6V230.2M41.3 148.9V145.3M41.3 226.6V230.2M59 148.9V145.3M59 226.6V230.2M76.8 148.9V145.3M76.8 226.6V230.2M94.6 148.9V145.3M94.6 226.6V230.2M112.3 148.9V145.3M112.3 226.6V230.2M130.1 148.9V145.3M130.1 226.6V230.2M147.8 148.9V145.3M147.8 226.6V230.2M165.6 148.9V145.3M165.6 226.6V230.2M183.4 148.9V145.3M183.4 226.6V230.2M201.1 148.9V145.3M201.1 226.6V230.2M218.9 148.9V145.3M218.9 226.6V230.2M23.5 148.9H19.9M218.9 148.9H222.5M23.5 164.4H19.9M218.9 164.4H222.5M23.5 180H19.9M218.9 180H222.5M23.5 195.5H19.9M218.9 195.5H222.5M23.5 211.1H19.9M218.9 211.1H222.5M23.5 226.6H19.9M218.9 226.6H222.5" stroke="#9a9a9a" stroke-width="0.8" fill="none"/>
<path d="M27.1 226.6V228.4M30.6 226.6V228.4M34.2 226.6V228.4M37.7 226.6V228.4M44.8 226.6V228.4M48.4 226.6V228.4M51.9 226.6V228.4M55.5 226.6V228.4M62.6 226.6V228.4M66.1 226.6V228.4M69.7 226.6V228.4M73.2 226.6V228.4M80.3 226.6V228.4M83.9 226.6V228.4M87.4 226.6V228.4M91 226.6V228.4M98.1 226.6V228.4M101.7 226.6V228.4M105.2 226.6V228.4M108.8 226.6V228.4M115.9 226.6V228.4M119.4 226.6V228.4M123 226.6V228.4M126.5 226.6V228.4M133.6 226.6V228.4M137.2 226.6V228.4M140.7 226.6V228.4M144.3 226.6V228.4M151.4 226.6V228.4M155 226.6V228.4M158.5 226.6V228.4M162.1 226.6V228.4M169.2 226.6V228.4M172.7 226.6V228.4M176.3 226.6V228.4M179.8 226.6V228.4M186.9 226.6V228.4M190.5 226.6V228.4M194 226.6V228.4M197.6 226.6V228.4M204.7 226.6V228.4M208.2 226.6V228.4M211.8 226.6V228.4M215.3 226.6V228.4M23.5 152H21.7M23.5 155.1H21.7M23.5 158.2H21.7M23.5 161.3H21.7M23.5 167.5H21.7M23.5 170.7H21.7M23.5 173.8H21.7M23.5 176.9H21.7M23.5 183.1H21.7M23.5 186.2H21.7M23.5 189.3H21.7M23.5 192.4H21.7M23.5 198.6H21.7M23.5 201.7H21.7M23.5 204.8H21.7M23.5 208H21.7M23.5 214.2H21.7M23.5 217.3H21.7M23.5 220.4H21.7M23.5 223.5H21.7" stroke="#c8c8c8" stroke-width="0.8" fill="none"/>
<text transform="translate(18.9 151.9)" class="al" text-anchor="end">0</text>
<text transform="translate(18.9 167.4)" class="al" text-anchor="end">-20</text>
<text transform="translate(18.9 183)" class="al" text-anchor="end">-40</text>
<text transform="translate(18.9 198.5)" class="al" text-anchor="end">-60</text>
<text transform="translate(18.9 214.1)" class="al" text-anchor="end">-80</text>
<text transform="translate(18.9 229.6)" class="al" text-anchor="end">-100</text>
<text transform="translate(23.5 238.9)" class="al" text-anchor="middle">0</text>
<text transform="translate(41.3 238.9)" class="al" text-anchor="middle">10</text>
<text transform="translate(59 238.9)" class="al" text-anchor="middle">20</text>
<text transform="translate(76.8 238.9)" class="al" text-anchor="middle">30</text>
<text transform="translate(94.6 238.9)" class="al" text-anchor="middle">40</text>
<text transform="translate(112.3 238.9)" class="al" text-anchor="middle">50</text>
<text transform="translate(130.1 238.9)" class="al" text-anchor="middle">60</text>
<text transform="translate(147.8 238.9)" class="al" text-anchor="middle">70</text>
<text transform="translate(165.6 238.9)" class="al" text-anchor="middle">80</text>
<text transform="translate(183.4 238.9)" class="al" text-anchor="middle">90</text>
<text transform="translate(201.1 238.9)" class="al" text-anchor="middle">100</text>
<text transform="translate(218.9 238.9)" class="al" text-anchor="middle">110</text>
<text transform="translate(121.2 138.3) scale(1 0.97)" class="ti" text-anchor="middle">July 2000</text>
<path d="M24.5 356.4V277.4H218.8V356.4" fill="none" stroke="#9a9a9a" stroke-width="0.8"/>
<path d="M24.5 277.4V273.8M24.5 356.4V360M42.2 277.4V273.8M42.2 356.4V360M59.8 277.4V273.8M59.8 356.4V360M77.5 277.4V273.8M77.5 356.4V360M95.2 277.4V273.8M95.2 356.4V360M112.8 277.4V273.8M112.8 356.4V360M130.5 277.4V273.8M130.5 356.4V360M148.1 277.4V273.8M148.1 356.4V360M165.8 277.4V273.8M165.8 356.4V360M183.5 277.4V273.8M183.5 356.4V360M201.1 277.4V273.8M201.1 356.4V360M218.8 277.4V273.8M218.8 356.4V360M24.5 277.4H20.9M218.8 277.4H222.4M24.5 293.2H20.9M218.8 293.2H222.4M24.5 309H20.9M218.8 309H222.4M24.5 324.8H20.9M218.8 324.8H222.4M24.5 340.6H20.9M218.8 340.6H222.4M24.5 356.4H20.9M218.8 356.4H222.4" stroke="#9a9a9a" stroke-width="0.8" fill="none"/>
<path d="M28 356.4V358.2M31.6 356.4V358.2M35.1 356.4V358.2M38.6 356.4V358.2M45.7 356.4V358.2M49.2 356.4V358.2M52.8 356.4V358.2M56.3 356.4V358.2M63.4 356.4V358.2M66.9 356.4V358.2M70.4 356.4V358.2M74 356.4V358.2M81 356.4V358.2M84.6 356.4V358.2M88.1 356.4V358.2M91.6 356.4V358.2M98.7 356.4V358.2M102.2 356.4V358.2M105.8 356.4V358.2M109.3 356.4V358.2M116.4 356.4V358.2M119.9 356.4V358.2M123.4 356.4V358.2M126.9 356.4V358.2M134 356.4V358.2M137.5 356.4V358.2M141.1 356.4V358.2M144.6 356.4V358.2M151.7 356.4V358.2M155.2 356.4V358.2M158.7 356.4V358.2M162.3 356.4V358.2M169.3 356.4V358.2M172.9 356.4V358.2M176.4 356.4V358.2M179.9 356.4V358.2M187 356.4V358.2M190.5 356.4V358.2M194.1 356.4V358.2M197.6 356.4V358.2M204.7 356.4V358.2M208.2 356.4V358.2M211.7 356.4V358.2M215.3 356.4V358.2M24.5 280.6H22.7M24.5 283.7H22.7M24.5 286.9H22.7M24.5 290H22.7M24.5 296.4H22.7M24.5 299.5H22.7M24.5 302.7H22.7M24.5 305.8H22.7M24.5 312.2H22.7M24.5 315.3H22.7M24.5 318.5H22.7M24.5 321.6H22.7M24.5 328H22.7M24.5 331.1H22.7M24.5 334.3H22.7M24.5 337.4H22.7M24.5 343.8H22.7M24.5 346.9H22.7M24.5 350.1H22.7M24.5 353.2H22.7" stroke="#c8c8c8" stroke-width="0.8" fill="none"/>
<text transform="translate(19.9 280.4)" class="al" text-anchor="end">0</text>
<text transform="translate(19.9 296.2)" class="al" text-anchor="end">-20</text>
<text transform="translate(19.9 312)" class="al" text-anchor="end">-40</text>
<text transform="translate(19.9 327.8)" class="al" text-anchor="end">-60</text>
<text transform="translate(19.9 343.6)" class="al" text-anchor="end">-80</text>
<text transform="translate(19.9 359.4)" class="al" text-anchor="end">-100</text>
<text transform="translate(24.5 368.7)" class="al" text-anchor="middle">0</text>
<text transform="translate(42.2 368.7)" class="al" text-anchor="middle">10</text>
<text transform="translate(59.8 368.7)" class="al" text-anchor="middle">20</text>
<text transform="translate(77.5 368.7)" class="al" text-anchor="middle">30</text>
<text transform="translate(95.2 368.7)" class="al" text-anchor="middle">40</text>
<text transform="translate(112.8 368.7)" class="al" text-anchor="middle">50</text>
<text transform="translate(130.5 368.7)" class="al" text-anchor="middle">60</text>
<text transform="translate(148.1 368.7)" class="al" text-anchor="middle">70</text>
<text transform="translate(165.8 368.7)" class="al" text-anchor="middle">80</text>
<text transform="translate(183.5 368.7)" class="al" text-anchor="middle">90</text>
<text transform="translate(201.1 368.7)" class="al" text-anchor="middle">100</text>
<text transform="translate(218.8 368.7)" class="al" text-anchor="middle">110</text>
<text transform="translate(121.7 266.8) scale(1 0.97)" class="ti" text-anchor="middle">August 2000</text>
<path d="M24.6 485.8V407.4H218.6V485.8" fill="none" stroke="#9a9a9a" stroke-width="0.8"/>
<path d="M24.6 407.4V403.8M24.6 485.8V489.4M42.2 407.4V403.8M42.2 485.8V489.4M59.9 407.4V403.8M59.9 485.8V489.4M77.5 407.4V403.8M77.5 485.8V489.4M95.1 407.4V403.8M95.1 485.8V489.4M112.8 407.4V403.8M112.8 485.8V489.4M130.4 407.4V403.8M130.4 485.8V489.4M148.1 407.4V403.8M148.1 485.8V489.4M165.7 407.4V403.8M165.7 485.8V489.4M183.3 407.4V403.8M183.3 485.8V489.4M201 407.4V403.8M201 485.8V489.4M218.6 407.4V403.8M218.6 485.8V489.4M24.6 407.4H21M218.6 407.4H222.2M24.6 423.1H21M218.6 423.1H222.2M24.6 438.8H21M218.6 438.8H222.2M24.6 454.4H21M218.6 454.4H222.2M24.6 470.1H21M218.6 470.1H222.2M24.6 485.8H21M218.6 485.8H222.2" stroke="#9a9a9a" stroke-width="0.8" fill="none"/>
<path d="M28.1 485.8V487.6M31.7 485.8V487.6M35.2 485.8V487.6M38.7 485.8V487.6M45.8 485.8V487.6M49.3 485.8V487.6M52.8 485.8V487.6M56.3 485.8V487.6M63.4 485.8V487.6M66.9 485.8V487.6M70.5 485.8V487.6M74 485.8V487.6M81 485.8V487.6M84.6 485.8V487.6M88.1 485.8V487.6M91.6 485.8V487.6M98.7 485.8V487.6M102.2 485.8V487.6M105.7 485.8V487.6M109.3 485.8V487.6M116.3 485.8V487.6M119.8 485.8V487.6M123.4 485.8V487.6M126.9 485.8V487.6M133.9 485.8V487.6M137.5 485.8V487.6M141 485.8V487.6M144.5 485.8V487.6M151.6 485.8V487.6M155.1 485.8V487.6M158.6 485.8V487.6M162.2 485.8V487.6M169.2 485.8V487.6M172.7 485.8V487.6M176.3 485.8V487.6M179.8 485.8V487.6M186.9 485.8V487.6M190.4 485.8V487.6M193.9 485.8V487.6M197.4 485.8V487.6M204.5 485.8V487.6M208 485.8V487.6M211.5 485.8V487.6M215.1 485.8V487.6M24.6 410.5H22.8M24.6 413.7H22.8M24.6 416.8H22.8M24.6 419.9H22.8M24.6 426.2H22.8M24.6 429.4H22.8M24.6 432.5H22.8M24.6 435.6H22.8M24.6 441.9H22.8M24.6 445H22.8M24.6 448.2H22.8M24.6 451.3H22.8M24.6 457.6H22.8M24.6 460.7H22.8M24.6 463.8H22.8M24.6 467H22.8M24.6 473.3H22.8M24.6 476.4H22.8M24.6 479.5H22.8M24.6 482.7H22.8" stroke="#c8c8c8" stroke-width="0.8" fill="none"/>
<text transform="translate(20 410.4)" class="al" text-anchor="end">0</text>
<text transform="translate(20 426.1)" class="al" text-anchor="end">-20</text>
<text transform="translate(20 441.8)" class="al" text-anchor="end">-40</text>
<text transform="translate(20 457.4)" class="al" text-anchor="end">-60</text>
<text transform="translate(20 473.1)" class="al" text-anchor="end">-80</text>
<text transform="translate(20 488.8)" class="al" text-anchor="end">-100</text>
<text transform="translate(24.6 498.1)" class="al" text-anchor="middle">0</text>
<text transform="translate(42.2 498.1)" class="al" text-anchor="middle">10</text>
<text transform="translate(59.9 498.1)" class="al" text-anchor="middle">20</text>
<text transform="translate(77.5 498.1)" class="al" text-anchor="middle">30</text>
<text transform="translate(95.1 498.1)" class="al" text-anchor="middle">40</text>
<text transform="translate(112.8 498.1)" class="al" text-anchor="middle">50</text>
<text transform="translate(130.4 498.1)" class="al" text-anchor="middle">60</text>
<text transform="translate(148.1 498.1)" class="al" text-anchor="middle">70</text>
<text transform="translate(165.7 498.1)" class="al" text-anchor="middle">80</text>
<text transform="translate(183.3 498.1)" class="al" text-anchor="middle">90</text>
<text transform="translate(201 498.1)" class="al" text-anchor="middle">100</text>
<text transform="translate(218.6 498.1)" class="al" text-anchor="middle">110</text>
<text transform="translate(121.6 396.8) scale(1 0.97)" class="ti" text-anchor="middle">June 2001</text>
<path d="M23.7 615.5V536.3H218.6V615.5" fill="none" stroke="#9a9a9a" stroke-width="0.8"/>
<path d="M23.7 536.3V532.7M23.7 615.5V619.1M41.4 536.3V532.7M41.4 615.5V619.1M59.1 536.3V532.7M59.1 615.5V619.1M76.9 536.3V532.7M76.9 615.5V619.1M94.6 536.3V532.7M94.6 615.5V619.1M112.3 536.3V532.7M112.3 615.5V619.1M130 536.3V532.7M130 615.5V619.1M147.7 536.3V532.7M147.7 615.5V619.1M165.4 536.3V532.7M165.4 615.5V619.1M183.2 536.3V532.7M183.2 615.5V619.1M200.9 536.3V532.7M200.9 615.5V619.1M218.6 536.3V532.7M218.6 615.5V619.1M23.7 536.3H20.1M218.6 536.3H222.2M23.7 552.1H20.1M218.6 552.1H222.2M23.7 568H20.1M218.6 568H222.2M23.7 583.8H20.1M218.6 583.8H222.2M23.7 599.7H20.1M218.6 599.7H222.2M23.7 615.5H20.1M218.6 615.5H222.2" stroke="#9a9a9a" stroke-width="0.8" fill="none"/>
<path d="M27.2 615.5V617.3M30.8 615.5V617.3M34.3 615.5V617.3M37.9 615.5V617.3M45 615.5V617.3M48.5 615.5V617.3M52 615.5V617.3M55.6 615.5V617.3M62.7 615.5V617.3M66.2 615.5V617.3M69.8 615.5V617.3M73.3 615.5V617.3M80.4 615.5V617.3M83.9 615.5V617.3M87.5 615.5V617.3M91 615.5V617.3M98.1 615.5V617.3M101.7 615.5V617.3M105.2 615.5V617.3M108.7 615.5V617.3M115.8 615.5V617.3M119.4 615.5V617.3M122.9 615.5V617.3M126.5 615.5V617.3M133.6 615.5V617.3M137.1 615.5V617.3M140.6 615.5V617.3M144.2 615.5V617.3M151.3 615.5V617.3M154.8 615.5V617.3M158.4 615.5V617.3M161.9 615.5V617.3M169 615.5V617.3M172.5 615.5V617.3M176.1 615.5V617.3M179.6 615.5V617.3M186.7 615.5V617.3M190.3 615.5V617.3M193.8 615.5V617.3M197.3 615.5V617.3M204.4 615.5V617.3M208 615.5V617.3M211.5 615.5V617.3M215.1 615.5V617.3M23.7 539.5H21.9M23.7 542.6H21.9M23.7 545.8H21.9M23.7 549H21.9M23.7 555.3H21.9M23.7 558.5H21.9M23.7 561.6H21.9M23.7 564.8H21.9M23.7 571.1H21.9M23.7 574.3H21.9M23.7 577.5H21.9M23.7 580.7H21.9M23.7 587H21.9M23.7 590.2H21.9M23.7 593.3H21.9M23.7 596.5H21.9M23.7 602.8H21.9M23.7 606H21.9M23.7 609.2H21.9M23.7 612.3H21.9" stroke="#c8c8c8" stroke-width="0.8" fill="none"/>
<text transform="translate(19.1 539.3)" class="al" text-anchor="end">0</text>
<text transform="translate(19.1 555.1)" class="al" text-anchor="end">-20</text>
<text transform="translate(19.1 571)" class="al" text-anchor="end">-40</text>
<text transform="translate(19.1 586.8)" class="al" text-anchor="end">-60</text>
<text transform="translate(19.1 602.7)" class="al" text-anchor="end">-80</text>
<text transform="translate(19.1 618.5)" class="al" text-anchor="end">-100</text>
<text transform="translate(23.7 627.8)" class="al" text-anchor="middle">0</text>
<text transform="translate(41.4 627.8)" class="al" text-anchor="middle">10</text>
<text transform="translate(59.1 627.8)" class="al" text-anchor="middle">20</text>
<text transform="translate(76.9 627.8)" class="al" text-anchor="middle">30</text>
<text transform="translate(94.6 627.8)" class="al" text-anchor="middle">40</text>
<text transform="translate(112.3 627.8)" class="al" text-anchor="middle">50</text>
<text transform="translate(130 627.8)" class="al" text-anchor="middle">60</text>
<text transform="translate(147.7 627.8)" class="al" text-anchor="middle">70</text>
<text transform="translate(165.4 627.8)" class="al" text-anchor="middle">80</text>
<text transform="translate(183.2 627.8)" class="al" text-anchor="middle">90</text>
<text transform="translate(200.9 627.8)" class="al" text-anchor="middle">100</text>
<text transform="translate(218.6 627.8)" class="al" text-anchor="middle">110</text>
<text transform="translate(121.1 525.7) scale(1 0.97)" class="ti" text-anchor="middle">August 2001</text>
<path d="M299 97.6V18.3H494V97.6" fill="none" stroke="#9a9a9a" stroke-width="0.8"/>
<path d="M299 18.3V14.7M299 97.6V101.2M316.7 18.3V14.7M316.7 97.6V101.2M334.5 18.3V14.7M334.5 97.6V101.2M352.2 18.3V14.7M352.2 97.6V101.2M369.9 18.3V14.7M369.9 97.6V101.2M387.6 18.3V14.7M387.6 97.6V101.2M405.4 18.3V14.7M405.4 97.6V101.2M423.1 18.3V14.7M423.1 97.6V101.2M440.8 18.3V14.7M440.8 97.6V101.2M458.5 18.3V14.7M458.5 97.6V101.2M476.3 18.3V14.7M476.3 97.6V101.2M494 18.3V14.7M494 97.6V101.2M299 18.3H295.4M494 18.3H497.6M299 34.2H295.4M494 34.2H497.6M299 50H295.4M494 50H497.6M299 65.9H295.4M494 65.9H497.6M299 81.7H295.4M494 81.7H497.6M299 97.6H295.4M494 97.6H497.6" stroke="#9a9a9a" stroke-width="0.8" fill="none"/>
<path d="M302.5 97.6V99.4M306.1 97.6V99.4M309.6 97.6V99.4M313.2 97.6V99.4M320.3 97.6V99.4M323.8 97.6V99.4M327.4 97.6V99.4M330.9 97.6V99.4M338 97.6V99.4M341.5 97.6V99.4M345.1 97.6V99.4M348.6 97.6V99.4M355.7 97.6V99.4M359.3 97.6V99.4M362.8 97.6V99.4M366.4 97.6V99.4M373.5 97.6V99.4M377 97.6V99.4M380.5 97.6V99.4M384.1 97.6V99.4M391.2 97.6V99.4M394.7 97.6V99.4M398.3 97.6V99.4M401.8 97.6V99.4M408.9 97.6V99.4M412.5 97.6V99.4M416 97.6V99.4M419.5 97.6V99.4M426.6 97.6V99.4M430.2 97.6V99.4M433.7 97.6V99.4M437.3 97.6V99.4M444.4 97.6V99.4M447.9 97.6V99.4M451.5 97.6V99.4M455 97.6V99.4M462.1 97.6V99.4M465.6 97.6V99.4M469.2 97.6V99.4M472.7 97.6V99.4M479.8 97.6V99.4M483.4 97.6V99.4M486.9 97.6V99.4M490.5 97.6V99.4M299 21.5H297.2M299 24.6H297.2M299 27.8H297.2M299 31H297.2M299 37.3H297.2M299 40.5H297.2M299 43.7H297.2M299 46.8H297.2M299 53.2H297.2M299 56.4H297.2M299 59.5H297.2M299 62.7H297.2M299 69.1H297.2M299 72.2H297.2M299 75.4H297.2M299 78.6H297.2M299 84.9H297.2M299 88.1H297.2M299 91.3H297.2M299 94.4H297.2" stroke="#c8c8c8" stroke-width="0.8" fill="none"/>
<text transform="translate(294.4 21.3)" class="al" text-anchor="end">0</text>
<text transform="translate(294.4 37.2)" class="al" text-anchor="end">-20</text>
<text transform="translate(294.4 53)" class="al" text-anchor="end">-40</text>
<text transform="translate(294.4 68.9)" class="al" text-anchor="end">-60</text>
<text transform="translate(294.4 84.7)" class="al" text-anchor="end">-80</text>
<text transform="translate(294.4 100.6)" class="al" text-anchor="end">-100</text>
<text transform="translate(299 109.9)" class="al" text-anchor="middle">0</text>
<text transform="translate(316.7 109.9)" class="al" text-anchor="middle">10</text>
<text transform="translate(334.5 109.9)" class="al" text-anchor="middle">20</text>
<text transform="translate(352.2 109.9)" class="al" text-anchor="middle">30</text>
<text transform="translate(369.9 109.9)" class="al" text-anchor="middle">40</text>
<text transform="translate(387.6 109.9)" class="al" text-anchor="middle">50</text>
<text transform="translate(405.4 109.9)" class="al" text-anchor="middle">60</text>
<text transform="translate(423.1 109.9)" class="al" text-anchor="middle">70</text>
<text transform="translate(440.8 109.9)" class="al" text-anchor="middle">80</text>
<text transform="translate(458.5 109.9)" class="al" text-anchor="middle">90</text>
<text transform="translate(476.3 109.9)" class="al" text-anchor="middle">100</text>
<text transform="translate(494 109.9)" class="al" text-anchor="middle">110</text>
<text transform="translate(396.5 7.7) scale(1 0.97)" class="ti" text-anchor="middle">June 1999</text>
<path d="M299.2 227.6V148.1H494V227.6" fill="none" stroke="#9a9a9a" stroke-width="0.8"/>
<path d="M299.2 148.1V144.5M299.2 227.6V231.2M316.9 148.1V144.5M316.9 227.6V231.2M334.6 148.1V144.5M334.6 227.6V231.2M352.3 148.1V144.5M352.3 227.6V231.2M370 148.1V144.5M370 227.6V231.2M387.7 148.1V144.5M387.7 227.6V231.2M405.5 148.1V144.5M405.5 227.6V231.2M423.2 148.1V144.5M423.2 227.6V231.2M440.9 148.1V144.5M440.9 227.6V231.2M458.6 148.1V144.5M458.6 227.6V231.2M476.3 148.1V144.5M476.3 227.6V231.2M494 148.1V144.5M494 227.6V231.2M299.2 148.1H295.6M494 148.1H497.6M299.2 164H295.6M494 164H497.6M299.2 179.9H295.6M494 179.9H497.6M299.2 195.8H295.6M494 195.8H497.6M299.2 211.7H295.6M494 211.7H497.6M299.2 227.6H295.6M494 227.6H497.6" stroke="#9a9a9a" stroke-width="0.8" fill="none"/>
<path d="M302.7 227.6V229.4M306.3 227.6V229.4M309.8 227.6V229.4M313.4 227.6V229.4M320.5 227.6V229.4M324 227.6V229.4M327.5 227.6V229.4M331.1 227.6V229.4M338.2 227.6V229.4M341.7 227.6V229.4M345.2 227.6V229.4M348.8 227.6V229.4M355.9 227.6V229.4M359.4 227.6V229.4M363 227.6V229.4M366.5 227.6V229.4M373.6 227.6V229.4M377.1 227.6V229.4M380.7 227.6V229.4M384.2 227.6V229.4M391.3 227.6V229.4M394.8 227.6V229.4M398.4 227.6V229.4M401.9 227.6V229.4M409 227.6V229.4M412.5 227.6V229.4M416.1 227.6V229.4M419.6 227.6V229.4M426.7 227.6V229.4M430.2 227.6V229.4M433.8 227.6V229.4M437.3 227.6V229.4M444.4 227.6V229.4M448 227.6V229.4M451.5 227.6V229.4M455 227.6V229.4M462.1 227.6V229.4M465.7 227.6V229.4M469.2 227.6V229.4M472.7 227.6V229.4M479.8 227.6V229.4M483.4 227.6V229.4M486.9 227.6V229.4M490.5 227.6V229.4M299.2 151.3H297.4M299.2 154.5H297.4M299.2 157.6H297.4M299.2 160.8H297.4M299.2 167.2H297.4M299.2 170.4H297.4M299.2 173.5H297.4M299.2 176.7H297.4M299.2 183.1H297.4M299.2 186.3H297.4M299.2 189.4H297.4M299.2 192.6H297.4M299.2 199H297.4M299.2 202.2H297.4M299.2 205.3H297.4M299.2 208.5H297.4M299.2 214.9H297.4M299.2 218.1H297.4M299.2 221.2H297.4M299.2 224.4H297.4" stroke="#c8c8c8" stroke-width="0.8" fill="none"/>
<text transform="translate(294.6 151.1)" class="al" text-anchor="end">0</text>
<text transform="translate(294.6 167)" class="al" text-anchor="end">-20</text>
<text transform="translate(294.6 182.9)" class="al" text-anchor="end">-40</text>
<text transform="translate(294.6 198.8)" class="al" text-anchor="end">-60</text>
<text transform="translate(294.6 214.7)" class="al" text-anchor="end">-80</text>
<text transform="translate(294.6 230.6)" class="al" text-anchor="end">-100</text>
<text transform="translate(299.2 239.9)" class="al" text-anchor="middle">0</text>
<text transform="translate(316.9 239.9)" class="al" text-anchor="middle">10</text>
<text transform="translate(334.6 239.9)" class="al" text-anchor="middle">20</text>
<text transform="translate(352.3 239.9)" class="al" text-anchor="middle">30</text>
<text transform="translate(370 239.9)" class="al" text-anchor="middle">40</text>
<text transform="translate(387.7 239.9)" class="al" text-anchor="middle">50</text>
<text transform="translate(405.5 239.9)" class="al" text-anchor="middle">60</text>
<text transform="translate(423.2 239.9)" class="al" text-anchor="middle">70</text>
<text transform="translate(440.9 239.9)" class="al" text-anchor="middle">80</text>
<text transform="translate(458.6 239.9)" class="al" text-anchor="middle">90</text>
<text transform="translate(476.3 239.9)" class="al" text-anchor="middle">100</text>
<text transform="translate(494 239.9)" class="al" text-anchor="middle">110</text>
<text transform="translate(396.6 137.5) scale(1 0.97)" class="ti" text-anchor="middle">July 2000</text>
<path d="M300.3 355.7V276.4H494V355.7" fill="none" stroke="#9a9a9a" stroke-width="0.8"/>
<path d="M300.3 276.4V272.8M300.3 355.7V359.3M317.9 276.4V272.8M317.9 355.7V359.3M335.5 276.4V272.8M335.5 355.7V359.3M353.1 276.4V272.8M353.1 355.7V359.3M370.7 276.4V272.8M370.7 355.7V359.3M388.3 276.4V272.8M388.3 355.7V359.3M406 276.4V272.8M406 355.7V359.3M423.6 276.4V272.8M423.6 355.7V359.3M441.2 276.4V272.8M441.2 355.7V359.3M458.8 276.4V272.8M458.8 355.7V359.3M476.4 276.4V272.8M476.4 355.7V359.3M494 276.4V272.8M494 355.7V359.3M300.3 276.4H296.7M494 276.4H497.6M300.3 292.3H296.7M494 292.3H497.6M300.3 308.1H296.7M494 308.1H497.6M300.3 324H296.7M494 324H497.6M300.3 339.8H296.7M494 339.8H497.6M300.3 355.7H296.7M494 355.7H497.6" stroke="#9a9a9a" stroke-width="0.8" fill="none"/>
<path d="M303.8 355.7V357.5M307.3 355.7V357.5M310.9 355.7V357.5M314.4 355.7V357.5M321.4 355.7V357.5M325 355.7V357.5M328.5 355.7V357.5M332 355.7V357.5M339 355.7V357.5M342.6 355.7V357.5M346.1 355.7V357.5M349.6 355.7V357.5M356.6 355.7V357.5M360.2 355.7V357.5M363.7 355.7V357.5M367.2 355.7V357.5M374.3 355.7V357.5M377.8 355.7V357.5M381.3 355.7V357.5M384.8 355.7V357.5M391.9 355.7V357.5M395.4 355.7V357.5M398.9 355.7V357.5M402.4 355.7V357.5M409.5 355.7V357.5M413 355.7V357.5M416.5 355.7V357.5M420 355.7V357.5M427.1 355.7V357.5M430.6 355.7V357.5M434.1 355.7V357.5M437.7 355.7V357.5M444.7 355.7V357.5M448.2 355.7V357.5M451.7 355.7V357.5M455.3 355.7V357.5M462.3 355.7V357.5M465.8 355.7V357.5M469.3 355.7V357.5M472.9 355.7V357.5M479.9 355.7V357.5M483.4 355.7V357.5M487 355.7V357.5M490.5 355.7V357.5M300.3 279.6H298.5M300.3 282.7H298.5M300.3 285.9H298.5M300.3 289.1H298.5M300.3 295.4H298.5M300.3 298.6H298.5M300.3 301.8H298.5M300.3 304.9H298.5M300.3 311.3H298.5M300.3 314.5H298.5M300.3 317.6H298.5M300.3 320.8H298.5M300.3 327.2H298.5M300.3 330.3H298.5M300.3 333.5H298.5M300.3 336.7H298.5M300.3 343H298.5M300.3 346.2H298.5M300.3 349.4H298.5M300.3 352.5H298.5" stroke="#c8c8c8" stroke-width="0.8" fill="none"/>
<text transform="translate(295.7 279.4)" class="al" text-anchor="end">0</text>
<text transform="translate(295.7 295.3)" class="al" text-anchor="end">-20</text>
<text transform="translate(295.7 311.1)" class="al" text-anchor="end">-40</text>
<text transform="translate(295.7 327)" class="al" text-anchor="end">-60</text>
<text transform="translate(295.7 342.8)" class="al" text-anchor="end">-80</text>
<text transform="translate(295.7 358.7)" class="al" text-anchor="end">-100</text>
<text transform="translate(300.3 368)" class="al" text-anchor="middle">0</text>
<text transform="translate(317.9 368)" class="al" text-anchor="middle">10</text>
<text transform="translate(335.5 368)" class="al" text-anchor="middle">20</text>
<text transform="translate(353.1 368)" class="al" text-anchor="middle">30</text>
<text transform="translate(370.7 368)" class="al" text-anchor="middle">40</text>
<text transform="translate(388.3 368)" class="al" text-anchor="middle">50</text>
<text transform="translate(406 368)" class="al" text-anchor="middle">60</text>
<text transform="translate(423.6 368)" class="al" text-anchor="middle">70</text>
<text transform="translate(441.2 368)" class="al" text-anchor="middle">80</text>
<text transform="translate(458.8 368)" class="al" text-anchor="middle">90</text>
<text transform="translate(476.4 368)" class="al" text-anchor="middle">100</text>
<text transform="translate(494 368)" class="al" text-anchor="middle">110</text>
<text transform="translate(397.1 265.8) scale(1 0.97)" class="ti" text-anchor="middle">August 2000</text>
<path d="M300.5 485.5V408.3H494V485.5" fill="none" stroke="#9a9a9a" stroke-width="0.8"/>
<path d="M300.5 408.3V404.7M300.5 485.5V489.1M318.1 408.3V404.7M318.1 485.5V489.1M335.7 408.3V404.7M335.7 485.5V489.1M353.3 408.3V404.7M353.3 485.5V489.1M370.9 408.3V404.7M370.9 485.5V489.1M388.5 408.3V404.7M388.5 485.5V489.1M406 408.3V404.7M406 485.5V489.1M423.6 408.3V404.7M423.6 485.5V489.1M441.2 408.3V404.7M441.2 485.5V489.1M458.8 408.3V404.7M458.8 485.5V489.1M476.4 408.3V404.7M476.4 485.5V489.1M494 408.3V404.7M494 485.5V489.1M300.5 408.3H296.9M494 408.3H497.6M300.5 423.7H296.9M494 423.7H497.6M300.5 439.2H296.9M494 439.2H497.6M300.5 454.6H296.9M494 454.6H497.6M300.5 470.1H296.9M494 470.1H497.6M300.5 485.5H296.9M494 485.5H497.6" stroke="#9a9a9a" stroke-width="0.8" fill="none"/>
<path d="M304 485.5V487.3M307.5 485.5V487.3M311.1 485.5V487.3M314.6 485.5V487.3M321.6 485.5V487.3M325.1 485.5V487.3M328.6 485.5V487.3M332.2 485.5V487.3M339.2 485.5V487.3M342.7 485.5V487.3M346.2 485.5V487.3M349.8 485.5V487.3M356.8 485.5V487.3M360.3 485.5V487.3M363.8 485.5V487.3M367.3 485.5V487.3M374.4 485.5V487.3M377.9 485.5V487.3M381.4 485.5V487.3M384.9 485.5V487.3M392 485.5V487.3M395.5 485.5V487.3M399 485.5V487.3M402.5 485.5V487.3M409.6 485.5V487.3M413.1 485.5V487.3M416.6 485.5V487.3M420.1 485.5V487.3M427.2 485.5V487.3M430.7 485.5V487.3M434.2 485.5V487.3M437.7 485.5V487.3M444.7 485.5V487.3M448.3 485.5V487.3M451.8 485.5V487.3M455.3 485.5V487.3M462.3 485.5V487.3M465.9 485.5V487.3M469.4 485.5V487.3M472.9 485.5V487.3M479.9 485.5V487.3M483.4 485.5V487.3M487 485.5V487.3M490.5 485.5V487.3M300.5 411.4H298.7M300.5 414.5H298.7M300.5 417.6H298.7M300.5 420.7H298.7M300.5 426.8H298.7M300.5 429.9H298.7M300.5 433H298.7M300.5 436.1H298.7M300.5 442.3H298.7M300.5 445.4H298.7M300.5 448.4H298.7M300.5 451.5H298.7M300.5 457.7H298.7M300.5 460.8H298.7M300.5 463.9H298.7M300.5 467H298.7M300.5 473.1H298.7M300.5 476.2H298.7M300.5 479.3H298.7M300.5 482.4H298.7" stroke="#c8c8c8" stroke-width="0.8" fill="none"/>
<text transform="translate(295.9 411.3)" class="al" text-anchor="end">0</text>
<text transform="translate(295.9 426.7)" class="al" text-anchor="end">-20</text>
<text transform="translate(295.9 442.2)" class="al" text-anchor="end">-40</text>
<text transform="translate(295.9 457.6)" class="al" text-anchor="end">-60</text>
<text transform="translate(295.9 473.1)" class="al" text-anchor="end">-80</text>
<text transform="translate(295.9 488.5)" class="al" text-anchor="end">-100</text>
<text transform="translate(300.5 497.8)" class="al" text-anchor="middle">0</text>
<text transform="translate(318.1 497.8)" class="al" text-anchor="middle">10</text>
<text transform="translate(335.7 497.8)" class="al" text-anchor="middle">20</text>
<text transform="translate(353.3 497.8)" class="al" text-anchor="middle">30</text>
<text transform="translate(370.9 497.8)" class="al" text-anchor="middle">40</text>
<text transform="translate(388.5 497.8)" class="al" text-anchor="middle">50</text>
<text transform="translate(406 497.8)" class="al" text-anchor="middle">60</text>
<text transform="translate(423.6 497.8)" class="al" text-anchor="middle">70</text>
<text transform="translate(441.2 497.8)" class="al" text-anchor="middle">80</text>
<text transform="translate(458.8 497.8)" class="al" text-anchor="middle">90</text>
<text transform="translate(476.4 497.8)" class="al" text-anchor="middle">100</text>
<text transform="translate(494 497.8)" class="al" text-anchor="middle">110</text>
<text transform="translate(397.2 397.7) scale(1 0.97)" class="ti" text-anchor="middle">June 2001</text>
<path d="M299.2 614.6V536.4H494V614.6" fill="none" stroke="#9a9a9a" stroke-width="0.8"/>
<path d="M299.2 536.4V532.8M299.2 614.6V618.2M316.9 536.4V532.8M316.9 614.6V618.2M334.6 536.4V532.8M334.6 614.6V618.2M352.3 536.4V532.8M352.3 614.6V618.2M370 536.4V532.8M370 614.6V618.2M387.7 536.4V532.8M387.7 614.6V618.2M405.5 536.4V532.8M405.5 614.6V618.2M423.2 536.4V532.8M423.2 614.6V618.2M440.9 536.4V532.8M440.9 614.6V618.2M458.6 536.4V532.8M458.6 614.6V618.2M476.3 536.4V532.8M476.3 614.6V618.2M494 536.4V532.8M494 614.6V618.2M299.2 536.4H295.6M494 536.4H497.6M299.2 552H295.6M494 552H497.6M299.2 567.7H295.6M494 567.7H497.6M299.2 583.3H295.6M494 583.3H497.6M299.2 599H295.6M494 599H497.6M299.2 614.6H295.6M494 614.6H497.6" stroke="#9a9a9a" stroke-width="0.8" fill="none"/>
<path d="M302.7 614.6V616.4M306.3 614.6V616.4M309.8 614.6V616.4M313.4 614.6V616.4M320.5 614.6V616.4M324 614.6V616.4M327.5 614.6V616.4M331.1 614.6V616.4M338.2 614.6V616.4M341.7 614.6V616.4M345.2 614.6V616.4M348.8 614.6V616.4M355.9 614.6V616.4M359.4 614.6V616.4M363 614.6V616.4M366.5 614.6V616.4M373.6 614.6V616.4M377.1 614.6V616.4M380.7 614.6V616.4M384.2 614.6V616.4M391.3 614.6V616.4M394.8 614.6V616.4M398.4 614.6V616.4M401.9 614.6V616.4M409 614.6V616.4M412.5 614.6V616.4M416.1 614.6V616.4M419.6 614.6V616.4M426.7 614.6V616.4M430.2 614.6V616.4M433.8 614.6V616.4M437.3 614.6V616.4M444.4 614.6V616.4M448 614.6V616.4M451.5 614.6V616.4M455 614.6V616.4M462.1 614.6V616.4M465.7 614.6V616.4M469.2 614.6V616.4M472.7 614.6V616.4M479.8 614.6V616.4M483.4 614.6V616.4M486.9 614.6V616.4M490.5 614.6V616.4M299.2 539.5H297.4M299.2 542.7H297.4M299.2 545.8H297.4M299.2 548.9H297.4M299.2 555.2H297.4M299.2 558.3H297.4M299.2 561.4H297.4M299.2 564.6H297.4M299.2 570.8H297.4M299.2 573.9H297.4M299.2 577.1H297.4M299.2 580.2H297.4M299.2 586.4H297.4M299.2 589.6H297.4M299.2 592.7H297.4M299.2 595.8H297.4M299.2 602.1H297.4M299.2 605.2H297.4M299.2 608.3H297.4M299.2 611.5H297.4" stroke="#c8c8c8" stroke-width="0.8" fill="none"/>
<text transform="translate(294.6 539.4)" class="al" text-anchor="end">0</text>
<text transform="translate(294.6 555)" class="al" text-anchor="end">-20</text>
<text transform="translate(294.6 570.7)" class="al" text-anchor="end">-40</text>
<text transform="translate(294.6 586.3)" class="al" text-anchor="end">-60</text>
<text transform="translate(294.6 602)" class="al" text-anchor="end">-80</text>
<text transform="translate(294.6 617.6)" class="al" text-anchor="end">-100</text>
<text transform="translate(299.2 626.9)" class="al" text-anchor="middle">0</text>
<text transform="translate(316.9 626.9)" class="al" text-anchor="middle">10</text>
<text transform="translate(334.6 626.9)" class="al" text-anchor="middle">20</text>
<text transform="translate(352.3 626.9)" class="al" text-anchor="middle">30</text>
<text transform="translate(370 626.9)" class="al" text-anchor="middle">40</text>
<text transform="translate(387.7 626.9)" class="al" text-anchor="middle">50</text>
<text transform="translate(405.5 626.9)" class="al" text-anchor="middle">60</text>
<text transform="translate(423.2 626.9)" class="al" text-anchor="middle">70</text>
<text transform="translate(440.9 626.9)" class="al" text-anchor="middle">80</text>
<text transform="translate(458.6 626.9)" class="al" text-anchor="middle">90</text>
<text transform="translate(476.3 626.9)" class="al" text-anchor="middle">100</text>
<text transform="translate(494 626.9)" class="al" text-anchor="middle">110</text>
<text transform="translate(396.6 525.8) scale(1 0.97)" class="ti" text-anchor="middle">August 2001</text>
<rect x="228.6" y="173.9" width="16.6" height="14.2" fill="rgb(140,0,0)"/>
<rect x="228.6" y="187.1" width="16.6" height="14.2" fill="rgb(140,0,0)"/>
<rect x="228.6" y="200.2" width="16.6" height="14.2" fill="rgb(140,0,0)"/>
<rect x="228.6" y="213.4" width="16.6" height="14.2" fill="rgb(140,0,0)"/>
<rect x="228.6" y="226.5" width="16.6" height="14.2" fill="rgb(140,0,0)"/>
<rect x="228.6" y="239.7" width="16.6" height="14.2" fill="rgb(140,0,0)"/>
<rect x="228.6" y="252.9" width="16.6" height="14.2" fill="rgb(200,0,30)"/>
<rect x="228.6" y="266" width="16.6" height="14.2" fill="rgb(255,0,0)"/>
<rect x="228.6" y="279.2" width="16.6" height="14.2" fill="rgb(65,75,50)"/>
<rect x="228.6" y="292.3" width="16.6" height="14.2" fill="rgb(40,110,60)"/>
<rect x="228.6" y="305.5" width="16.6" height="14.2" fill="rgb(110,150,110)"/>
<rect x="228.6" y="318.7" width="16.6" height="14.2" fill="rgb(60,165,55)"/>
<rect x="228.6" y="331.8" width="16.6" height="14.2" fill="rgb(45,180,35)"/>
<rect x="228.6" y="345" width="16.6" height="14.2" fill="rgb(40,215,10)"/>
<rect x="228.6" y="358.1" width="16.6" height="14.2" fill="rgb(20,242,0)"/>
<rect x="228.6" y="371.3" width="16.6" height="14.2" fill="rgb(90,225,0)"/>
<rect x="228.6" y="384.5" width="16.6" height="14.2" fill="rgb(185,215,0)"/>
<rect x="228.6" y="397.6" width="16.6" height="14.2" fill="rgb(255,208,0)"/>
<rect x="228.6" y="410.8" width="16.6" height="14.2" fill="rgb(255,232,48)"/>
<rect x="228.6" y="423.9" width="16.6" height="13.2" fill="rgb(255,255,198)"/>
<line x1="228.6" x2="245.2" y1="187.1" y2="187.1" stroke="#7a0010" stroke-width="0.8"/>
<line x1="228.6" x2="245.2" y1="200.2" y2="200.2" stroke="#7a0010" stroke-width="0.8"/>
<line x1="228.6" x2="245.2" y1="213.4" y2="213.4" stroke="#7a0010" stroke-width="0.8"/>
<line x1="228.6" x2="245.2" y1="226.5" y2="226.5" stroke="#7a0010" stroke-width="0.8"/>
<line x1="228.6" x2="245.2" y1="239.7" y2="239.7" stroke="#7a0010" stroke-width="0.8"/>
<text transform="translate(250.3 192.9) scale(1 1.08)" class="cb" style="fill:#111">15</text>
<text transform="translate(250.3 219.2) scale(1 1.08)" class="cb" style="fill:#111">13</text>
<text transform="translate(250.3 245.5) scale(1 1.08)" class="cb" style="fill:#111">11</text>
<text transform="translate(250.3 271.8) scale(1 1.08)" class="cb" style="fill:#111">9</text>
<text transform="translate(250.3 298.1) scale(1 1.08)" class="cb" style="fill:#111">7</text>
<text transform="translate(250.3 324.5) scale(1 1.08)" class="cb" style="fill:#111">5</text>
<text transform="translate(250.3 350.8) scale(1 1.08)" class="cb" style="fill:#14143a">4</text>
<text transform="translate(250.3 377.1) scale(1 1.08)" class="cb" style="fill:#10106a">3</text>
<text transform="translate(250.3 403.4) scale(1 1.08)" class="cb" style="fill:#111">2</text>
<text transform="translate(250.3 429.7) scale(1 1.08)" class="cb" style="fill:#111">1</text>
<rect x="514.2" y="178.7" width="18.3" height="10.5" fill="rgb(255,0,0)"/>
<rect x="514.2" y="188.2" width="18.3" height="10.5" fill="rgb(255,0,0)"/>
<rect x="514.2" y="197.7" width="18.3" height="10.5" fill="rgb(255,0,0)"/>
<rect x="514.2" y="207.3" width="18.3" height="10.5" fill="rgb(255,0,0)"/>
<rect x="514.2" y="216.8" width="18.3" height="10.5" fill="rgb(255,0,0)"/>
<rect x="514.2" y="226.3" width="18.3" height="10.5" fill="rgb(255,0,0)"/>
<rect x="514.2" y="235.8" width="18.3" height="10.5" fill="rgb(255,0,0)"/>
<rect x="514.2" y="245.3" width="18.3" height="10.5" fill="rgb(255,0,0)"/>
<rect x="514.2" y="254.8" width="18.3" height="10.5" fill="rgb(246,0,8)"/>
<rect x="514.2" y="264.4" width="18.3" height="10.5" fill="rgb(230,0,25)"/>
<rect x="514.2" y="273.9" width="18.3" height="10.5" fill="rgb(212,0,42)"/>
<rect x="514.2" y="283.4" width="18.3" height="10.5" fill="rgb(196,0,59)"/>
<rect x="514.2" y="292.9" width="18.3" height="10.5" fill="rgb(178,0,77)"/>
<rect x="514.2" y="302.4" width="18.3" height="10.5" fill="rgb(162,0,94)"/>
<rect x="514.2" y="311.9" width="18.3" height="10.5" fill="rgb(144,0,110)"/>
<rect x="514.2" y="321.5" width="18.3" height="10.5" fill="rgb(128,0,128)"/>
<rect x="514.2" y="331" width="18.3" height="10.5" fill="rgb(110,0,144)"/>
<rect x="514.2" y="340.5" width="18.3" height="10.5" fill="rgb(94,0,162)"/>
<rect x="514.2" y="350" width="18.3" height="10.5" fill="rgb(76,0,178)"/>
<rect x="514.2" y="359.5" width="18.3" height="10.5" fill="rgb(60,0,195)"/>
<rect x="514.2" y="369.1" width="18.3" height="10.5" fill="rgb(42,0,212)"/>
<rect x="514.2" y="378.6" width="18.3" height="10.5" fill="rgb(26,0,230)"/>
<rect x="514.2" y="388.1" width="18.3" height="10.5" fill="rgb(8,0,246)"/>
<rect x="514.2" y="397.6" width="18.3" height="10.5" fill="rgb(0,0,255)"/>
<rect x="514.2" y="407.1" width="18.3" height="10.5" fill="rgb(0,0,255)"/>
<rect x="514.2" y="416.6" width="18.3" height="10.5" fill="rgb(0,0,255)"/>
<rect x="514.2" y="426.2" width="18.3" height="10.5" fill="rgb(0,0,255)"/>
<rect x="514.2" y="435.7" width="18.3" height="9.5" fill="rgb(0,0,255)"/>
<text transform="translate(538.3 203.3) scale(1 1.1)" class="cb2">18</text>
<text transform="translate(538.3 222.4) scale(1 1.1)" class="cb2">17</text>
<text transform="translate(538.3 241.4) scale(1 1.1)" class="cb2">16</text>
<text transform="translate(538.3 260.4) scale(1 1.1)" class="cb2">15</text>
<text transform="translate(538.3 279.5) scale(1 1.1)" class="cb2">14</text>
<text transform="translate(538.3 298.5) scale(1 1.1)" class="cb2">13</text>
<text transform="translate(538.3 317.6) scale(1 1.1)" class="cb2">12</text>
<text transform="translate(538.3 336.6) scale(1 1.1)" class="cb2">11</text>
<text transform="translate(538.3 355.6) scale(1 1.1)" class="cb2">10</text>
<text transform="translate(538.3 374.7) scale(1 1.1)" class="cb2">9</text>
<text transform="translate(538.3 393.7) scale(1 1.1)" class="cb2">8</text>
<text transform="translate(538.3 412.7) scale(1 1.1)" class="cb2">7</text>
<text transform="translate(538.3 431.8) scale(1 1.1)" class="cb2">6</text>
<text transform="translate(538.3 450.8) scale(1 1.1)" class="cb2">5</text>
<text x="318" y="561" class="cl" text-anchor="middle">11</text>
<text x="342" y="559" class="cl" text-anchor="middle">13</text>
<text x="358.6" y="558" class="cl" text-anchor="middle">15</text>
<text x="423.3" y="562" class="cl" text-anchor="middle">9</text>
<text x="434" y="561" class="cl" text-anchor="middle">11</text>
<text x="457" y="558.5" class="cl" text-anchor="middle">13</text>
<text x="474" y="554.5" class="cl" text-anchor="middle">15</text>
<polyline points="300,44 301.7,43.9 303.3,44.5 305,44.5 306.7,44.5 308.3,44.7 310,45 311.7,45.5 313.3,45.4 315,45.7 316.7,46.4 318.3,46.1 320,46.5 321.7,46.9 323.3,47.2 325,48.1 326.7,48.6 328.3,49 330,49.5 331.2,50.4 332.3,51.3 333.5,52.7 334.7,53.5 335.8,54.8 337,55.5 338.2,56.6 339.3,58.2 340.5,58.9 341.7,60.3 342.8,62.1 344,63 345,64.3 346,65.4 347,66.4 348,67.5" fill="none" stroke="#00006e" stroke-width="0.6" opacity="0.8"/>
<polyline points="301,183.8 302.6,183.9 304.1,183.8 305.7,183.9 307.2,184.4 308.8,184.6 310.3,184.4 311.9,184.8 313.4,184.6 315,185 316.6,185.3 318.2,185.2 319.9,185.8 321.5,185.9 323.1,186.3 324.8,186.2 326.4,186.7 328,187 329.7,187.5 331.3,187.5 333,188.1 334.7,188.8 336.3,189.1 338,189.5 339.8,190.1 341.5,190.7 343.2,191.1 345,191.5 346.6,192.1 348.3,193.1" fill="none" stroke="#00006e" stroke-width="0.6" opacity="0.8"/>
<polyline points="305,434 306.6,434 308.1,434.3 309.7,434.1 311.2,434.3 312.8,434 314.4,434.1 315.9,434.6 317.5,434.5 319.1,434.4 320.6,434 322.2,434.4 323.8,434 325.3,434.8 326.9,434.8 328.4,434.7 330,434.5 331.5,434.3 333,434.8 334.5,434.2 336,434.7 337.5,434.5 339,434.1 340.5,434.8 342,434.4 343.5,434.7 345,434.6 346.5,434.5 348,434.7 349.5,434.2 351,434.7 352.5,434.3 354,434.4 355.6,434.3 357.2,434.8 358.8,434.8 360.4,435.1 362,435.8 363.6,435.7 365.2,435.9 366.8,436.3 368.4,436.6 370,437 371.6,437.7 373.2,438.1 374.9,438.4 376.5,438.9 378.1,438.8 379.8,439.5 381.4,439.4 383,440 384.3,441.2 385.6,441.9 386.9,442.7 388.2,443.1 389.4,443.8 390.7,445.3 392,445.9 393.3,446.8 394.6,447.5" fill="none" stroke="#00006e" stroke-width="0.6" opacity="0.8"/>
<polyline points="322,559.5 323.6,560 325.2,559.6 326.9,560.2 328.5,560.2 330.1,560.7 331.8,560.6 333.4,560.6 335,561 336.5,561.5 338,561 339.5,561.5 341,561.7 342.5,561.3 344,561.8 345.5,561.6 347,561.6 348.5,561.7 350,562 351.5,562.4 353,562 354.5,562.2 356,562.3 357.5,561.9 359,562.6 360.5,562.6 362,562.5 363.6,563.1 365.3,562.9 367,563.1 368.6,563.6 370,564.4 371.5,565.6 372.9,566.4 374.3,567.2 374.9,568.5 375.4,570.1 375.9,571.2 376.5,572.9" fill="none" stroke="#00006e" stroke-width="0.6" opacity="0.8"/>
<text x="346" y="198.5" class="cl" style="font-size:6.5px">7</text>
<text x="392.5" y="318.5" class="cl" style="font-size:6.5px">9</text>
<text x="409" y="184.5" class="cl" style="font-size:6.5px">9</text>
<text x="392" y="450.5" class="cl" style="font-size:6.5px">7</text>
<text x="349" y="70.5" class="cl" style="font-size:6.5px">7</text>
</svg>
</body></html>
